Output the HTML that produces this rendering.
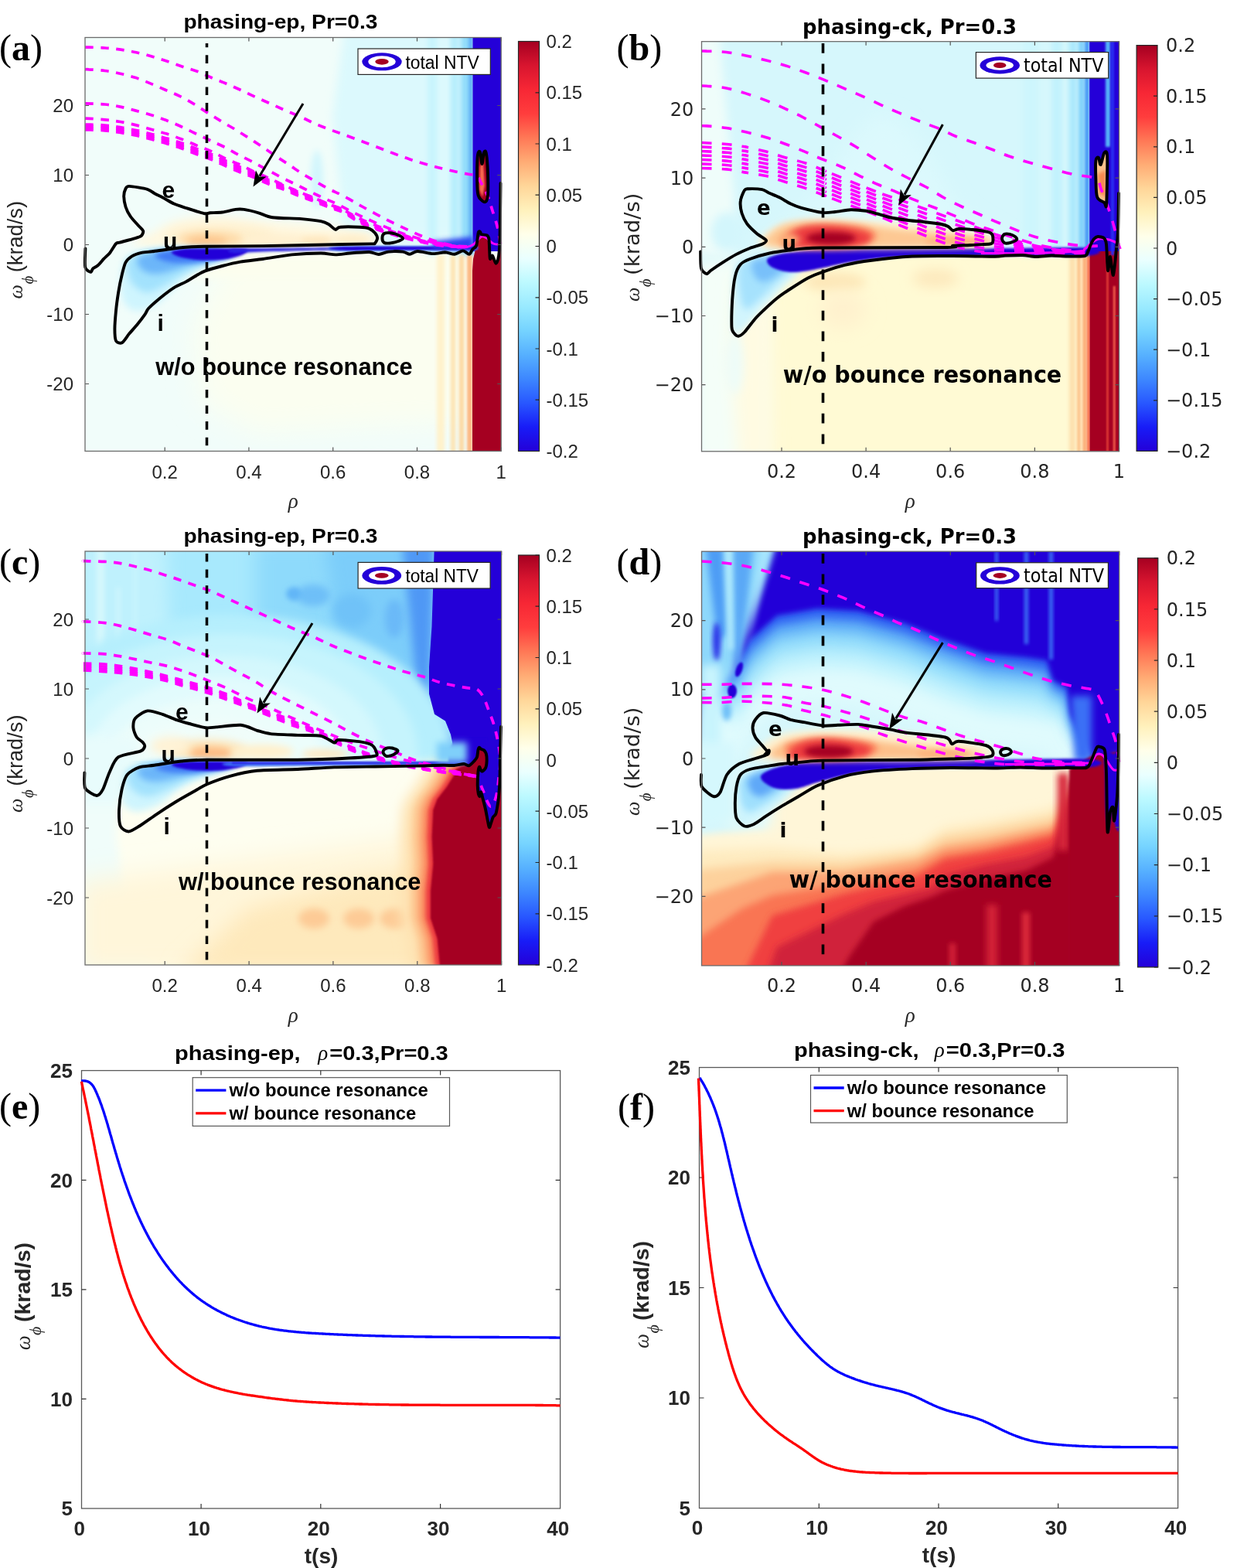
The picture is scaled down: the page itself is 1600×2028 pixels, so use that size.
<!DOCTYPE html>
<html><head><meta charset="utf-8"><title>figure</title>
<style>html,body{margin:0;padding:0;background:#fff;} svg{display:block;}</style></head>
<body><svg xmlns="http://www.w3.org/2000/svg" width="1600" height="2028" viewBox="0 0 1600 2028">
<rect width="1600" height="2028" fill="#fff"/>
<defs><filter id="bl6" x="-50%" y="-50%" width="200%" height="200%"><feGaussianBlur stdDeviation="6"/></filter><filter id="bl18" x="-50%" y="-50%" width="200%" height="200%"><feGaussianBlur stdDeviation="18"/></filter><filter id="bl3" x="-50%" y="-50%" width="200%" height="200%"><feGaussianBlur stdDeviation="3"/></filter><filter id="bl2" x="-50%" y="-50%" width="200%" height="200%"><feGaussianBlur stdDeviation="2"/></filter><filter id="bl4" x="-50%" y="-50%" width="200%" height="200%"><feGaussianBlur stdDeviation="4"/></filter><filter id="bl1_5" x="-50%" y="-50%" width="200%" height="200%"><feGaussianBlur stdDeviation="1.5"/></filter><filter id="bl1" x="-50%" y="-50%" width="200%" height="200%"><feGaussianBlur stdDeviation="1"/></filter><filter id="bl7" x="-50%" y="-50%" width="200%" height="200%"><feGaussianBlur stdDeviation="7"/></filter><filter id="bl5" x="-50%" y="-50%" width="200%" height="200%"><feGaussianBlur stdDeviation="5"/></filter><filter id="bl1_8" x="-50%" y="-50%" width="200%" height="200%"><feGaussianBlur stdDeviation="1.8"/></filter><filter id="bl1_2" x="-50%" y="-50%" width="200%" height="200%"><feGaussianBlur stdDeviation="1.2"/></filter><filter id="bl0_8" x="-50%" y="-50%" width="200%" height="200%"><feGaussianBlur stdDeviation="0.8"/></filter><filter id="bl12" x="-50%" y="-50%" width="200%" height="200%"><feGaussianBlur stdDeviation="12"/></filter><filter id="bl9" x="-50%" y="-50%" width="200%" height="200%"><feGaussianBlur stdDeviation="9"/></filter><filter id="bl10" x="-50%" y="-50%" width="200%" height="200%"><feGaussianBlur stdDeviation="10"/></filter><filter id="bl8" x="-50%" y="-50%" width="200%" height="200%"><feGaussianBlur stdDeviation="8"/></filter><filter id="bl3_5" x="-50%" y="-50%" width="200%" height="200%"><feGaussianBlur stdDeviation="3.5"/></filter><filter id="bl16" x="-50%" y="-50%" width="200%" height="200%"><feGaussianBlur stdDeviation="16"/></filter><filter id="bl14" x="-50%" y="-50%" width="200%" height="200%"><feGaussianBlur stdDeviation="14"/></filter><filter id="bl2_5" x="-50%" y="-50%" width="200%" height="200%"><feGaussianBlur stdDeviation="2.5"/></filter></defs>
<defs>
<linearGradient id="cbg" x1="0" y1="1" x2="0" y2="0"><stop offset="0.0000" stop-color="#2400d8"/><stop offset="0.0588" stop-color="#181cf7"/><stop offset="0.1176" stop-color="#2857ff"/><stop offset="0.1765" stop-color="#3d87ff"/><stop offset="0.2353" stop-color="#56b0ff"/><stop offset="0.2941" stop-color="#75d3ff"/><stop offset="0.3529" stop-color="#99eaff"/><stop offset="0.4118" stop-color="#bcf9ff"/><stop offset="0.4706" stop-color="#eaffff"/><stop offset="0.5294" stop-color="#ffffea"/><stop offset="0.5882" stop-color="#fff1bc"/><stop offset="0.6471" stop-color="#ffd699"/><stop offset="0.7059" stop-color="#ffac75"/><stop offset="0.7647" stop-color="#ff7856"/><stop offset="0.8235" stop-color="#ff3d3d"/><stop offset="0.8824" stop-color="#f72735"/><stop offset="0.9412" stop-color="#d8152f"/><stop offset="1.0000" stop-color="#a50021"/></linearGradient>
</defs>
<clipPath id="clipa"><rect x="110.0" y="48.5" width="538.2" height="535.0"/></clipPath>
<g clip-path="url(#clipa)">
<rect x="110.0" y="48.5" width="538.2" height="535.0" fill="#f1fdfa"  opacity="1"/>
<path d="M445.0,40.0L660.0,40.0L660.0,330.0L445.0,330.0L440.0,250.0L430.0,150.0Z" fill="#dcf9fd" filter="url(#bl6)" opacity="1"/>
<path d="M300.0,330.0L660.0,330.0L660.0,545.0L490.0,550.0L330.0,560.0L260.0,520.0L250.0,420.0L280.0,360.0Z" fill="#fbfef0" filter="url(#bl18)" opacity="1"/>
<path d="M200.0,330.0L660.0,330.0L660.0,360.0L200.0,360.0Z" fill="#fcfeee" filter="url(#bl6)" opacity="1"/>
<rect x="553" y="40" width="12" height="290" fill="#c8f4fd" filter="url(#bl3)" opacity="1"/>
<rect x="583" y="40" width="10" height="290" fill="#b4edfd" filter="url(#bl3)" opacity="1"/>
<rect x="596" y="40" width="12" height="290" fill="#8fdcfb" filter="url(#bl3)" opacity="1"/>
<rect x="606" y="40" width="6" height="290" fill="#55acf5" filter="url(#bl2)" opacity="1"/>
<ellipse cx="410" cy="232" rx="8" ry="38" fill="#d2f6fd" filter="url(#bl4)" opacity="1"/>
<rect x="565" y="330" width="10" height="260" fill="#fff2cc" filter="url(#bl2)" opacity="1"/>
<rect x="583" y="330" width="6" height="260" fill="#fde2ae" filter="url(#bl2)" opacity="1"/>
<rect x="594" y="330" width="6" height="260" fill="#fdd49a" filter="url(#bl2)" opacity="1"/>
<rect x="604" y="330" width="7" height="260" fill="#fcb985" filter="url(#bl1_5)" opacity="1"/>
<rect x="611.5" y="40" width="40" height="285" fill="#2400d8"  opacity="1"/>
<path d="M611.0,350.0L612.0,335.0L616.0,318.0L620.0,305.0L626.0,306.0L632.0,311.0L633.5,334.0L637.0,331.0L641.0,341.0L644.5,334.0L646.5,318.0L648.5,318.0L650.0,600.0L611.0,600.0Z" fill="#a50021"  opacity="1"/>
<path d="M618.0,200.0C618.7,195.3 620.2,195.0 621.0,197.0C621.8,199.0 622.2,212.0 623.0,212.0C623.8,212.0 625.0,199.0 626.0,197.0C627.0,195.0 628.2,195.3 629.0,200.0C629.8,204.7 630.7,216.3 631.0,225.0C631.3,233.7 631.5,246.0 631.0,252.0C630.5,258.0 629.5,260.0 628.0,261.0C626.5,262.0 623.7,259.8 622.0,258.0C620.3,256.2 618.8,255.5 618.0,250.0C617.2,244.5 617.0,233.3 617.0,225.0C617.0,216.7 617.3,204.7 618.0,200.0Z" fill="#a50021"  opacity="1"/>
<path d="M621.0,215.0L625.0,210.0L627.0,240.0L624.0,255.0L620.0,245.0Z" fill="#f96a4f" filter="url(#bl1)" opacity="1"/>
<path d="M190.0,318.0C145.0,315.0 193.3,305.5 200.0,300.0C206.7,294.5 216.7,288.3 230.0,285.0C243.3,281.7 261.7,279.8 280.0,280.0C298.3,280.2 316.7,284.0 340.0,286.0C363.3,288.0 396.7,289.7 420.0,292.0C443.3,294.3 468.7,296.7 480.0,300.0C491.3,303.3 489.7,309.0 488.0,312.0C486.3,315.0 519.7,317.0 470.0,318.0C420.3,319.0 235.0,321.0 190.0,318.0Z" fill="#fff8e0" filter="url(#bl6)" opacity="1"/>
<ellipse cx="285" cy="305" rx="70" ry="14" fill="#feefcc" filter="url(#bl7)" opacity="1"/>
<ellipse cx="272" cy="309" rx="42" ry="10" fill="#fedcaa" filter="url(#bl5)" opacity="1"/>
<ellipse cx="268" cy="312" rx="26" ry="6" fill="#fdc68e" filter="url(#bl4)" opacity="1"/>
<ellipse cx="360" cy="310" rx="40" ry="8" fill="#fff0d0" filter="url(#bl5)" opacity="1"/>
<ellipse cx="410" cy="311" rx="22" ry="6" fill="#fee6bc" filter="url(#bl4)" opacity="1"/>
<ellipse cx="455" cy="310" rx="25" ry="6" fill="#feedc8" filter="url(#bl4)" opacity="1"/>
<path d="M158.0,345.0C160.3,335.8 165.0,333.5 172.0,330.0C179.0,326.5 187.0,325.3 200.0,324.0C213.0,322.7 233.3,322.3 250.0,322.0C266.7,321.7 291.7,320.0 300.0,322.0C308.3,324.0 306.7,329.7 300.0,334.0C293.3,338.3 271.7,342.3 260.0,348.0C248.3,353.7 239.2,360.7 230.0,368.0C220.8,375.3 214.2,386.3 205.0,392.0C195.8,397.7 182.8,403.2 175.0,402.0C167.2,400.8 160.8,394.5 158.0,385.0C155.2,375.5 155.7,354.2 158.0,345.0Z" fill="#cff5fe" filter="url(#bl5)" opacity="1"/>
<path d="M165.0,338.0C167.5,331.7 175.8,329.5 185.0,327.0C194.2,324.5 202.5,323.7 220.0,323.0C237.5,322.3 280.0,320.8 290.0,323.0C300.0,325.2 287.5,331.5 280.0,336.0C272.5,340.5 255.8,344.7 245.0,350.0C234.2,355.3 224.2,363.3 215.0,368.0C205.8,372.7 197.5,378.5 190.0,378.0C182.5,377.5 174.2,371.7 170.0,365.0C165.8,358.3 162.5,344.3 165.0,338.0Z" fill="#a3e2fd" filter="url(#bl5)" opacity="1"/>
<path d="M178.0,334.0C180.5,330.0 190.5,327.8 200.0,326.0C209.5,324.2 222.5,323.3 235.0,323.0C247.5,322.7 270.5,321.8 275.0,324.0C279.5,326.2 268.7,332.3 262.0,336.0C255.3,339.7 244.5,343.0 235.0,346.0C225.5,349.0 213.3,353.3 205.0,354.0C196.7,354.7 189.5,353.3 185.0,350.0C180.5,346.7 175.5,338.0 178.0,334.0Z" fill="#6cb6f9" filter="url(#bl4)" opacity="1"/>
<path d="M200.0,330.0C200.8,327.7 211.7,325.2 220.0,324.0C228.3,322.8 240.0,322.7 250.0,322.5C260.0,322.3 271.7,321.8 280.0,323.0C288.3,324.2 301.7,327.5 300.0,330.0C298.3,332.5 280.0,336.3 270.0,338.0C260.0,339.7 249.2,340.0 240.0,340.0C230.8,340.0 221.7,339.7 215.0,338.0C208.3,336.3 199.2,332.3 200.0,330.0Z" fill="#3f7cf5" filter="url(#bl3)" opacity="1"/>
<path d="M222.0,326.0C223.3,324.3 232.0,322.8 240.0,322.0C248.0,321.2 260.0,321.6 270.0,321.5C280.0,321.4 291.7,321.2 300.0,321.5C308.3,321.8 318.3,321.4 320.0,323.0C321.7,324.6 315.8,328.8 310.0,331.0C304.2,333.2 294.2,335.2 285.0,336.0C275.8,336.8 263.8,336.7 255.0,336.0C246.2,335.3 237.5,333.7 232.0,332.0C226.5,330.3 220.7,327.7 222.0,326.0Z" fill="#2400d8" filter="url(#bl1_8)" opacity="1"/>
<path d="M300.0,321.5C306.7,320.5 323.3,321.2 340.0,321.0C356.7,320.8 383.3,320.6 400.0,320.5C416.7,320.4 433.3,320.1 440.0,320.5C446.7,320.9 446.7,322.4 440.0,323.0C433.3,323.6 416.7,323.6 400.0,324.0C383.3,324.4 356.7,325.0 340.0,325.5C323.3,326.0 306.7,327.7 300.0,327.0C293.3,326.3 293.3,322.5 300.0,321.5Z" fill="#2a20e4" filter="url(#bl1_5)" opacity="1"/>
<path d="M440.0,318.5C460.0,317.3 531.3,318.2 560.0,318.0C588.7,317.8 603.3,316.5 612.0,317.5C620.7,318.5 620.7,322.8 612.0,324.0C603.3,325.2 588.7,324.3 560.0,324.5C531.3,324.7 460.0,326.0 440.0,325.0C420.0,324.0 420.0,319.7 440.0,318.5Z" fill="#6fb8fa" filter="url(#bl1_2)" opacity="1"/>
<path d="M440.0,319.2C460.0,318.4 531.3,318.9 560.0,318.8C588.7,318.7 603.3,317.8 612.0,318.5C620.7,319.2 620.7,322.2 612.0,323.0C603.3,323.8 588.7,323.1 560.0,323.2C531.3,323.3 460.0,324.4 440.0,323.7C420.0,323.0 420.0,320.0 440.0,319.2Z" fill="#2400d8" filter="url(#bl0_8)" opacity="1"/>
<path d="M560.0,312.0L612.0,306.0L612.0,322.0L560.0,322.0Z" fill="#2a40f0" filter="url(#bl3)" opacity="1"/>
</g>
<path d="M110.3,61.1C111.1,61.1 111.1,61.0 115.3,61.1C119.5,61.2 128.8,61.5 135.6,62.0C142.4,62.5 149.3,63.3 156.1,64.2C162.9,65.2 169.5,66.3 176.2,67.8C182.9,69.2 189.8,71.1 196.4,73.0C203.0,74.9 209.1,76.9 215.6,79.1C222.1,81.3 228.8,83.9 235.4,86.1C242.0,88.3 248.5,89.8 255.0,92.2C261.5,94.7 267.8,97.9 274.2,100.7C280.6,103.4 287.3,105.9 293.5,108.5C299.7,111.1 305.3,113.7 311.5,116.5C317.7,119.3 324.2,122.6 330.5,125.5C336.8,128.4 343.2,131.2 349.5,134.0C355.8,136.8 362.0,139.7 368.5,142.5C375.0,145.3 382.2,148.2 388.5,151.0C394.8,153.8 400.4,156.8 406.5,159.5C412.6,162.2 418.7,164.6 425.0,167.0C431.3,169.4 437.0,171.2 444.5,174.0C452.0,176.8 460.8,180.0 470.0,183.5C479.2,187.0 490.0,191.2 500.0,195.0C510.0,198.8 520.0,202.7 530.0,206.0C540.0,209.3 550.8,212.5 560.0,215.0C569.2,217.5 577.2,219.2 585.0,221.0C592.8,222.8 601.7,224.5 607.0,225.5C612.3,226.5 614.3,225.2 616.8,227.0C619.3,228.8 619.6,231.6 622.0,236.0C624.4,240.4 628.5,247.5 631.0,253.7C633.5,259.9 635.1,266.5 637.2,273.2C639.3,279.9 641.8,287.0 643.4,293.7C645.0,300.4 646.1,309.1 647.0,313.2C647.9,317.2 648.7,317.2 649.0,318.0" fill="none" stroke="#ff00ff" stroke-width="3.7" stroke-dasharray="10.5 9.5"/>
<path d="M110.3,89.8C111.1,89.8 110.8,89.5 115.0,89.8C119.2,90.0 128.8,90.6 135.6,91.5C142.4,92.4 148.9,93.7 155.6,95.2C162.3,96.8 169.0,98.5 175.6,100.6C182.2,102.7 188.6,105.5 195.0,108.1C201.4,110.7 207.5,113.5 213.8,116.2C220.0,119.0 226.4,121.4 232.5,124.4C238.6,127.4 244.7,130.9 250.6,134.4C256.5,137.9 262.2,141.8 268.1,145.6C274.0,149.3 280.4,153.3 286.2,156.9C292.1,160.5 297.7,163.5 303.5,167.0C309.3,170.5 315.2,174.3 321.0,178.0C326.8,181.7 332.2,185.2 338.0,189.0C343.8,192.8 349.7,197.1 355.5,201.0C361.3,204.9 367.2,208.7 373.0,212.5C378.8,216.3 384.3,220.4 390.0,224.0C395.7,227.6 401.1,230.6 407.0,234.0C412.9,237.4 419.2,241.2 425.5,244.5C431.8,247.8 437.1,249.6 444.5,253.5C451.9,257.4 460.8,262.9 470.0,268.0C479.2,273.1 490.0,278.9 500.0,284.0C510.0,289.1 520.8,294.3 530.0,298.5C539.2,302.7 547.5,306.2 555.0,309.0C562.5,311.8 569.2,313.5 575.0,315.0C580.8,316.5 584.2,317.3 590.0,318.0C595.8,318.7 606.7,318.8 610.0,319.0" fill="none" stroke="#ff00ff" stroke-width="3.7" stroke-dasharray="10.5 9.5"/>
<path d="M110.3,133.8C114.5,134.0 128.0,134.3 135.6,135.0C143.2,135.7 148.9,136.8 155.6,138.1C162.3,139.4 168.9,141.3 175.6,143.1C182.3,144.9 189.0,146.7 195.6,148.8C202.2,150.8 208.5,153.1 215.0,155.6C221.5,158.1 228.2,160.9 234.4,163.8C240.7,166.6 246.2,169.5 252.5,172.5C258.9,175.5 265.9,178.8 272.5,181.9C279.1,185.0 286.1,188.0 292.0,191.0C297.9,194.0 302.3,197.0 308.0,200.0C313.7,203.0 319.9,205.8 326.0,209.0C332.1,212.2 338.3,215.7 344.5,219.0C350.7,222.3 356.8,225.8 363.0,229.0C369.2,232.2 375.4,235.0 381.5,238.0C387.6,241.0 393.4,244.0 399.5,247.0C405.6,250.0 411.8,253.1 418.0,256.0C424.2,258.9 428.3,260.3 437.0,264.5C445.7,268.7 457.0,275.1 470.0,281.0C483.0,286.9 500.0,294.6 515.0,300.0C530.0,305.4 547.5,310.4 560.0,313.5C572.5,316.6 582.5,317.6 590.0,318.5C597.5,319.4 602.5,318.9 605.0,319.0" fill="none" stroke="#ff00ff" stroke-width="3.7" stroke-dasharray="10.5 9.5"/>
<path d="M110.3,153.1C114.5,153.4 128.0,154.0 135.6,154.8C143.2,155.5 148.8,156.3 155.6,157.5C162.4,158.7 169.5,160.2 176.2,161.9C183.0,163.6 189.7,165.6 196.2,167.5C202.8,169.4 209.1,171.0 215.6,173.1C222.1,175.2 228.5,177.5 235.0,180.0C241.5,182.5 248.1,185.5 254.4,188.1C260.8,190.7 267.0,192.8 273.1,195.6C279.2,198.4 285.0,202.1 291.2,205.0C297.5,207.9 304.3,210.2 310.5,213.0C316.7,215.8 322.4,219.2 328.5,222.0C334.6,224.8 340.6,227.1 347.0,230.0C353.4,232.9 360.4,236.5 367.0,239.5C373.6,242.5 380.0,245.2 386.5,248.0C393.0,250.8 399.6,253.3 406.0,256.0C412.4,258.7 418.7,261.4 425.0,264.0C431.3,266.6 436.5,268.0 444.0,271.5C451.5,275.0 458.2,279.9 470.0,285.0C481.8,290.1 500.0,297.1 515.0,302.0C530.0,306.9 547.5,311.8 560.0,314.5C572.5,317.2 583.3,317.8 590.0,318.5C596.7,319.2 598.3,318.9 600.0,319.0" fill="none" stroke="#ff00ff" stroke-width="3.7" stroke-dasharray="10.5 9.5"/>
<path d="M110.3,161.0C114.5,161.2 128.0,161.4 135.6,162.0C143.2,162.6 148.8,163.6 155.6,164.7C162.4,165.8 169.5,167.0 176.2,168.5C183.0,170.0 189.6,171.7 196.2,173.5C202.9,175.3 209.7,177.1 216.2,179.1C222.8,181.1 229.1,183.1 235.6,185.3C242.1,187.6 248.6,190.5 255.0,192.8C261.4,195.2 267.4,197.1 273.8,199.7C280.1,202.3 286.7,205.7 293.1,208.5C299.5,211.3 305.9,214.2 312.0,216.7C318.1,219.3 323.8,221.2 330.0,223.9C336.2,226.7 342.7,230.4 349.0,233.2C355.3,235.9 361.8,237.8 368.0,240.4C374.2,242.9 380.2,246.0 386.5,248.6C392.8,251.2 399.6,253.2 406.0,255.8C412.4,258.4 418.7,261.4 425.0,264.0C431.3,266.6 436.5,267.4 444.0,271.2C451.5,275.1 458.2,281.6 470.0,287.0C481.8,292.4 500.0,298.9 515.0,303.5C530.0,308.2 547.5,312.5 560.0,315.0C572.5,317.6 583.3,318.1 590.0,318.9C596.7,319.6 598.3,319.4 600.0,319.5" fill="none" stroke="#ff00ff" stroke-width="3.7" stroke-dasharray="10.5 9.5"/>
<path d="M110.3,163.3C114.5,163.5 128.0,163.7 135.6,164.3C143.2,164.9 148.8,165.9 155.6,167.0C162.4,168.1 169.5,169.3 176.2,170.8C183.0,172.3 189.6,174.0 196.2,175.8C202.9,177.6 209.7,179.4 216.2,181.4C222.8,183.4 229.1,185.4 235.6,187.7C242.1,189.9 248.6,192.8 255.0,195.2C261.4,197.5 267.4,199.4 273.8,202.0C280.1,204.6 286.7,208.0 293.1,210.8C299.5,213.6 305.9,216.4 312.0,218.9C318.1,221.5 323.8,223.3 330.0,226.0C336.2,228.7 342.7,232.4 349.0,235.1C355.3,237.8 361.8,239.6 368.0,242.1C374.2,244.7 380.2,247.7 386.5,250.2C392.8,252.7 399.6,254.8 406.0,257.3C412.4,259.8 418.7,262.8 425.0,265.4C431.3,267.9 436.5,268.7 444.0,272.4C451.5,276.2 458.2,282.7 470.0,288.0C481.8,293.3 500.0,299.6 515.0,304.2C530.0,308.7 547.5,312.9 560.0,315.4C572.5,317.8 583.3,318.3 590.0,319.0C596.7,319.7 598.3,319.4 600.0,319.5" fill="none" stroke="#ff00ff" stroke-width="3.7" stroke-dasharray="10.5 9.5"/>
<path d="M110.3,165.5C114.5,165.7 128.0,165.9 135.6,166.5C143.2,167.1 148.8,168.1 155.6,169.2C162.4,170.3 169.5,171.5 176.2,173.0C183.0,174.5 189.6,176.2 196.2,178.0C202.9,179.8 209.7,181.6 216.2,183.6C222.8,185.6 229.1,187.6 235.6,189.8C242.1,192.1 248.6,195.0 255.0,197.3C261.4,199.7 267.4,201.6 273.8,204.2C280.1,206.8 286.7,210.2 293.1,213.0C299.5,215.8 305.9,218.6 312.0,221.1C318.1,223.6 323.8,225.3 330.0,228.0C336.2,230.6 342.7,234.3 349.0,236.9C355.3,239.6 361.8,241.4 368.0,243.9C374.2,246.3 380.2,249.3 386.5,251.8C392.8,254.3 399.6,256.2 406.0,258.7C412.4,261.2 418.7,264.2 425.0,266.6C431.3,269.1 436.5,269.8 444.0,273.6C451.5,277.3 458.2,283.8 470.0,289.0C481.8,294.2 500.0,300.4 515.0,304.8C530.0,309.3 547.5,313.3 560.0,315.6C572.5,318.0 583.3,318.4 590.0,319.0C596.7,319.7 598.3,319.4 600.0,319.5" fill="none" stroke="#ff00ff" stroke-width="3.7" stroke-dasharray="10.5 9.5"/>
<path d="M110.3,167.8C114.5,168.0 128.0,168.2 135.6,168.8C143.2,169.4 148.8,170.4 155.6,171.5C162.4,172.6 169.5,173.8 176.2,175.3C183.0,176.8 189.6,178.5 196.2,180.3C202.9,182.1 209.7,183.9 216.2,185.9C222.8,187.9 229.1,189.9 235.6,192.2C242.1,194.4 248.6,197.3 255.0,199.7C261.4,202.0 267.4,203.9 273.8,206.5C280.1,209.1 286.7,212.5 293.1,215.3C299.5,218.1 305.9,220.8 312.0,223.3C318.1,225.7 323.8,227.5 330.0,230.1C336.2,232.7 342.7,236.2 349.0,238.8C355.3,241.4 361.8,243.2 368.0,245.6C374.2,248.1 380.2,251.0 386.5,253.4C392.8,255.8 399.6,257.8 406.0,260.2C412.4,262.6 418.7,265.6 425.0,268.0C431.3,270.4 436.5,271.1 444.0,274.8C451.5,278.4 458.2,284.9 470.0,290.0C481.8,295.1 500.0,301.1 515.0,305.5C530.0,309.8 547.5,313.7 560.0,316.0C572.5,318.2 583.3,318.5 590.0,319.1C596.7,319.7 598.3,319.4 600.0,319.5" fill="none" stroke="#ff00ff" stroke-width="3.7" stroke-dasharray="10.5 9.5"/>
<path d="M560.0,313.0C562.5,313.4 570.0,314.5 575.0,315.6C580.0,316.7 585.2,318.8 590.0,319.4C594.8,320.0 600.2,320.0 604.0,319.4C607.8,318.8 609.9,317.8 613.0,315.6C616.1,313.4 619.9,307.7 622.5,306.3C625.1,304.9 626.2,306.1 628.8,307.5C631.4,308.9 634.8,313.5 638.0,315.0C641.2,316.5 646.3,316.1 648.0,316.3" fill="none" stroke="#ff00ff" stroke-width="3"/>
<path d="M110.4,321.4C110.4,324.6 109.3,341.5 110.2,345.6C111.1,349.7 115.9,351.7 117.2,351.9C118.5,352.1 119.0,348.3 120.3,347.2C121.6,346.1 124.7,345.0 126.6,343.3C128.5,341.6 132.3,336.9 134.4,334.7C136.5,332.5 140.1,329.5 142.2,326.9C144.3,324.3 148.3,317.0 150.0,315.2C151.7,313.4 151.4,314.5 154.7,313.6C158.0,312.7 171.3,309.2 175.0,308.1C178.7,307.0 181.4,306.2 182.8,305.0C184.2,303.8 185.6,300.4 185.2,298.8C184.8,297.1 181.9,295.0 179.7,292.5C177.5,290.0 171.0,283.3 168.8,280.0C166.5,276.7 163.6,271.0 162.5,267.5C161.4,264.0 160.2,256.5 160.2,253.4C160.2,250.3 161.6,245.7 162.5,244.0C163.4,242.3 163.5,240.8 167.2,240.9C170.9,241.0 186.2,243.5 190.6,244.8C195.0,246.1 197.1,248.7 200.0,250.3C202.9,251.9 209.2,254.8 212.5,256.6C215.8,258.4 221.3,261.9 225.0,263.6C228.7,265.3 235.4,267.3 240.6,269.0C245.8,270.7 259.8,275.3 264.0,276.1C268.2,276.9 268.8,275.5 271.9,275.3C275.0,275.1 283.1,275.1 287.5,274.5C291.9,273.9 301.0,271.4 304.7,270.9C308.4,270.4 311.6,270.3 315.6,270.9C319.6,271.5 329.5,273.9 334.4,275.3C339.3,276.7 345.1,280.2 352.5,281.2C359.9,282.3 381.7,282.4 390.0,283.1C398.3,283.8 410.3,285.3 415.0,286.2C419.7,287.2 422.5,288.6 425.0,290.0C427.5,291.4 431.8,296.4 433.8,296.9C435.8,297.4 435.8,294.2 440.0,293.8C444.2,293.3 460.0,293.5 465.0,293.8C470.0,294.0 474.8,294.6 477.5,295.6C480.2,296.6 483.6,299.6 485.0,301.2C486.4,302.9 488.1,306.3 488.1,308.1C488.1,309.9 486.1,313.4 485.0,314.4C483.9,315.4 487.0,315.2 480.0,315.4C473.0,315.6 451.2,315.9 432.5,316.2C413.8,316.6 362.5,317.8 340.0,318.1C317.5,318.4 277.3,318.5 264.0,318.8C250.7,319.0 246.6,319.3 240.6,319.8C234.6,320.3 224.6,321.5 218.8,322.2C212.9,322.9 201.7,324.7 196.9,325.3C192.1,325.9 186.3,326.1 182.8,326.9C179.3,327.7 173.0,329.9 170.3,331.6C167.6,333.3 164.2,336.3 162.5,339.4C160.8,342.5 159.1,349.8 157.8,355.0C156.5,360.2 154.1,372.1 153.1,378.4C152.1,384.7 150.6,395.6 150.0,401.9C149.4,408.2 148.4,420.1 148.4,425.3C148.4,430.5 148.7,438.5 150.0,440.9C151.3,443.3 155.5,444.5 157.8,443.3C160.1,442.1 164.5,434.8 167.2,431.6C169.9,428.4 175.4,422.3 178.1,419.0C180.8,415.7 185.6,409.3 187.5,406.6C189.4,403.9 189.7,401.5 192.2,398.8C194.7,396.0 201.9,389.8 206.2,386.2C210.6,382.7 220.4,375.1 225.0,372.2C229.6,369.3 236.4,366.7 240.6,364.4C244.8,362.1 252.9,356.9 256.2,355.0C259.6,353.1 261.4,351.8 265.6,350.3C269.8,348.8 281.5,345.6 287.5,344.0C293.5,342.4 303.9,339.8 310.9,338.6C317.9,337.4 331.1,336.2 340.0,335.0C348.9,333.8 367.5,330.4 377.5,329.4C387.5,328.4 407.5,327.5 415.0,327.5C422.5,327.5 428.8,329.4 433.8,329.4C438.8,329.4 446.7,328.0 452.5,327.5C458.3,327.0 472.5,325.8 477.5,326.0C482.5,326.2 486.7,329.1 490.0,329.0C493.3,328.9 498.3,326.1 502.5,325.6C506.7,325.1 517.6,325.2 521.2,325.6C524.9,326.0 527.5,328.8 530.0,328.8C532.5,328.7 536.0,325.1 540.0,325.0C544.0,324.9 555.3,327.9 560.0,328.1C564.7,328.3 571.9,326.2 575.6,326.2C579.3,326.3 584.9,329.0 588.0,328.8C591.1,328.5 596.2,324.4 598.8,324.4C601.3,324.4 605.2,329.0 606.9,328.8C608.6,328.5 610.0,324.0 611.2,322.5C612.5,321.0 615.2,320.4 616.2,317.5C617.2,314.6 618.1,302.9 618.8,300.6C619.4,298.3 620.8,299.7 621.2,300.0C621.8,300.3 621.3,302.5 622.5,303.1C623.7,303.7 628.7,303.5 630.0,304.4C631.3,305.3 632.0,306.0 632.5,310.0C633.0,314.0 633.2,331.7 633.8,334.4C634.3,337.1 635.9,329.8 636.9,330.6C637.9,331.4 640.2,340.1 641.2,340.6C642.2,341.1 643.7,337.5 644.4,334.4C645.1,331.3 645.9,324.8 646.2,317.5C646.6,310.2 646.8,290.7 647.0,280.0C647.2,269.3 647.4,242.7 647.5,237.0" fill="none" stroke="#000" stroke-width="3.9" stroke-linejoin="round" stroke-linecap="round"/>
<path d="M494.4,308.0C494.4,306.0 495.2,303.1 497.0,302.0C498.8,300.9 502.0,301.0 505.0,301.3C508.0,301.6 512.3,302.8 515.0,304.0C517.7,305.2 521.2,307.2 521.2,308.5C521.2,309.8 517.7,311.0 515.0,312.0C512.3,313.0 508.0,314.1 505.0,314.4C502.0,314.7 498.8,315.1 497.0,314.0C495.2,312.9 494.4,310.0 494.4,308.0Z" fill="none" stroke="#000" stroke-width="3.9" stroke-linejoin="round" stroke-linecap="round"/>
<path d="M618.0,200.0C618.7,195.3 620.1,195.0 621.0,197.0C621.9,199.0 622.7,212.0 623.5,212.0C624.3,212.0 625.1,199.2 626.0,197.0C626.9,194.8 628.2,194.3 629.0,199.0C629.8,203.7 630.7,216.2 631.0,225.0C631.3,233.8 631.5,246.0 631.0,252.0C630.5,258.0 629.5,260.0 628.0,261.0C626.5,262.0 623.7,259.8 622.0,258.0C620.3,256.2 618.8,255.5 618.0,250.0C617.2,244.5 617.0,233.3 617.0,225.0C617.0,216.7 617.3,204.7 618.0,200.0Z" fill="none" stroke="#000" stroke-width="3.9" stroke-linejoin="round" stroke-linecap="round"/>
<path d="M267.5,56V580" stroke="#000" stroke-width="3.5" stroke-dasharray="10.6 10" stroke-dashoffset="5.3"/>
<path d="M392,134L335.7,227.8" stroke="#000" stroke-width="3.0"/>
<path d="M327.5,241.5L330.9,220.2L335.2,228.6L344.6,228.5Z" fill="#000"/>
<text x="209.5" y="255.8" font-family="'Liberation Sans', Arial, Helvetica, sans-serif" font-size="30" font-weight="bold" text-anchor="start" fill="#000" >e</text>
<text x="211" y="322.2" font-family="'Liberation Sans', Arial, Helvetica, sans-serif" font-size="30" font-weight="bold" text-anchor="start" fill="#000" >u</text>
<text x="203.5" y="427.7" font-family="'Liberation Sans', Arial, Helvetica, sans-serif" font-size="30" font-weight="bold" text-anchor="start" fill="#000" >i</text>
<text x="201.25" y="484.7" font-family="'Liberation Sans', Arial, Helvetica, sans-serif" font-size="30.5" font-weight="bold" text-anchor="start" fill="#000" textLength="332.5" lengthAdjust="spacingAndGlyphs">w/o bounce resonance</text>
<rect x="463" y="63" width="171.29999999999995" height="33.400000000000006" fill="#fff" stroke="#262626" stroke-width="1.2"/>
<ellipse cx="494" cy="79.8" rx="25.7" ry="11.5" fill="#2400d8"/>
<ellipse cx="494" cy="79.8" rx="17.7" ry="7.5" fill="#fff"/>
<ellipse cx="494" cy="79.8" rx="8.7" ry="3.9" fill="#a50021"/>
<text x="524.4" y="89.4" font-family="'Liberation Sans', Arial, Helvetica, sans-serif" font-size="23" font-weight="normal" text-anchor="start" fill="#000" textLength="95.3" lengthAdjust="spacingAndGlyphs">total NTV</text>
<clipPath id="clipb"><rect x="907.5" y="53.7" width="540.0" height="530.0999999999999"/></clipPath>
<g clip-path="url(#clipb)">
<rect x="907.5" y="53.7" width="540.0" height="530.0999999999999" fill="#d6f7fc"  opacity="1"/>
<path d="M900.0,40.0L930.0,40.0L940.0,150.0L950.0,260.0L945.0,330.0L900.0,330.0Z" fill="#effdfa" filter="url(#bl6)" opacity="1"/>
<path d="M1000.0,330.0C960.0,316.7 1041.7,276.7 1060.0,250.0C1078.3,223.3 1095.0,186.7 1110.0,170.0C1125.0,153.3 1135.0,145.0 1150.0,150.0C1165.0,155.0 1185.0,180.0 1200.0,200.0C1215.0,220.0 1223.3,248.3 1240.0,270.0C1256.7,291.7 1340.0,320.0 1300.0,330.0C1260.0,340.0 1040.0,343.3 1000.0,330.0Z" fill="#dcf9fd" filter="url(#bl12)" opacity="1"/>
<ellipse cx="940" cy="300" rx="20" ry="25" fill="#d3f6fc" filter="url(#bl6)" opacity="1"/>
<path d="M985.0,329.0L1460.0,329.0L1460.0,600.0L985.0,600.0L975.0,340.0Z" fill="#fffad4" filter="url(#bl1)" opacity="1"/>
<path d="M900.0,338.0L990.0,332.0L990.0,600.0L900.0,600.0Z" fill="#f4fef8" filter="url(#bl9)" opacity="1"/>
<path d="M950.0,360.0L995.0,335.0L1000.0,600.0L955.0,600.0L945.0,450.0Z" fill="#fffbe2" filter="url(#bl10)" opacity="1"/>
<ellipse cx="950" cy="470" rx="12" ry="40" fill="#eefcf8" filter="url(#bl6)" opacity="1"/>
<ellipse cx="1080" cy="365" rx="40" ry="12" fill="#fde6b6" filter="url(#bl7)" opacity="1"/>
<ellipse cx="1210" cy="360" rx="30" ry="12" fill="#fde9bd" filter="url(#bl8)" opacity="1"/>
<ellipse cx="1090" cy="400" rx="30" ry="25" fill="#fff1ce" filter="url(#bl12)" opacity="1"/>
<rect x="1383" y="330" width="8" height="260" fill="#fde0ae" filter="url(#bl2)" opacity="1"/>
<rect x="1393" y="330" width="5" height="260" fill="#fdc58e" filter="url(#bl1_5)" opacity="1"/>
<rect x="1400" y="330" width="6" height="260" fill="#fcb07c" filter="url(#bl1_5)" opacity="1"/>
<rect x="1406" y="330" width="4" height="260" fill="#f8704f" filter="url(#bl1)" opacity="1"/>
<path d="M1409.5,330.0L1411.0,318.0L1416.0,309.0L1421.0,306.0L1428.0,308.0L1432.0,315.0L1448.0,318.0L1450.0,600.0L1409.5,600.0Z" fill="#a50021"  opacity="1"/>
<rect x="1431.5" y="340" width="2" height="250" fill="#f6503e" filter="url(#bl0_8)" opacity="1"/>
<rect x="1440" y="370" width="2.5" height="220" fill="#fb6a4f" filter="url(#bl0_8)" opacity="1"/>
<rect x="1323" y="40" width="20" height="290" fill="#cdf6fd" filter="url(#bl4)" opacity="1"/>
<rect x="1360" y="40" width="14" height="290" fill="#c2f2fd" filter="url(#bl3)" opacity="1"/>
<rect x="1383" y="40" width="10" height="290" fill="#a8e8fd" filter="url(#bl3)" opacity="1"/>
<rect x="1395" y="40" width="8" height="290" fill="#7fd0fb" filter="url(#bl2)" opacity="1"/>
<rect x="1403" y="40" width="6" height="290" fill="#4c9cf6" filter="url(#bl1_5)" opacity="1"/>
<rect x="1409.2" y="40" width="40" height="285" fill="#2400d8"  opacity="1"/>
<rect x="1430" y="40" width="6" height="150" fill="#55b5fa" filter="url(#bl1_5)" opacity="1"/>
<rect x="1437" y="40" width="4" height="290" fill="#2a2ff0" filter="url(#bl1)" opacity="1"/>
<path d="M1417.4,207.7C1418.0,203.2 1420.0,203.1 1421.0,204.0C1422.0,204.9 1422.5,214.1 1423.7,213.0C1424.9,211.9 1426.9,199.8 1428.3,197.7C1429.7,195.6 1431.4,194.8 1432.0,200.4C1432.6,206.0 1432.2,220.4 1432.0,231.2C1431.8,242.1 1431.6,260.6 1431.0,265.7C1430.4,270.8 1430.3,263.8 1428.3,262.0C1426.3,260.2 1421.0,259.9 1419.2,254.8C1417.4,249.7 1417.7,239.1 1417.4,231.2C1417.1,223.4 1416.8,212.2 1417.4,207.7Z" fill="#fdc28c"  opacity="1"/>
<path d="M1420.0,225.0L1430.0,220.0L1430.0,255.0L1422.0,250.0Z" fill="#f8864f" filter="url(#bl2)" opacity="1"/>
<path d="M950.0,345.0C953.2,336.0 957.5,338.5 965.0,336.0C972.5,333.5 982.5,329.3 995.0,330.0C1007.5,330.7 1037.5,332.5 1040.0,340.0C1042.5,347.5 1019.2,365.0 1010.0,375.0C1000.8,385.0 993.0,391.7 985.0,400.0C977.0,408.3 968.2,420.0 962.0,425.0C955.8,430.0 950.7,435.8 948.0,430.0C945.3,424.2 945.7,404.2 946.0,390.0C946.3,375.8 946.8,354.0 950.0,345.0Z" fill="#d2f5fd" filter="url(#bl4)" opacity="1"/>
<path d="M956.0,345.0C958.5,337.7 965.5,338.3 972.0,336.0C978.5,333.7 985.3,330.3 995.0,331.0C1004.7,331.7 1028.3,334.3 1030.0,340.0C1031.7,345.7 1012.5,357.5 1005.0,365.0C997.5,372.5 991.7,379.2 985.0,385.0C978.3,390.8 969.7,400.8 965.0,400.0C960.3,399.2 958.5,389.2 957.0,380.0C955.5,370.8 953.5,352.3 956.0,345.0Z" fill="#a6e2fd" filter="url(#bl5)" opacity="1"/>
<path d="M972.0,340.0C973.7,335.7 983.7,335.2 988.0,334.0C992.3,332.8 992.7,331.7 998.0,333.0C1003.3,334.3 1018.8,338.2 1020.0,342.0C1021.2,345.8 1010.0,352.3 1005.0,356.0C1000.0,359.7 994.5,363.3 990.0,364.0C985.5,364.7 981.0,364.0 978.0,360.0C975.0,356.0 970.3,344.3 972.0,340.0Z" fill="#78c0fa" filter="url(#bl4)" opacity="1"/>
<path d="M992.0,336.0C992.7,333.8 995.3,332.6 1000.0,331.0C1004.7,329.4 1010.0,327.9 1020.0,326.5C1030.0,325.1 1043.3,323.3 1060.0,322.5C1076.7,321.7 1096.7,321.7 1120.0,321.5C1143.3,321.3 1170.0,321.3 1200.0,321.2C1230.0,321.1 1265.2,321.1 1300.0,321.0C1334.8,320.9 1390.8,318.9 1409.0,320.5C1427.2,322.1 1427.2,328.8 1409.0,330.5C1390.8,332.2 1334.8,330.8 1300.0,331.0C1265.2,331.2 1225.0,331.2 1200.0,331.5C1175.0,331.8 1166.7,331.8 1150.0,333.0C1133.3,334.2 1114.7,336.7 1100.0,339.0C1085.3,341.3 1073.7,344.8 1062.0,347.0C1050.3,349.2 1038.7,351.5 1030.0,352.0C1021.3,352.5 1015.7,351.3 1010.0,350.0C1004.3,348.7 999.0,346.3 996.0,344.0C993.0,341.7 991.3,338.2 992.0,336.0Z" fill="#2400d8" filter="url(#bl1_5)" opacity="1"/>
<path d="M985.0,318.0C974.2,314.7 987.5,305.2 995.0,300.0C1002.5,294.8 1012.5,289.5 1030.0,287.0C1047.5,284.5 1075.0,284.5 1100.0,285.0C1125.0,285.5 1156.7,287.8 1180.0,290.0C1203.3,292.2 1223.3,295.8 1240.0,298.0C1256.7,300.2 1272.7,300.5 1280.0,303.0C1287.3,305.5 1287.3,310.5 1284.0,313.0C1280.7,315.5 1297.3,316.8 1260.0,318.0C1222.7,319.2 1105.8,320.0 1060.0,320.0C1014.2,320.0 995.8,321.3 985.0,318.0Z" fill="#fff3d2" filter="url(#bl5)" opacity="1"/>
<path d="M995.0,318.0C979.2,313.8 997.5,300.3 1005.0,295.0C1012.5,289.7 1024.2,287.2 1040.0,286.0C1055.8,284.8 1080.0,286.3 1100.0,288.0C1120.0,289.7 1136.7,293.5 1160.0,296.0C1183.3,298.5 1220.0,300.7 1240.0,303.0C1260.0,305.3 1275.0,307.5 1280.0,310.0C1285.0,312.5 1300.0,316.3 1270.0,318.0C1240.0,319.7 1145.8,320.0 1100.0,320.0C1054.2,320.0 1010.8,322.2 995.0,318.0Z" fill="#fdc893" filter="url(#bl5)" opacity="1"/>
<ellipse cx="1075" cy="305" rx="58" ry="14" fill="#fb7050" filter="url(#bl5)" opacity="1"/>
<path d="M1015.0,318.0C1010.0,314.3 1022.5,302.3 1030.0,298.0C1037.5,293.7 1048.3,292.3 1060.0,292.0C1071.7,291.7 1089.2,293.8 1100.0,296.0C1110.8,298.2 1122.5,301.7 1125.0,305.0C1127.5,308.3 1125.8,313.5 1115.0,316.0C1104.2,318.5 1076.7,319.7 1060.0,320.0C1043.3,320.3 1020.0,321.7 1015.0,318.0Z" fill="#ec3a3f" filter="url(#bl4)" opacity="1"/>
<ellipse cx="1075" cy="308" rx="32" ry="8" fill="#a50021" filter="url(#bl3_5)" opacity="1"/>
<ellipse cx="1235" cy="312" rx="40" ry="5" fill="#fdb47f" filter="url(#bl3)" opacity="1"/>
<ellipse cx="1020" cy="310" rx="14" ry="8" fill="#fdae78" filter="url(#bl4)" opacity="1"/>
</g>
<path d="M907.6,66.0C908.7,66.0 908.7,65.8 914.0,66.1C919.3,66.3 930.9,66.5 939.4,67.5C947.9,68.5 956.1,70.2 964.8,71.9C973.4,73.7 982.4,75.8 991.0,78.0C999.6,80.2 1007.9,82.4 1016.4,85.0C1024.9,87.6 1033.4,90.7 1041.8,93.8C1050.1,96.8 1058.1,100.0 1066.2,103.4C1074.4,106.8 1082.6,110.4 1090.8,113.9C1098.9,117.4 1107.1,120.8 1115.2,124.4C1123.4,128.0 1131.7,132.1 1139.8,135.8C1147.8,139.4 1155.0,142.7 1163.4,146.2C1171.8,149.8 1180.9,153.4 1190.0,157.0C1199.1,160.6 1210.4,164.6 1218.0,167.8C1225.6,171.0 1228.3,173.1 1235.5,176.0C1242.7,178.9 1252.8,182.0 1261.0,185.0C1269.2,188.0 1277.7,191.2 1285.0,194.0C1292.3,196.8 1295.7,198.8 1305.0,202.0C1314.3,205.2 1327.5,209.2 1341.0,213.0C1354.5,216.8 1373.3,222.0 1386.0,225.0C1398.7,228.0 1410.6,227.5 1417.0,231.0C1423.4,234.5 1421.5,238.5 1424.6,245.8C1427.7,253.0 1432.5,265.7 1435.5,274.8C1438.5,283.8 1440.9,293.4 1442.8,300.0C1444.6,306.6 1445.4,310.9 1446.4,314.6C1447.4,318.3 1448.6,320.8 1449.0,322.0" fill="none" stroke="#ff00ff" stroke-width="3.6" stroke-dasharray="13 13"/>
<path d="M907.6,111.0C908.7,111.0 908.7,110.8 914.0,111.2C919.3,111.7 930.9,112.3 939.4,113.9C947.9,115.5 956.3,118.3 964.8,120.9C973.2,123.5 981.7,126.4 990.0,129.6C998.3,132.8 1006.6,136.4 1014.6,140.1C1022.6,143.8 1030.4,147.4 1038.2,151.5C1046.1,155.6 1054.2,160.3 1061.9,164.6C1069.6,168.8 1077.2,172.8 1084.6,177.0C1092.0,181.2 1099.1,185.0 1106.5,189.5C1113.9,194.0 1121.5,199.2 1129.0,204.0C1136.5,208.8 1144.0,213.7 1151.5,218.0C1159.0,222.3 1166.2,226.0 1174.0,230.0C1181.8,234.0 1190.2,237.8 1198.0,242.0C1205.8,246.2 1212.8,251.2 1220.5,255.5C1228.2,259.8 1236.5,263.8 1244.5,267.5C1252.5,271.2 1260.5,274.5 1268.5,278.0C1276.5,281.5 1281.0,283.8 1292.5,288.5C1304.0,293.2 1323.4,301.6 1337.6,306.0C1351.8,310.4 1366.3,312.9 1377.5,315.0C1388.7,317.1 1397.6,317.8 1404.7,318.3C1411.8,318.8 1417.5,318.1 1420.0,318.0" fill="none" stroke="#ff00ff" stroke-width="3.6" stroke-dasharray="13 13"/>
<path d="M907.6,162.8C908.7,162.8 908.7,162.5 914.0,162.9C919.3,163.3 930.9,164.2 939.4,165.5C947.9,166.8 956.1,168.7 964.8,170.8C973.4,172.8 982.4,175.1 991.0,177.8C999.6,180.4 1008.1,183.4 1016.4,186.5C1024.7,189.6 1033.6,193.1 1040.9,196.1C1048.2,199.1 1052.1,201.2 1060.0,204.5C1067.9,207.8 1079.8,211.9 1088.5,215.8C1097.2,219.6 1104.5,223.9 1112.5,227.8C1120.5,231.6 1128.5,235.5 1136.5,239.0C1144.5,242.5 1152.5,245.4 1160.5,248.8C1168.5,252.1 1176.2,255.9 1184.5,259.2C1192.8,262.6 1201.8,265.8 1210.0,269.0C1218.2,272.2 1226.0,275.4 1234.0,278.8C1242.0,282.1 1250.0,286.1 1258.0,289.2C1266.0,292.4 1273.3,294.5 1282.0,297.5C1290.7,300.5 1300.3,303.9 1310.0,307.0C1319.7,310.1 1330.0,313.5 1340.0,316.0C1350.0,318.5 1360.0,320.5 1370.0,322.0C1380.0,323.5 1395.0,324.5 1400.0,325.0" fill="none" stroke="#ff00ff" stroke-width="3.6" stroke-dasharray="13 13"/>
<path d="M907.6,184.5C912.9,184.8 929.9,185.6 939.4,186.5C948.9,187.4 960.4,189.4 964.8,190.0C969.1,190.6 961.2,189.2 965.6,190.2C970.0,191.2 982.5,193.8 991.0,196.1C999.5,198.4 1007.9,201.5 1016.4,204.0C1024.9,206.5 1033.4,208.2 1041.8,211.0C1050.1,213.8 1062.0,218.9 1066.2,220.6C1070.5,222.3 1062.8,219.2 1067.0,220.9C1071.2,222.7 1083.6,227.8 1091.6,231.1C1099.6,234.4 1111.2,239.1 1115.2,240.8C1119.3,242.4 1111.9,239.4 1116.0,241.0C1120.1,242.7 1135.7,248.8 1139.8,250.4C1143.8,252.0 1136.5,249.3 1140.6,250.7C1144.7,252.1 1160.2,257.4 1164.2,258.7C1168.3,260.1 1160.7,257.5 1165.0,259.0C1169.3,260.5 1181.7,265.0 1190.0,268.0C1198.3,271.0 1206.7,274.0 1215.0,277.0C1223.3,280.0 1231.7,283.0 1240.0,286.0C1248.3,289.0 1256.7,292.0 1265.0,295.0C1273.3,298.0 1280.8,301.0 1290.0,304.0C1299.2,307.0 1310.0,310.3 1320.0,313.0C1330.0,315.7 1340.0,318.0 1350.0,320.0C1360.0,322.0 1370.0,323.8 1380.0,325.0C1390.0,326.2 1405.0,326.7 1410.0,327.0" fill="none" stroke="#ff00ff" stroke-width="3.6" stroke-dasharray="13 13"/>
<path d="M907.6,190.0C912.9,190.3 929.9,191.0 939.4,191.9C948.9,192.8 960.4,194.9 964.8,195.5C969.1,196.2 961.2,194.7 965.6,195.7C970.0,196.7 982.5,199.1 991.0,201.3C999.5,203.6 1007.9,206.7 1016.4,209.2C1024.9,211.8 1033.4,213.6 1041.8,216.4C1050.1,219.2 1062.0,224.3 1066.2,226.0C1070.5,227.6 1062.8,224.5 1067.0,226.3C1071.2,228.0 1083.6,233.1 1091.6,236.3C1099.6,239.6 1111.2,244.2 1115.2,245.8C1119.3,247.4 1111.9,244.5 1116.0,246.1C1120.1,247.7 1135.7,253.8 1139.8,255.4C1143.8,257.1 1136.5,254.3 1140.6,255.7C1144.7,257.2 1160.2,262.7 1164.2,264.2C1168.3,265.7 1160.7,262.9 1165.0,264.5C1169.3,266.0 1181.7,270.6 1190.0,273.7C1198.3,276.7 1206.7,279.8 1215.0,282.8C1223.3,285.8 1231.7,288.8 1240.0,291.7C1248.3,294.5 1256.7,297.3 1265.0,300.0C1273.3,302.7 1280.8,305.3 1290.0,307.8C1299.2,310.4 1310.0,313.2 1320.0,315.4C1330.0,317.7 1340.0,319.6 1350.0,321.2C1360.0,322.9 1370.0,324.4 1380.0,325.4C1390.0,326.4 1405.0,326.8 1410.0,327.1" fill="none" stroke="#ff00ff" stroke-width="3.6" stroke-dasharray="13 13"/>
<path d="M907.6,195.5C912.9,195.8 929.9,196.4 939.4,197.3C948.9,198.2 960.4,200.4 964.8,201.0C969.1,201.7 961.2,200.3 965.6,201.2C970.0,202.1 982.5,204.4 991.0,206.6C999.5,208.8 1007.9,212.0 1016.4,214.5C1024.9,217.0 1033.4,219.0 1041.8,221.8C1050.1,224.6 1062.0,229.7 1066.2,231.3C1070.5,232.9 1062.8,229.9 1067.0,231.6C1071.2,233.3 1083.6,238.4 1091.6,241.6C1099.6,244.8 1111.2,249.3 1115.2,250.9C1119.3,252.5 1111.9,249.6 1116.0,251.2C1120.1,252.8 1135.7,258.9 1139.8,260.5C1143.8,262.1 1136.5,259.3 1140.6,260.8C1144.7,262.3 1160.2,268.1 1164.2,269.7C1168.3,271.2 1160.7,268.3 1165.0,269.9C1169.3,271.5 1181.7,276.2 1190.0,279.3C1198.3,282.5 1206.7,285.7 1215.0,288.7C1223.3,291.7 1231.7,294.6 1240.0,297.3C1248.3,300.1 1256.7,302.6 1265.0,305.0C1273.3,307.4 1280.8,309.5 1290.0,311.7C1299.2,313.8 1310.0,316.0 1320.0,317.8C1330.0,319.6 1340.0,321.2 1350.0,322.5C1360.0,323.8 1370.0,325.1 1380.0,325.8C1390.0,326.6 1405.0,326.9 1410.0,327.2" fill="none" stroke="#ff00ff" stroke-width="3.6" stroke-dasharray="13 13"/>
<path d="M907.6,201.0C912.9,201.3 929.9,201.8 939.4,202.7C948.9,203.6 960.4,205.9 964.8,206.6C969.1,207.2 961.2,205.8 965.6,206.7C970.0,207.6 982.5,209.7 991.0,211.8C999.5,214.0 1007.9,217.2 1016.4,219.8C1024.9,222.3 1033.4,224.4 1041.8,227.2C1050.1,230.0 1062.0,235.0 1066.2,236.7C1070.5,238.3 1062.8,235.3 1067.0,237.0C1071.2,238.7 1083.6,243.7 1091.6,246.9C1099.6,250.0 1111.2,254.4 1115.2,255.9C1119.3,257.5 1111.9,254.6 1116.0,256.2C1120.1,257.8 1135.7,263.9 1139.8,265.5C1143.8,267.1 1136.5,264.2 1140.6,265.8C1144.7,267.4 1160.2,273.5 1164.2,275.1C1168.3,276.7 1160.7,273.8 1165.0,275.4C1169.3,277.0 1181.7,281.8 1190.0,285.0C1198.3,288.2 1206.7,291.5 1215.0,294.5C1223.3,297.5 1231.7,300.4 1240.0,303.0C1248.3,305.6 1256.7,307.9 1265.0,310.0C1273.3,312.1 1280.8,313.8 1290.0,315.5C1299.2,317.2 1310.0,318.9 1320.0,320.2C1330.0,321.6 1340.0,322.8 1350.0,323.8C1360.0,324.8 1370.0,325.7 1380.0,326.2C1390.0,326.8 1405.0,327.1 1410.0,327.2" fill="none" stroke="#ff00ff" stroke-width="3.6" stroke-dasharray="13 13"/>
<path d="M907.6,206.5C912.9,206.8 929.9,207.2 939.4,208.1C948.9,209.0 960.4,211.4 964.8,212.1C969.1,212.8 961.2,211.4 965.6,212.2C970.0,213.1 982.5,215.0 991.0,217.1C999.5,219.2 1007.9,222.4 1016.4,225.0C1024.9,227.6 1033.4,229.8 1041.8,232.6C1050.1,235.4 1062.0,240.4 1066.2,242.0C1070.5,243.6 1062.8,240.6 1067.0,242.3C1071.2,244.0 1083.6,249.0 1091.6,252.1C1099.6,255.2 1111.2,259.5 1115.2,261.0C1119.3,262.5 1111.9,259.7 1116.0,261.3C1120.1,262.9 1135.7,269.0 1139.8,270.6C1143.8,272.2 1136.5,269.2 1140.6,270.9C1144.7,272.6 1160.2,278.9 1164.2,280.6C1168.3,282.2 1160.7,279.2 1165.0,280.9C1169.3,282.6 1181.7,287.4 1190.0,290.7C1198.3,293.9 1206.7,297.3 1215.0,300.3C1223.3,303.3 1231.7,306.2 1240.0,308.7C1248.3,311.1 1256.7,313.2 1265.0,315.0C1273.3,316.8 1280.8,318.1 1290.0,319.3C1299.2,320.6 1310.0,321.7 1320.0,322.7C1330.0,323.6 1340.0,324.3 1350.0,325.0C1360.0,325.7 1370.0,326.3 1380.0,326.7C1390.0,327.1 1405.0,327.2 1410.0,327.3" fill="none" stroke="#ff00ff" stroke-width="3.6" stroke-dasharray="13 13"/>
<path d="M907.6,212.0C912.9,212.2 929.9,212.6 939.4,213.5C948.9,214.4 960.4,216.9 964.8,217.6C969.1,218.3 961.2,216.9 965.6,217.7C970.0,218.5 982.5,220.3 991.0,222.3C999.5,224.4 1007.9,227.6 1016.4,230.2C1024.9,232.9 1033.4,235.1 1041.8,238.0C1050.1,240.9 1062.0,245.8 1066.2,247.4C1070.5,249.0 1062.8,246.0 1067.0,247.7C1071.2,249.3 1083.6,254.3 1091.6,257.4C1099.6,260.4 1111.2,264.6 1115.2,266.1C1119.3,267.6 1111.9,264.7 1116.0,266.3C1120.1,267.9 1135.7,274.0 1139.8,275.6C1143.8,277.2 1136.5,274.2 1140.6,275.9C1144.7,277.7 1160.2,284.3 1164.2,286.0C1168.3,287.8 1160.7,284.6 1165.0,286.3C1169.3,288.1 1181.7,293.0 1190.0,296.3C1198.3,299.6 1206.7,303.2 1215.0,306.2C1223.3,309.2 1231.7,312.0 1240.0,314.3C1248.3,316.6 1256.7,318.5 1265.0,320.0C1273.3,321.5 1280.8,322.3 1290.0,323.2C1299.2,324.0 1310.0,324.6 1320.0,325.1C1330.0,325.6 1340.0,325.9 1350.0,326.2C1360.0,326.6 1370.0,326.9 1380.0,327.1C1390.0,327.3 1405.0,327.4 1410.0,327.4" fill="none" stroke="#ff00ff" stroke-width="3.6" stroke-dasharray="13 13"/>
<path d="M907.6,217.5C912.9,217.7 929.9,218.0 939.4,218.9C948.9,219.8 960.4,222.4 964.8,223.1C969.1,223.8 961.2,222.5 965.6,223.2C970.0,224.0 982.5,225.6 991.0,227.6C999.5,229.6 1007.9,232.9 1016.4,235.5C1024.9,238.1 1033.4,240.5 1041.8,243.4C1050.1,246.3 1062.0,251.1 1066.2,252.7C1070.5,254.3 1062.8,251.4 1067.0,253.0C1071.2,254.6 1083.6,259.6 1091.6,262.6C1099.6,265.6 1111.2,269.7 1115.2,271.1C1119.3,272.6 1111.9,269.8 1116.0,271.4C1120.1,273.0 1135.7,279.1 1139.8,280.7C1143.8,282.3 1136.5,279.2 1140.6,281.0C1144.7,282.8 1160.2,289.7 1164.2,291.5C1168.3,293.3 1160.7,290.1 1165.0,291.8C1169.3,293.6 1181.7,298.6 1190.0,302.0C1198.3,305.4 1206.7,309.0 1215.0,312.0C1223.3,315.0 1231.7,317.8 1240.0,320.0C1248.3,322.2 1256.7,323.8 1265.0,325.0C1273.3,326.2 1280.8,326.6 1290.0,327.0C1299.2,327.4 1310.0,327.4 1320.0,327.5C1330.0,327.6 1340.0,327.5 1350.0,327.5C1360.0,327.5 1370.0,327.5 1380.0,327.5C1390.0,327.5 1405.0,327.5 1410.0,327.5" fill="none" stroke="#ff00ff" stroke-width="3.6" stroke-dasharray="13 13"/>
<path d="M1269.0,327.5C1279.2,327.5 1309.0,327.9 1330.0,327.5C1351.0,327.1 1382.8,325.9 1395.0,325.0C1407.2,324.1 1400.2,323.8 1403.0,322.0C1405.8,320.2 1409.0,316.2 1412.0,314.0C1415.0,311.8 1417.7,309.8 1421.0,309.0C1424.3,308.2 1428.8,309.0 1432.0,309.5C1435.2,310.0 1437.3,310.9 1440.0,312.0C1442.7,313.1 1446.7,315.3 1448.0,316.0" fill="none" stroke="#ff00ff" stroke-width="3"/>
<path d="M906.1,325.4C906.2,328.3 905.9,343.4 907.0,347.2C908.1,351.1 912.4,353.9 914.0,354.2C915.6,354.6 916.5,352.0 919.2,350.0C922.0,348.0 930.6,342.2 935.0,339.4C939.4,336.6 947.8,331.4 952.5,328.9C957.2,326.4 965.6,322.8 970.0,321.0C974.4,319.2 983.0,317.1 985.8,315.8C988.5,314.4 991.9,312.6 991.0,310.8C990.1,308.9 982.0,304.8 978.8,302.0C975.5,299.2 969.1,293.2 966.5,289.8C963.9,286.2 960.7,279.7 959.5,275.8C958.3,271.8 957.3,264.0 957.8,260.0C958.2,256.0 961.6,248.1 963.0,246.0C964.4,243.9 965.2,244.4 968.2,244.2C971.3,244.1 982.2,244.4 985.8,245.1C989.2,245.8 991.5,248.1 994.5,249.5C997.5,250.9 1004.8,253.7 1008.5,255.6C1012.2,257.5 1018.8,261.7 1022.5,263.5C1026.2,265.3 1031.0,267.2 1036.5,268.8C1042.0,270.3 1057.8,274.2 1063.6,274.9C1069.4,275.6 1075.3,274.5 1080.2,274.0C1085.2,273.5 1095.2,271.4 1100.5,271.2C1105.8,271.1 1115.4,272.1 1120.0,272.8C1124.6,273.4 1131.0,275.4 1135.0,276.5C1139.0,277.6 1145.0,279.9 1150.0,281.0C1155.0,282.1 1166.5,283.9 1172.5,284.8C1178.5,285.6 1189.0,286.3 1195.0,287.0C1201.0,287.7 1213.3,289.2 1217.5,290.0C1221.7,290.8 1224.5,291.9 1226.5,293.0C1228.5,294.1 1230.7,297.9 1232.5,298.2C1234.3,298.6 1237.0,296.2 1240.0,296.0C1243.0,295.8 1250.0,296.2 1255.0,296.8C1260.0,297.2 1273.7,298.9 1277.5,299.8C1281.3,300.6 1282.6,301.8 1283.5,303.5C1284.4,305.2 1284.7,310.9 1284.2,312.5C1283.8,314.1 1284.4,314.9 1280.5,315.5C1276.6,316.1 1261.4,316.7 1255.0,317.0C1248.6,317.3 1236.5,317.4 1232.5,317.8C1228.5,318.1 1248.0,319.6 1225.0,320.0C1202.0,320.4 1087.0,320.0 1060.0,320.5C1033.0,321.0 1031.1,322.6 1022.5,323.5C1013.9,324.4 1002.4,326.0 995.4,327.5C988.4,329.0 975.0,333.1 970.0,335.0C965.0,336.9 960.3,339.0 957.8,342.0C955.2,345.0 952.1,351.7 950.8,357.8C949.4,363.8 947.8,378.9 947.2,387.5C946.7,396.1 946.2,416.8 946.4,422.5C946.6,428.2 947.8,428.8 949.0,430.4C950.2,432.0 953.2,434.9 955.1,434.8C957.0,434.6 960.1,432.5 963.0,429.5C965.9,426.5 973.7,415.7 977.0,412.0C980.3,408.3 983.8,405.0 987.5,401.5C991.2,398.0 1000.3,389.5 1005.0,385.8C1009.7,382.0 1017.1,377.0 1022.5,373.5C1027.9,370.0 1039.7,362.4 1045.2,359.5C1050.8,356.6 1058.2,353.8 1064.5,351.6C1070.8,349.4 1084.1,344.9 1092.5,342.9C1100.9,340.9 1115.8,338.3 1127.5,336.8C1139.2,335.2 1166.0,332.3 1180.0,331.5C1194.0,330.7 1218.2,331.0 1232.5,331.0C1246.8,331.0 1278.0,331.9 1287.0,331.8C1296.0,331.7 1295.2,330.7 1300.0,330.5C1304.8,330.3 1317.7,329.8 1323.0,330.0C1328.3,330.2 1335.1,331.9 1340.0,332.0C1344.9,332.1 1354.7,330.6 1360.0,330.5C1365.3,330.4 1374.3,331.4 1380.0,331.5C1385.7,331.6 1399.4,331.7 1403.0,331.0C1406.6,330.3 1405.9,328.0 1407.0,326.0C1408.1,324.0 1409.9,318.3 1411.0,316.0C1412.1,313.7 1413.8,310.3 1415.0,309.0C1416.2,307.7 1418.3,306.1 1420.0,306.0C1421.7,305.9 1426.5,306.7 1428.0,308.0C1429.5,309.3 1430.3,310.4 1431.0,316.0C1431.7,321.6 1432.3,347.9 1433.0,350.0C1433.7,352.1 1435.1,331.2 1436.0,332.0C1436.9,332.8 1438.9,357.3 1440.0,356.0C1441.1,354.7 1443.2,329.5 1444.0,322.0C1444.8,314.5 1445.6,309.6 1446.0,300.0C1446.4,290.4 1446.9,256.7 1447.0,250.0" fill="none" stroke="#000" stroke-width="3.9" stroke-linejoin="round" stroke-linecap="round"/>
<path d="M1296.0,309.0C1295.8,307.1 1297.3,304.0 1299.0,303.0C1300.7,302.0 1303.7,302.3 1306.0,302.8C1308.3,303.3 1311.5,304.8 1313.0,306.0C1314.5,307.2 1315.8,308.8 1315.0,310.0C1314.2,311.2 1310.5,312.8 1308.0,313.5C1305.5,314.2 1302.0,315.2 1300.0,314.5C1298.0,313.8 1296.2,310.9 1296.0,309.0Z" fill="none" stroke="#000" stroke-width="3.9" stroke-linejoin="round" stroke-linecap="round"/>
<path d="M1417.4,207.7C1418.0,203.2 1420.0,203.1 1421.0,204.0C1422.0,204.9 1422.5,214.1 1423.7,213.0C1424.9,211.9 1426.9,199.8 1428.3,197.7C1429.7,195.6 1431.4,194.8 1432.0,200.4C1432.6,206.0 1432.2,220.4 1432.0,231.2C1431.8,242.1 1431.6,260.6 1431.0,265.7C1430.4,270.8 1430.3,263.8 1428.3,262.0C1426.3,260.2 1421.0,259.9 1419.2,254.8C1417.4,249.7 1417.7,239.1 1417.4,231.2C1417.1,223.4 1416.8,212.2 1417.4,207.7Z" fill="none" stroke="#000" stroke-width="3.9" stroke-linejoin="round" stroke-linecap="round"/>
<path d="M1064.5,56V577" stroke="#000" stroke-width="3.6" stroke-dasharray="12.8 13.8" stroke-dashoffset="0"/>
<path d="M1219.4,161L1169.9,251.8" stroke="#000" stroke-width="3.0"/>
<path d="M1162.2,265.8L1164.8,244.4L1169.4,252.6L1178.8,252.1Z" fill="#000"/>
<text x="979" y="278.4" font-family="'DejaVu Sans', 'Liberation Sans', sans-serif" font-size="26" font-weight="bold" text-anchor="start" fill="#000" >e</text>
<text x="1011.5" y="323.6" font-family="'DejaVu Sans', 'Liberation Sans', sans-serif" font-size="26" font-weight="bold" text-anchor="start" fill="#000" >u</text>
<text x="997.5" y="428.6" font-family="'DejaVu Sans', 'Liberation Sans', sans-serif" font-size="26" font-weight="bold" text-anchor="start" fill="#000" >i</text>
<text x="1012.8" y="495.1" font-family="'DejaVu Sans', 'Liberation Sans', sans-serif" font-size="30" font-weight="bold" text-anchor="start" fill="#000" textLength="360.5" lengthAdjust="spacingAndGlyphs">w/o bounce resonance</text>
<rect x="1262.4" y="67.6" width="171.29999999999995" height="33.5" fill="#fff" stroke="#262626" stroke-width="1.2"/>
<ellipse cx="1293.2" cy="84.4" rx="25.8" ry="11.05" fill="#2400d8"/>
<ellipse cx="1293.2" cy="84.4" rx="17.7" ry="6.3" fill="#fff"/>
<ellipse cx="1293.2" cy="84.4" rx="8.2" ry="3.6" fill="#a50021"/>
<text x="1324" y="93.1" font-family="'DejaVu Sans', 'Liberation Sans', sans-serif" font-size="24" font-weight="normal" text-anchor="start" fill="#000" textLength="103.4" lengthAdjust="spacingAndGlyphs">total NTV</text>
<clipPath id="clipc"><rect x="110.0" y="713.0" width="538.6" height="535.0"/></clipPath>
<g clip-path="url(#clipc)">
<rect x="110.0" y="713.0" width="538.6" height="535.0" fill="#f0fdfa"  opacity="1"/>
<path d="M100.0,700.0L660.0,700.0L660.0,975.0L400.0,978.0L200.0,975.0L150.0,985.0L100.0,985.0Z" fill="#a8e9fd" filter="url(#bl3)" opacity="1"/>
<path d="M100.0,700.0L215.0,700.0L225.0,990.0L100.0,990.0Z" fill="#bff1fd" filter="url(#bl10)" opacity="1"/>
<rect x="125" y="700" width="10" height="280" fill="#d6f8fd" filter="url(#bl3)" opacity="1"/>
<rect x="150" y="760" width="6" height="200" fill="#cdf5fd" filter="url(#bl3)" opacity="1"/>
<rect x="172" y="700" width="6" height="250" fill="#c8f4fd" filter="url(#bl3)" opacity="1"/>
<path d="M330.0,700.0L560.0,700.0L560.0,880.0L330.0,860.0Z" fill="#8edafb" filter="url(#bl12)" opacity="1"/>
<path d="M420.0,700.0L562.0,700.0L560.0,900.0L520.0,900.0L440.0,850.0Z" fill="#7ccdfa" filter="url(#bl10)" opacity="1"/>
<ellipse cx="405" cy="770" rx="22" ry="14" fill="#6ebff8" filter="url(#bl5)" opacity="1"/>
<ellipse cx="455" cy="790" rx="25" ry="22" fill="#70c2f8" filter="url(#bl6)" opacity="1"/>
<ellipse cx="510" cy="800" rx="12" ry="25" fill="#6ab9f8" filter="url(#bl5)" opacity="1"/>
<ellipse cx="380" cy="768" rx="10" ry="9" fill="#62b6f7" filter="url(#bl3)" opacity="1"/>
<path d="M520.0,700.0L562.0,700.0L556.0,900.0L562.0,924.0L585.0,955.0L590.0,990.0L560.0,990.0L540.0,900.0Z" fill="#4f98f5" filter="url(#bl6)" opacity="1"/>
<clipPath id="cdome"><rect x="100" y="700" width="560" height="284"/></clipPath><g clip-path="url(#cdome)">
<ellipse cx="300" cy="975" rx="285" ry="180" fill="#b6effd" filter="url(#bl6)" opacity="1"/>
<ellipse cx="295" cy="975" rx="245" ry="155" fill="#c6f4fd" filter="url(#bl6)" opacity="1"/>
<ellipse cx="290" cy="978" rx="205" ry="130" fill="#d4f8fd" filter="url(#bl6)" opacity="1"/>
<ellipse cx="285" cy="980" rx="170" ry="105" fill="#e2fbfd" filter="url(#bl6)" opacity="1"/>
<ellipse cx="280" cy="985" rx="140" ry="82" fill="#ecfdfb" filter="url(#bl6)" opacity="1"/>
<ellipse cx="270" cy="990" rx="110" ry="60" fill="#f0fdfa" filter="url(#bl6)" opacity="1"/>
</g>
<path d="M100.0,950.0L175.0,955.0L180.0,1000.0L160.0,1040.0L100.0,1040.0Z" fill="#e8fcfc" filter="url(#bl7)" opacity="1"/>
<path d="M562.0,700.0L660.0,700.0L660.0,1075.0L647.0,1060.0L628.0,1040.0L619.0,1006.0L604.0,987.0L588.0,978.0L586.5,967.5L583.0,950.0L576.0,932.5L562.0,923.8L555.0,897.5L555.0,862.5L558.5,810.0L560.2,757.5Z" fill="#2400d8"  opacity="1"/>
<path d="M175.0,988.0L660.0,985.0L660.0,1260.0L200.0,1260.0L160.0,1150.0L150.0,1080.0L160.0,1000.0Z" fill="#fefef0" filter="url(#bl6)" opacity="1"/>
<path d="M100.0,1140.0L300.0,1115.0L450.0,1095.0L560.0,1080.0L560.0,1260.0L100.0,1260.0Z" fill="#fff6da" filter="url(#bl16)" opacity="1"/>
<path d="M230.0,1260.0L320.0,1175.0L450.0,1140.0L560.0,1120.0L560.0,1260.0Z" fill="#fee9bc" filter="url(#bl14)" opacity="1"/>
<ellipse cx="406" cy="1188" rx="20" ry="13" fill="#fdcb96" filter="url(#bl5)" opacity="1"/>
<ellipse cx="464" cy="1188" rx="20" ry="13" fill="#fdcb96" filter="url(#bl5)" opacity="1"/>
<ellipse cx="511" cy="1188" rx="20" ry="13" fill="#fdcb96" filter="url(#bl5)" opacity="1"/>
<path d="M564.0,987.0L550.0,995.0L546.5,1003.8L537.8,1017.8L525.5,1033.5L520.2,1047.5L518.5,1082.5L520.2,1117.5L516.8,1152.5L516.8,1187.5L525.5,1213.8L529.0,1250.0L660.0,1260.0L660.0,985.0Z" fill="#fee3b3" filter="url(#bl8)" opacity="1"/>
<path d="M579.0,987.0L565.0,995.0L561.5,1003.8L552.8,1017.8L540.5,1033.5L535.2,1047.5L533.5,1082.5L535.2,1117.5L531.8,1152.5L531.8,1187.5L540.5,1213.8L544.0,1250.0L660.0,1260.0L660.0,985.0Z" fill="#fdc38c" filter="url(#bl5)" opacity="1"/>
<path d="M590.0,987.0L576.0,995.0L572.5,1003.8L563.8,1017.8L551.5,1033.5L546.2,1047.5L544.5,1082.5L546.2,1117.5L542.8,1152.5L542.8,1187.5L551.5,1213.8L555.0,1250.0L660.0,1260.0L660.0,985.0Z" fill="#fb8a5f" filter="url(#bl4)" opacity="1"/>
<path d="M598.0,987.0L584.0,995.0L580.5,1003.8L571.8,1017.8L559.5,1033.5L554.2,1047.5L552.5,1082.5L554.2,1117.5L550.8,1152.5L550.8,1187.5L559.5,1213.8L563.0,1250.0L660.0,1260.0L660.0,985.0Z" fill="#ec3a3f" filter="url(#bl2_5)" opacity="1"/>
<path d="M604.0,987.0L590.0,995.0L586.5,1003.8L577.8,1017.8L565.5,1033.5L560.2,1047.5L558.5,1082.5L560.2,1117.5L556.8,1152.5L556.8,1187.5L565.5,1213.8L569.0,1250.0L660.0,1260.0L660.0,985.0L615.0,983.0Z" fill="#a50021" filter="url(#bl1)" opacity="1"/>
<path d="M620.0,966.0L622.2,968.8L625.9,970.3L628.8,974.8L629.6,984.4L628.1,993.2L623.6,997.7L621.4,994.7L620.0,991.8L618.5,997.7L617.7,1014.0L618.5,1025.0L620.3,1030.2L622.2,1024.3L624.4,1032.5L628.1,1047.2L632.5,1069.4L634.7,1065.7L637.7,1056.9L641.4,1052.4L644.4,1036.2L645.8,1021.4L646.6,1006.6L647.3,965.9L650.0,940.0L650.0,955.0L620.0,955.0Z" fill="#2400d8"  opacity="1"/>
<path d="M580.0,990.3L587.4,990.0L600.0,988.0L606.6,990.3L613.3,984.4L617.0,979.2L618.5,969.6L620.0,966.6L630.0,960.0L630.0,955.0L590.0,955.0L580.0,970.0Z" fill="#2400d8" filter="url(#bl1)" opacity="1"/>
<path d="M613.3,984.4L617.0,979.2L618.5,969.6L620.0,966.6L622.2,968.8L625.9,970.3L628.8,974.8L629.6,984.4L628.1,993.2L623.6,997.7L621.4,994.7L620.0,991.8L618.5,997.7L617.7,1014.0L610.0,1014.0L606.0,992.0Z" fill="#a50021"  opacity="1"/>
<ellipse cx="268" cy="970" rx="50" ry="13" fill="#fee3b5" filter="url(#bl6)" opacity="1"/>
<ellipse cx="272" cy="974" rx="28" ry="8" fill="#fdbd86" filter="url(#bl4)" opacity="1"/>
<ellipse cx="220" cy="965" rx="25" ry="12" fill="#fff3d6" filter="url(#bl6)" opacity="1"/>
<ellipse cx="340" cy="972" rx="40" ry="9" fill="#fff0cc" filter="url(#bl5)" opacity="1"/>
<ellipse cx="420" cy="975" rx="30" ry="6" fill="#fee9c3" filter="url(#bl4)" opacity="1"/>
<path d="M158.0,1003.7C160.3,996.4 165.0,994.5 172.0,991.7C179.0,988.9 187.0,988.0 200.0,986.9C213.0,985.8 233.3,985.6 250.0,985.3C266.7,985.0 291.7,983.7 300.0,985.3C308.3,986.9 306.7,991.4 300.0,994.9C293.3,998.4 271.7,1001.6 260.0,1006.1C248.3,1010.6 239.2,1016.2 230.0,1022.1C220.8,1028.0 214.2,1036.8 205.0,1041.3C195.8,1045.8 182.8,1050.2 175.0,1049.3C167.2,1048.4 160.8,1043.3 158.0,1035.7C155.2,1028.1 155.7,1011.0 158.0,1003.7Z" fill="#cff5fe" filter="url(#bl5)" opacity="1"/>
<path d="M165.0,998.1C167.5,993.0 175.8,991.3 185.0,989.3C194.2,987.3 202.5,986.6 220.0,986.1C237.5,985.6 280.0,984.4 290.0,986.1C300.0,987.8 287.5,992.9 280.0,996.5C272.5,1000.1 255.8,1003.4 245.0,1007.7C234.2,1012.0 224.2,1018.4 215.0,1022.1C205.8,1025.8 197.5,1030.5 190.0,1030.1C182.5,1029.7 174.2,1025.0 170.0,1019.7C165.8,1014.4 162.5,1003.2 165.0,998.1Z" fill="#a3e2fd" filter="url(#bl5)" opacity="1"/>
<path d="M178.0,994.9C180.5,991.7 190.5,990.0 200.0,988.5C209.5,987.0 222.5,986.4 235.0,986.1C247.5,985.8 270.5,985.2 275.0,986.9C279.5,988.6 268.7,993.6 262.0,996.5C255.3,999.4 244.5,1002.1 235.0,1004.5C225.5,1006.9 213.3,1010.4 205.0,1010.9C196.7,1011.4 189.5,1010.4 185.0,1007.7C180.5,1005.0 175.5,998.1 178.0,994.9Z" fill="#6cb6f9" filter="url(#bl4)" opacity="1"/>
<path d="M200.0,991.7C200.8,989.8 211.7,987.9 220.0,986.9C228.3,985.9 240.0,985.8 250.0,985.7C260.0,985.6 271.7,985.1 280.0,986.1C288.3,987.1 301.7,989.7 300.0,991.7C298.3,993.7 280.0,996.8 270.0,998.1C260.0,999.4 249.2,999.7 240.0,999.7C230.8,999.7 221.7,999.4 215.0,998.1C208.3,996.8 199.2,993.6 200.0,991.7Z" fill="#3f7cf5" filter="url(#bl3)" opacity="1"/>
<path d="M222.0,988.5C223.3,987.2 232.0,985.9 240.0,985.3C248.0,984.7 260.0,985.0 270.0,984.9C280.0,984.8 291.7,984.7 300.0,984.9C308.3,985.1 318.3,984.8 320.0,986.1C321.7,987.4 315.8,990.8 310.0,992.5C304.2,994.2 294.2,995.8 285.0,996.5C275.8,997.2 263.8,997.0 255.0,996.5C246.2,996.0 237.5,994.6 232.0,993.3C226.5,992.0 220.7,989.8 222.0,988.5Z" fill="#2400d8" filter="url(#bl1_8)" opacity="1"/>
<path d="M300.0,985.5C316.7,984.5 370.0,985.1 400.0,985.0C430.0,984.9 453.3,985.0 480.0,985.0C506.7,985.0 540.0,985.0 560.0,985.0C580.0,985.0 593.3,984.3 600.0,985.0C606.7,985.7 606.7,988.2 600.0,989.0C593.3,989.8 580.0,989.3 560.0,989.5C540.0,989.7 506.7,989.8 480.0,990.0C453.3,990.2 430.0,990.3 400.0,990.5C370.0,990.7 316.7,991.8 300.0,991.0C283.3,990.2 283.3,986.5 300.0,985.5Z" fill="#3a70f5" filter="url(#bl1_5)" opacity="1"/>
<rect x="300" y="985.5" width="300" height="2.5" fill="#2a20e4" filter="url(#bl0_8)" opacity="1"/>
<path d="M565.0,960.0L604.0,960.0L604.0,986.0L565.0,986.0Z" fill="#7fcffa" filter="url(#bl4)" opacity="1"/>
</g>
<path d="M108.0,725.6C108.4,725.6 105.7,725.5 110.2,725.6C114.8,725.8 128.0,725.9 135.6,726.4C143.2,726.8 149.0,727.5 155.8,728.6C162.5,729.7 169.2,731.4 175.9,733.0C182.6,734.6 189.2,736.3 196.0,738.2C202.8,740.2 210.3,742.7 217.0,744.9C223.7,747.1 229.8,749.1 236.2,751.4C242.7,753.6 249.4,756.2 255.5,758.4C261.6,760.6 266.9,762.0 273.0,764.5C279.1,767.0 285.8,770.3 292.2,773.2C298.7,776.2 305.1,779.1 311.5,782.0C317.9,784.9 324.0,787.7 330.8,790.8C337.5,793.8 344.8,797.2 351.8,800.4C358.8,803.6 367.2,807.5 372.8,810.0C378.3,812.5 379.4,812.9 385.0,815.2C390.6,817.6 398.3,820.5 406.2,824.0C414.2,827.5 422.9,832.2 432.5,836.2C442.1,840.3 454.7,845.0 464.0,848.5C473.3,852.0 479.2,854.0 488.5,857.2C497.8,860.5 510.4,864.8 520.0,867.8C529.6,870.7 537.5,872.1 546.2,874.8C555.0,877.4 562.9,881.0 572.5,883.5C582.1,886.0 596.7,888.4 604.0,889.6C611.3,890.9 612.8,889.1 616.2,891.0C619.8,892.9 622.4,896.4 625.0,901.0C627.6,905.6 629.7,912.4 632.0,918.5C634.3,924.6 637.1,931.3 639.0,937.8C640.9,944.2 642.4,950.8 643.6,957.0C644.9,963.2 646.0,969.5 646.5,975.0C647.0,980.5 647.0,984.7 646.8,990.0C646.5,995.3 645.6,1000.8 645.0,1006.6C644.4,1012.4 643.9,1019.8 642.9,1025.0C641.9,1030.2 640.4,1035.0 639.0,1038.0C637.6,1041.0 636.0,1043.3 634.5,1043.0C633.0,1042.7 631.7,1039.6 630.0,1036.0C628.3,1032.4 626.6,1026.6 624.4,1021.4C622.2,1016.2 618.9,1008.0 617.0,1005.0C615.1,1002.0 613.7,1003.8 613.0,1003.5" fill="none" stroke="#ff00ff" stroke-width="3.7" stroke-dasharray="10.5 9.5"/>
<path d="M108.0,803.9C108.4,803.9 105.7,803.6 110.2,803.9C114.8,804.2 128.0,804.6 135.6,805.6C143.2,806.6 149.0,808.0 155.8,809.6C162.5,811.3 169.2,813.3 175.9,815.2C182.6,817.2 189.2,819.4 196.0,821.4C202.8,823.4 210.3,825.2 217.0,827.5C223.7,829.8 229.8,832.8 236.2,835.4C242.7,838.0 249.4,840.5 255.5,843.0C261.6,845.5 266.9,847.3 273.0,850.2C279.1,853.2 285.8,857.2 292.2,860.8C298.7,864.2 305.1,867.8 311.5,871.2C317.9,874.8 324.0,877.8 330.8,881.8C337.5,885.7 344.8,890.9 351.8,894.9C358.8,898.9 364.5,901.8 372.8,906.0C381.0,910.2 391.0,915.2 401.0,920.2C411.0,925.2 422.9,931.0 432.5,936.0C442.1,941.0 450.0,945.6 458.8,950.0C467.5,954.4 476.2,958.5 485.0,962.2C493.8,966.0 503.4,969.5 511.2,972.8C519.1,976.0 524.1,978.6 532.2,981.5C540.4,984.4 550.4,987.2 560.0,990.0C569.6,992.8 580.9,995.7 590.0,998.0C599.1,1000.3 610.4,1002.8 614.5,1003.8" fill="none" stroke="#ff00ff" stroke-width="3.7" stroke-dasharray="10.5 9.5"/>
<path d="M108.0,845.0C108.4,845.0 105.7,844.9 110.2,845.0C114.8,845.1 128.0,845.2 135.6,845.9C143.2,846.5 149.0,847.7 155.8,848.9C162.5,850.1 169.2,851.5 175.9,852.9C182.6,854.3 189.2,855.8 196.0,857.2C202.8,858.7 210.3,859.9 217.0,861.6C223.7,863.4 229.8,865.6 236.2,867.8C242.7,869.9 249.4,872.4 255.5,874.8C261.6,877.1 266.9,879.3 273.0,881.8C279.1,884.2 285.8,886.7 292.2,889.6C298.7,892.5 305.1,896.2 311.5,899.2C317.9,902.3 324.0,905.1 330.8,908.0C337.5,910.9 344.8,913.7 351.8,916.8C358.8,919.8 362.2,921.7 372.8,926.4C383.3,931.1 402.1,939.4 415.0,944.8C427.9,950.1 438.3,954.4 450.0,958.8C461.7,963.1 473.3,967.1 485.0,971.0C496.7,974.9 507.5,978.5 520.0,982.0C532.5,985.5 548.3,989.2 560.0,992.0C571.7,994.8 580.9,997.0 590.0,999.0C599.1,1001.0 610.4,1003.0 614.5,1003.8" fill="none" stroke="#ff00ff" stroke-width="3.7" stroke-dasharray="10.5 9.5"/>
<path d="M108.0,858.1C112.6,858.2 127.6,858.4 135.6,859.0C143.6,859.6 149.0,860.6 155.8,861.6C162.5,862.6 169.2,863.8 175.9,865.1C182.6,866.4 189.2,867.9 196.0,869.5C202.8,871.1 210.3,873.0 217.0,874.8C223.7,876.5 229.8,878.2 236.2,880.0C242.7,881.8 249.4,883.5 255.5,885.2C261.6,887.0 266.9,888.5 273.0,890.5C279.1,892.5 285.8,894.9 292.2,897.5C298.7,900.1 305.1,903.5 311.5,906.2C317.9,909.0 324.0,911.5 330.8,914.1C337.5,916.7 344.8,919.4 351.8,922.0C358.8,924.6 367.2,927.6 372.8,929.9C378.3,932.1 379.7,933.2 385.2,935.5C390.8,937.8 398.4,940.1 406.2,943.5C414.1,946.9 423.8,951.7 432.5,955.8C441.2,959.8 450.0,964.3 458.8,968.0C467.5,971.7 474.8,974.4 485.0,977.8C495.2,981.1 507.5,985.0 520.0,988.0C532.5,991.0 548.3,994.0 560.0,996.0C571.7,998.0 580.9,998.7 590.0,1000.0C599.1,1001.3 610.4,1003.1 614.5,1003.8" fill="none" stroke="#ff00ff" stroke-width="3.7" stroke-dasharray="10.5 9.5"/>
<path d="M108.0,861.0C112.6,861.2 127.6,861.6 135.6,862.2C143.6,862.8 149.0,863.6 155.8,864.5C162.5,865.5 169.2,866.5 175.9,867.7C182.6,869.0 189.2,870.3 196.0,871.8C202.8,873.3 210.3,875.0 217.0,876.8C223.7,878.5 229.8,880.5 236.2,882.3C242.7,884.1 249.4,885.8 255.5,887.6C261.6,889.3 266.9,890.8 273.0,892.8C279.1,894.9 285.8,897.3 292.2,899.8C298.7,902.4 305.1,905.4 311.5,908.0C317.9,910.6 324.0,912.9 330.8,915.6C337.5,918.2 344.8,921.0 351.8,923.8C358.8,926.5 367.2,929.7 372.8,931.9C378.3,934.2 379.7,935.0 385.2,937.2C390.8,939.3 398.4,941.5 406.2,944.8C414.1,948.2 423.8,953.0 432.5,957.1C441.2,961.2 450.0,965.7 458.8,969.3C467.5,972.9 474.8,975.5 485.0,978.8C495.2,982.0 507.5,985.7 520.0,988.7C532.5,991.6 548.3,994.4 560.0,996.3C571.7,998.3 580.9,999.1 590.0,1000.3C599.1,1001.6 610.4,1003.2 614.5,1003.8" fill="none" stroke="#ff00ff" stroke-width="3.7" stroke-dasharray="10.5 9.5"/>
<path d="M108.0,864.0C112.6,864.2 127.6,864.8 135.6,865.4C143.6,866.0 149.0,866.6 155.8,867.5C162.5,868.3 169.2,869.2 175.9,870.4C182.6,871.5 189.2,872.8 196.0,874.2C202.8,875.6 210.3,877.1 217.0,878.9C223.7,880.6 229.8,882.8 236.2,884.7C242.7,886.5 249.4,888.2 255.5,889.9C261.6,891.7 266.9,893.1 273.0,895.2C279.1,897.2 285.8,899.7 292.2,902.2C298.7,904.6 305.1,907.3 311.5,909.8C317.9,912.2 324.0,914.4 330.8,917.0C337.5,919.7 344.8,922.7 351.8,925.5C358.8,928.3 367.2,931.7 372.8,934.0C378.3,936.2 379.7,936.8 385.2,938.8C390.8,940.9 398.4,942.9 406.2,946.2C414.1,949.4 423.8,954.3 432.5,958.4C441.2,962.5 450.0,967.1 458.8,970.7C467.5,974.2 474.8,976.6 485.0,979.8C495.2,982.9 507.5,986.5 520.0,989.3C532.5,992.2 548.3,994.8 560.0,996.7C571.7,998.6 580.9,999.5 590.0,1000.7C599.1,1001.9 610.4,1003.4 614.5,1003.9" fill="none" stroke="#ff00ff" stroke-width="3.7" stroke-dasharray="10.5 9.5"/>
<path d="M108.0,866.9C112.6,867.2 127.6,868.0 135.6,868.6C143.6,869.2 149.0,869.7 155.8,870.4C162.5,871.1 169.2,872.0 175.9,873.0C182.6,874.0 189.2,875.2 196.0,876.5C202.8,877.8 210.3,879.1 217.0,880.9C223.7,882.6 229.8,885.1 236.2,887.0C242.7,888.9 249.4,890.5 255.5,892.2C261.6,894.0 266.9,895.5 273.0,897.5C279.1,899.5 285.8,902.2 292.2,904.5C298.7,906.8 305.1,909.2 311.5,911.5C317.9,913.8 324.0,915.9 330.8,918.5C337.5,921.1 344.8,924.3 351.8,927.2C358.8,930.2 367.2,933.8 372.8,936.0C378.3,938.2 379.7,938.6 385.2,940.5C390.8,942.4 398.4,944.3 406.2,947.5C414.1,950.7 423.8,955.7 432.5,959.8C441.2,963.8 450.0,968.5 458.8,972.0C467.5,975.5 474.8,977.8 485.0,980.8C495.2,983.8 507.5,987.3 520.0,990.0C532.5,992.7 548.3,995.2 560.0,997.0C571.7,998.8 580.9,999.8 590.0,1001.0C599.1,1002.2 610.4,1003.5 614.5,1004.0" fill="none" stroke="#ff00ff" stroke-width="3.7" stroke-dasharray="10.5 9.5"/>
<path d="M109.4,999.4C109.5,1002.1 108.2,1015.6 110.2,1019.5C112.3,1023.4 122.1,1028.8 125.1,1029.0C128.1,1029.2 130.8,1025.3 133.0,1021.2C135.2,1017.2 139.1,1004.1 141.8,998.5C144.4,992.9 147.7,982.9 153.1,979.2C158.5,975.6 177.4,973.3 182.0,971.4C186.6,969.5 186.9,966.8 187.2,965.2C187.6,963.7 186.0,961.6 184.6,960.0C183.2,958.4 178.4,956.0 176.8,953.5C175.1,951.0 172.6,944.5 172.4,941.2C172.2,938.0 172.6,931.9 175.0,929.0C177.4,926.1 186.1,920.1 190.8,919.4C195.4,918.7 205.1,922.2 210.0,923.8C214.9,925.3 222.8,929.1 227.5,930.8C232.2,932.4 239.9,934.6 245.0,936.0C250.1,937.4 261.3,940.7 266.0,941.2C270.7,941.8 273.9,940.9 280.0,940.4C286.1,939.9 304.5,937.2 311.5,937.8C318.5,938.3 327.4,943.2 332.5,944.8C337.6,946.3 343.0,948.3 350.0,949.1C357.0,949.9 376.3,950.5 385.0,950.9C393.7,951.3 408.7,950.5 415.0,951.8C421.3,953.0 429.5,959.8 432.5,960.5C435.5,961.2 433.1,957.1 437.8,957.0C442.4,956.9 461.7,958.7 467.5,959.6C473.3,960.5 478.9,962.2 481.5,964.0C484.1,965.8 486.5,970.9 486.8,972.8C487.0,974.6 490.5,976.8 483.2,978.0C476.0,979.2 445.6,980.9 432.5,981.5C419.4,982.1 407.0,982.6 385.0,982.8C363.0,982.9 287.8,982.5 267.8,982.8C247.7,983.0 243.6,983.6 234.5,984.5C225.4,985.4 206.7,988.7 199.5,989.8C192.3,990.8 184.9,990.8 180.2,992.4C175.6,994.0 167.5,998.2 164.5,1002.0C161.5,1005.8 158.9,1015.2 157.5,1021.2C156.1,1027.3 154.2,1041.2 154.0,1047.5C153.8,1053.8 154.1,1064.8 155.8,1068.5C157.4,1072.2 163.0,1075.5 166.2,1075.5C169.5,1075.5 175.3,1071.5 180.2,1068.5C185.2,1065.5 196.7,1057.0 203.0,1052.8C209.3,1048.5 221.0,1041.0 227.5,1037.0C234.0,1033.0 246.6,1026.0 252.0,1023.0C257.4,1020.0 261.7,1016.8 267.8,1014.2C273.8,1011.7 288.9,1006.1 297.5,1003.8C306.1,1001.4 320.8,997.9 332.5,996.8C344.2,995.6 371.7,995.6 385.0,995.0C398.3,994.4 419.2,992.9 432.5,992.4C445.8,991.9 471.0,991.7 485.0,991.5C499.0,991.3 525.8,990.8 537.5,990.6C549.2,990.4 565.8,989.8 572.5,989.8C579.2,989.7 583.7,990.2 587.4,990.0C591.1,989.8 597.4,988.0 600.0,988.0C602.6,988.0 604.8,990.8 606.6,990.3C608.4,989.8 611.9,985.9 613.3,984.4C614.7,982.9 616.3,981.2 617.0,979.2C617.7,977.2 618.1,971.3 618.5,969.6C618.9,967.9 619.5,966.7 620.0,966.6C620.5,966.5 621.4,968.3 622.2,968.8C623.0,969.3 625.0,969.5 625.9,970.3C626.8,971.1 628.3,972.9 628.8,974.8C629.3,976.7 629.7,981.9 629.6,984.4C629.5,986.9 628.9,991.5 628.1,993.2C627.3,995.0 624.5,997.5 623.6,997.7C622.7,997.9 621.9,995.5 621.4,994.7C620.9,993.9 620.4,991.4 620.0,991.8C619.6,992.2 618.8,994.7 618.5,997.7C618.2,1000.7 617.7,1010.4 617.7,1014.0C617.7,1017.6 618.2,1022.8 618.5,1025.0C618.8,1027.2 619.8,1030.3 620.3,1030.2C620.8,1030.1 621.7,1024.0 622.2,1024.3C622.7,1024.6 623.6,1029.4 624.4,1032.5C625.2,1035.5 627.0,1042.3 628.1,1047.2C629.2,1052.2 631.6,1066.9 632.5,1069.4C633.4,1071.9 634.0,1067.4 634.7,1065.7C635.4,1064.0 636.8,1058.7 637.7,1056.9C638.6,1055.1 640.5,1055.2 641.4,1052.4C642.3,1049.6 643.8,1040.3 644.4,1036.2C644.9,1032.1 645.5,1025.3 645.8,1021.4C646.1,1017.5 646.5,1011.5 646.6,1006.6C646.7,1001.7 646.8,989.8 646.9,984.4C647.0,979.0 647.2,971.8 647.3,965.9C647.4,960.0 647.9,943.5 648.0,940.0" fill="none" stroke="#000" stroke-width="3.9" stroke-linejoin="round" stroke-linecap="round"/>
<path d="M495.5,973.0C495.3,971.3 497.1,968.9 499.0,968.0C500.9,967.1 504.4,967.0 507.0,967.5C509.6,968.0 514.2,969.6 514.5,971.0C514.8,972.4 511.4,974.8 509.0,976.0C506.6,977.2 502.2,978.5 500.0,978.0C497.8,977.5 495.7,974.7 495.5,973.0Z" fill="none" stroke="#000" stroke-width="3.9" stroke-linejoin="round" stroke-linecap="round"/>
<path d="M267.5,716V1247" stroke="#000" stroke-width="3.5" stroke-dasharray="10.6 10" stroke-dashoffset="0"/>
<path d="M404,806L340.9,908.9" stroke="#000" stroke-width="3.0"/>
<path d="M332.5,922.5L336.1,901.3L340.3,909.7L349.8,909.6Z" fill="#000"/>
<text x="227" y="930.75" font-family="'Liberation Sans', Arial, Helvetica, sans-serif" font-size="30" font-weight="bold" text-anchor="start" fill="#000" >e</text>
<text x="208.5" y="986" font-family="'Liberation Sans', Arial, Helvetica, sans-serif" font-size="30" font-weight="bold" text-anchor="start" fill="#000" >u</text>
<text x="211.5" y="1079" font-family="'Liberation Sans', Arial, Helvetica, sans-serif" font-size="30" font-weight="bold" text-anchor="start" fill="#000" >i</text>
<text x="231" y="1150.75" font-family="'Liberation Sans', Arial, Helvetica, sans-serif" font-size="30.5" font-weight="bold" text-anchor="start" fill="#000" textLength="313.5" lengthAdjust="spacingAndGlyphs">w/ bounce resonance</text>
<rect x="463.1" y="727.4" width="171.0" height="33.60000000000002" fill="#fff" stroke="#262626" stroke-width="1.2"/>
<ellipse cx="493.75" cy="744.4" rx="25.4" ry="11.4" fill="#2400d8"/>
<ellipse cx="493.75" cy="744.4" rx="16.6" ry="6.6" fill="#fff"/>
<ellipse cx="493.75" cy="744.4" rx="8.75" ry="3.3" fill="#a50021"/>
<text x="524.4" y="753.1" font-family="'Liberation Sans', Arial, Helvetica, sans-serif" font-size="23" font-weight="normal" text-anchor="start" fill="#000" textLength="94.5" lengthAdjust="spacingAndGlyphs">total NTV</text>
<clipPath id="clipd"><rect x="907.5" y="713.2" width="540.2" height="535.7"/></clipPath>
<g clip-path="url(#clipd)">
<rect x="907.5" y="713.2" width="540.2" height="535.7" fill="#d6f7fc"  opacity="1"/>
<path d="M900.0,1000.0L905.0,990.0L930.0,990.0L952.0,982.0L970.0,947.0L1005.0,916.0L1057.0,907.0L1110.0,910.0L1170.0,926.0L1222.0,947.0L1275.0,965.0L1327.0,970.0L1354.0,974.0L1362.0,990.0L1380.0,990.0L1385.0,990.0L1412.0,990.0L1460.0,990.0L1460.0,700.0L900.0,700.0Z" fill="#e0fbfd" filter="url(#bl10)" opacity="1"/>
<path d="M900.0,1000.0L905.0,922.5L930.0,917.5L952.0,937.0L970.0,902.0L1005.0,871.0L1057.0,862.0L1110.0,865.0L1170.0,881.0L1222.0,902.0L1275.0,920.0L1327.0,925.0L1354.0,929.0L1362.0,932.5L1380.0,934.0L1385.0,954.0L1406.0,967.0L1412.0,982.0L1460.0,982.0L1460.0,700.0L900.0,700.0Z" fill="#c0f2fd" filter="url(#bl10)" opacity="1"/>
<path d="M900.0,1000.0L905.0,915.0L930.0,905.0L952.0,912.0L970.0,877.0L1005.0,846.0L1057.0,837.0L1110.0,840.0L1170.0,856.0L1222.0,877.0L1275.0,895.0L1327.0,900.0L1354.0,904.0L1362.0,915.0L1380.0,919.0L1385.0,944.0L1406.0,967.0L1412.0,982.0L1460.0,982.0L1460.0,700.0L900.0,700.0Z" fill="#8fdafb" filter="url(#bl10)" opacity="1"/>
<path d="M900.0,1000.0L905.0,908.4L930.0,894.0L952.0,890.0L970.0,855.0L1005.0,824.0L1057.0,815.0L1110.0,818.0L1170.0,834.0L1222.0,855.0L1275.0,873.0L1327.0,878.0L1354.0,882.0L1362.0,899.6L1380.0,905.8L1385.0,935.2L1406.0,967.0L1412.0,982.0L1460.0,982.0L1460.0,700.0L900.0,700.0Z" fill="#5aa8f7" filter="url(#bl8)" opacity="1"/>
<path d="M900.0,1000.0L905.0,903.6L930.0,886.0L952.0,874.0L970.0,839.0L1005.0,808.0L1057.0,799.0L1110.0,802.0L1170.0,818.0L1222.0,839.0L1275.0,857.0L1327.0,862.0L1354.0,866.0L1362.0,888.4L1380.0,896.2L1385.0,928.8L1406.0,967.0L1412.0,982.0L1460.0,982.0L1460.0,700.0L900.0,700.0Z" fill="#2f5ef2" filter="url(#bl6)" opacity="1"/>
<path d="M900.0,1000.0L905.0,900.0L930.0,880.0L952.0,862.0L970.0,827.0L1005.0,796.0L1057.0,787.0L1110.0,790.0L1170.0,806.0L1222.0,827.0L1275.0,845.0L1327.0,850.0L1354.0,854.0L1362.0,880.0L1380.0,889.0L1385.0,924.0L1406.0,967.0L1412.0,982.0L1460.0,982.0L1460.0,700.0L900.0,700.0Z" fill="#2400d8" filter="url(#bl3)" opacity="1"/>
<path d="M900.0,700.0L1005.0,700.0L985.0,760.0L960.0,830.0L950.0,870.0L930.0,900.0L900.0,900.0Z" fill="#8ed8fb" filter="url(#bl5)" opacity="1"/>
<path d="M912.0,700.0L935.0,700.0L940.0,820.0L928.0,830.0Z" fill="#4e9cf5" filter="url(#bl4)" opacity="1"/>
<path d="M948.0,700.0L975.0,700.0L958.0,860.0L950.0,860.0Z" fill="#5aa8f6" filter="url(#bl4)" opacity="1"/>
<path d="M938.0,700.0L946.0,700.0L948.0,840.0L942.0,840.0Z" fill="#b4ecfd" filter="url(#bl3)" opacity="1"/>
<path d="M985.0,700.0L1000.0,700.0L965.0,840.0Z" fill="#a8e6fd" filter="url(#bl4)" opacity="1"/>
<ellipse cx="947" cy="894" rx="6" ry="9" fill="#2400d8" filter="url(#bl1)" opacity="1"/>
<ellipse cx="956" cy="866" rx="4" ry="10" fill="#2400d8" filter="url(#bl1)" opacity="1" transform="rotate(20 956 866)"/>
<ellipse cx="927" cy="830" rx="5" ry="25" fill="#2a30e8" filter="url(#bl3)" opacity="1"/>
<rect x="907" y="860" width="25" height="120" fill="#c8f4fd" filter="url(#bl6)" opacity="1"/>
<ellipse cx="940" cy="920" rx="6" ry="12" fill="#6ebff8" filter="url(#bl3)" opacity="1"/>
<rect x="1287" y="713" width="4" height="90" fill="#3a70f5" filter="url(#bl2)" opacity="1"/>
<rect x="1325" y="713" width="5" height="120" fill="#3a70f5" filter="url(#bl2)" opacity="1"/>
<rect x="1357" y="713" width="5" height="140" fill="#3a70f5" filter="url(#bl2)" opacity="1"/>
<path d="M1385.0,900.0L1412.0,900.0L1412.0,985.0L1390.0,985.0Z" fill="#3a70f5" filter="url(#bl5)" opacity="1"/>
<path d="M990.0,990.0L1420.0,990.0L1420.0,1260.0L900.0,1260.0L900.0,1080.0L950.0,1075.0L990.0,1070.0Z" fill="#fff6d8" filter="url(#bl5)" opacity="1"/>
<path d="M900.0,1070.0L920.0,1040.0L950.0,1070.0L1000.0,1070.0L1000.0,1000.0L900.0,1000.0Z" fill="#e8fbf8" filter="url(#bl8)" opacity="1"/>
<path d="M900.0,1100.0L999.0,1096.0L1092.0,1104.0L1186.0,1094.0L1222.0,1070.0L1275.0,1062.0L1327.0,1052.0L1362.0,1045.0L1375.0,1030.0L1383.0,1015.0L1460.0,975.0L1460.0,1260.0L900.0,1260.0Z" fill="#feebc0" filter="url(#bl7)" opacity="1"/>
<path d="M900.0,1125.0L999.0,1115.0L1092.0,1116.0L1186.0,1103.0L1222.0,1082.0L1275.0,1074.0L1327.0,1064.0L1362.0,1057.0L1375.0,1038.0L1383.0,1020.0L1460.0,975.0L1460.0,1260.0L900.0,1260.0Z" fill="#fdd19c" filter="url(#bl6)" opacity="1"/>
<path d="M900.0,1162.0L999.0,1128.0L1092.0,1128.0L1186.0,1112.0L1222.0,1094.0L1275.0,1086.0L1327.0,1075.0L1362.0,1068.0L1375.0,1045.0L1383.0,1025.0L1460.0,975.0L1460.0,1260.0L900.0,1260.0Z" fill="#fca474" filter="url(#bl5)" opacity="1"/>
<path d="M900.0,1215.0L960.0,1175.0L999.0,1158.0L1092.0,1143.0L1186.0,1124.0L1222.0,1104.0L1275.0,1096.0L1327.0,1084.0L1362.0,1076.0L1375.0,1052.0L1383.0,1030.0L1460.0,975.0L1460.0,1260.0L900.0,1260.0Z" fill="#f97452" filter="url(#bl5)" opacity="1"/>
<path d="M962.0,1260.0L999.0,1184.0L1092.0,1156.0L1186.0,1134.0L1222.0,1112.0L1275.0,1103.0L1327.0,1091.0L1362.0,1082.0L1375.0,1058.0L1383.0,1035.0L1460.0,975.0L1460.0,1260.0L900.0,1260.0Z" fill="#f0403f" filter="url(#bl4)" opacity="1"/>
<path d="M992.0,1260.0L1005.0,1225.0L1092.0,1182.0L1130.0,1166.0L1205.0,1148.0L1222.0,1132.0L1275.0,1118.0L1327.0,1108.0L1362.0,1095.0L1375.0,1065.0L1383.0,1038.0L1460.0,975.0L1460.0,1260.0L900.0,1260.0Z" fill="#d0203a" filter="url(#bl4)" opacity="1"/>
<path d="M1085.0,1260.0L1100.0,1235.0L1130.0,1192.0L1170.0,1172.0L1205.0,1160.0L1222.0,1152.0L1275.0,1137.0L1327.0,1126.0L1362.0,1109.0L1375.0,1070.0L1383.0,1012.0L1411.0,985.0L1448.0,980.0L1460.0,975.0L1460.0,1260.0L900.0,1260.0Z" fill="#a50021" filter="url(#bl3_5)" opacity="1"/>
<rect x="1276" y="1170" width="14" height="90" fill="#d42238" filter="url(#bl4)" opacity="1"/>
<rect x="1322" y="1180" width="10" height="80" fill="#dc2a3a" filter="url(#bl3)" opacity="1"/>
<rect x="1228" y="1220" width="8" height="40" fill="#d42238" filter="url(#bl3)" opacity="1"/>
<rect x="1368" y="1000" width="14" height="100" fill="#d8283a" filter="url(#bl4)" opacity="1"/>
<rect x="1395" y="1000" width="4" height="80" fill="#c81c34" filter="url(#bl2)" opacity="1"/>
<path d="M1383.0,995.0L1411.0,978.0L1460.0,970.0L1460.0,1260.0L1383.0,1260.0Z" fill="#a50021" filter="url(#bl1_5)" opacity="1"/>
<path d="M1428.0,972.0C1429.8,967.8 1436.7,973.7 1440.0,975.0C1443.3,976.3 1446.7,964.2 1448.0,980.0C1449.3,995.8 1449.2,1056.3 1448.0,1070.0C1446.8,1083.7 1442.4,1066.3 1441.0,1062.0C1439.6,1057.7 1440.7,1041.7 1439.5,1044.0C1438.3,1046.3 1435.6,1075.0 1434.0,1076.0C1432.4,1077.0 1430.8,1062.7 1430.0,1050.0C1429.2,1037.3 1429.3,1013.0 1429.0,1000.0C1428.7,987.0 1426.2,976.2 1428.0,972.0Z" fill="#2400d8" filter="url(#bl0_8)" opacity="1"/>
<path d="M952.0,1012.0C954.3,1006.2 957.8,1003.2 965.0,1000.0C972.2,996.8 982.5,993.0 995.0,993.0C1007.5,993.0 1035.8,993.8 1040.0,1000.0C1044.2,1006.2 1027.5,1021.7 1020.0,1030.0C1012.5,1038.3 1003.7,1044.2 995.0,1050.0C986.3,1055.8 975.0,1063.0 968.0,1065.0C961.0,1067.0 955.8,1067.0 953.0,1062.0C950.2,1057.0 951.2,1043.3 951.0,1035.0C950.8,1026.7 949.7,1017.8 952.0,1012.0Z" fill="#cdf4fd" filter="url(#bl4)" opacity="1"/>
<path d="M957.0,1010.0C959.3,1004.2 965.7,1002.7 972.0,1000.0C978.3,997.3 985.3,993.7 995.0,994.0C1004.7,994.3 1027.5,996.8 1030.0,1002.0C1032.5,1007.2 1016.7,1018.7 1010.0,1025.0C1003.3,1031.3 997.0,1035.8 990.0,1040.0C983.0,1044.2 973.3,1050.8 968.0,1050.0C962.7,1049.2 959.8,1041.7 958.0,1035.0C956.2,1028.3 954.7,1015.8 957.0,1010.0Z" fill="#a0e0fd" filter="url(#bl4)" opacity="1"/>
<path d="M968.0,1008.0C970.2,1003.7 980.0,1000.8 985.0,999.0C990.0,997.2 991.3,996.2 998.0,997.0C1004.7,997.8 1024.2,1000.2 1025.0,1004.0C1025.8,1007.8 1009.7,1015.7 1003.0,1020.0C996.3,1024.3 990.2,1029.2 985.0,1030.0C979.8,1030.8 974.8,1028.7 972.0,1025.0C969.2,1021.3 965.8,1012.3 968.0,1008.0Z" fill="#5fa8f8" filter="url(#bl4)" opacity="1"/>
<path d="M984.0,1004.0C984.8,1001.2 989.0,998.5 995.0,996.0C1001.0,993.5 1009.2,990.8 1020.0,989.0C1030.8,987.2 1043.3,985.9 1060.0,985.0C1076.7,984.1 1096.7,983.8 1120.0,983.5C1143.3,983.2 1170.0,983.2 1200.0,983.0C1230.0,982.8 1264.8,982.7 1300.0,982.5C1335.2,982.3 1392.5,980.4 1411.0,982.0C1429.5,983.6 1429.5,990.2 1411.0,992.0C1392.5,993.8 1335.2,992.8 1300.0,993.0C1264.8,993.2 1228.8,992.8 1200.0,993.5C1171.2,994.2 1145.0,995.4 1127.0,997.0C1109.0,998.6 1103.7,1000.5 1092.0,1003.0C1080.3,1005.5 1067.3,1009.2 1057.0,1012.0C1046.7,1014.8 1038.7,1018.7 1030.0,1020.0C1021.3,1021.3 1011.7,1021.2 1005.0,1020.0C998.3,1018.8 993.5,1015.7 990.0,1013.0C986.5,1010.3 983.2,1006.8 984.0,1004.0Z" fill="#2400d8" filter="url(#bl1_5)" opacity="1"/>
<path d="M900.0,960.0L950.0,960.0L950.0,1060.0L900.0,1070.0Z" fill="#d5f8fd" filter="url(#bl6)" opacity="1"/>
<path d="M975.0,980.0C962.5,977.2 979.2,970.0 985.0,965.0C990.8,960.0 997.5,953.5 1010.0,950.0C1022.5,946.5 1041.7,945.0 1060.0,944.0C1078.3,943.0 1100.0,943.0 1120.0,944.0C1140.0,945.0 1158.3,947.3 1180.0,950.0C1201.7,952.7 1232.8,957.0 1250.0,960.0C1267.2,963.0 1277.7,965.0 1283.0,968.0C1288.3,971.0 1290.8,975.7 1282.0,978.0C1273.2,980.3 1267.0,981.3 1230.0,982.0C1193.0,982.7 1102.5,982.3 1060.0,982.0C1017.5,981.7 987.5,982.8 975.0,980.0Z" fill="#fff1cf" filter="url(#bl5)" opacity="1"/>
<path d="M1000.0,980.0C985.8,976.3 1005.0,964.5 1015.0,960.0C1025.0,955.5 1040.8,953.3 1060.0,953.0C1079.2,952.7 1106.7,955.8 1130.0,958.0C1153.3,960.2 1178.3,963.7 1200.0,966.0C1221.7,968.3 1250.8,969.7 1260.0,972.0C1269.2,974.3 1281.7,978.3 1255.0,980.0C1228.3,981.7 1142.5,982.0 1100.0,982.0C1057.5,982.0 1014.2,983.7 1000.0,980.0Z" fill="#fdc08a" filter="url(#bl5)" opacity="1"/>
<ellipse cx="1075" cy="968" rx="60" ry="12" fill="#fb7050" filter="url(#bl5)" opacity="1"/>
<path d="M1020.0,980.0C1015.8,976.7 1027.5,966.0 1035.0,962.0C1042.5,958.0 1054.2,956.3 1065.0,956.0C1075.8,955.7 1090.0,958.0 1100.0,960.0C1110.0,962.0 1122.5,965.0 1125.0,968.0C1127.5,971.0 1125.8,975.7 1115.0,978.0C1104.2,980.3 1075.8,981.7 1060.0,982.0C1044.2,982.3 1024.2,983.3 1020.0,980.0Z" fill="#ec3a3f" filter="url(#bl4)" opacity="1"/>
<ellipse cx="1072" cy="972" rx="32" ry="8" fill="#a50021" filter="url(#bl3_5)" opacity="1"/>
<ellipse cx="1220" cy="975" rx="35" ry="5" fill="#fdb27c" filter="url(#bl3)" opacity="1"/>
</g>
<path d="M907.6,726.0C911.9,726.3 924.6,726.9 933.2,727.8C941.9,728.6 950.8,729.6 959.5,731.2C968.2,732.9 977.0,735.1 985.8,737.4C994.5,739.7 1003.2,742.5 1012.0,745.2C1020.8,748.0 1029.5,751.1 1038.2,754.0C1047.0,756.9 1055.8,759.5 1064.5,762.8C1073.2,766.0 1082.3,769.6 1090.8,773.2C1099.2,776.9 1106.8,780.8 1115.2,784.6C1123.7,788.4 1133.3,792.4 1141.5,796.0C1149.7,799.6 1157.5,803.6 1164.2,806.5C1171.0,809.4 1174.3,810.0 1182.2,813.5C1190.2,817.0 1203.0,823.4 1212.0,827.5C1221.0,831.6 1228.3,834.6 1236.5,838.0C1244.7,841.4 1252.8,844.7 1261.0,847.6C1269.2,850.5 1277.3,852.7 1285.5,855.5C1293.7,858.3 1301.8,861.3 1310.0,864.2C1318.2,867.2 1326.3,870.2 1334.5,873.0C1342.7,875.8 1350.5,878.6 1359.0,880.9C1367.5,883.2 1376.5,885.2 1385.2,887.0C1394.0,888.8 1406.2,890.4 1411.5,891.4C1416.8,892.4 1414.4,890.0 1416.8,893.1C1419.1,896.2 1422.9,904.1 1425.5,909.8C1428.1,915.4 1430.5,921.7 1432.5,927.2C1434.5,932.8 1436.0,937.8 1437.8,943.0C1439.5,948.2 1441.5,952.9 1443.0,958.8C1444.5,964.6 1445.7,972.8 1446.5,978.0C1447.3,983.2 1447.8,988.0 1448.0,990.0" fill="none" stroke="#ff00ff" stroke-width="3.6" stroke-dasharray="13 13"/>
<path d="M907.6,885.2C911.9,885.2 924.6,885.4 933.2,885.2C941.9,885.1 950.8,884.5 959.5,884.4C968.2,884.3 977.0,884.3 985.8,884.4C994.5,884.5 1003.2,884.6 1012.0,885.2C1020.8,885.9 1029.5,886.8 1038.2,888.0C1047.0,889.2 1055.8,890.4 1064.5,892.2C1073.2,894.1 1082.0,896.6 1090.8,899.2C1099.5,901.9 1108.5,904.9 1117.0,908.0C1125.5,911.1 1133.0,914.4 1141.5,917.6C1150.0,920.8 1158.9,924.5 1167.8,927.2C1176.6,930.0 1186.0,931.6 1194.5,934.2C1203.0,936.9 1210.8,940.1 1219.0,943.0C1227.2,945.9 1235.3,949.1 1243.5,951.8C1251.7,954.4 1259.8,956.4 1268.0,958.8C1276.2,961.1 1284.0,963.1 1292.5,965.8C1301.0,968.4 1310.3,971.9 1318.8,974.5C1327.2,977.1 1333.0,979.6 1343.2,981.5C1353.5,983.4 1368.6,985.2 1380.0,986.0C1391.4,986.8 1406.2,986.2 1411.5,986.2" fill="none" stroke="#ff00ff" stroke-width="3.6" stroke-dasharray="13 13"/>
<path d="M907.6,903.0C911.9,902.9 924.6,902.8 933.2,902.5C941.9,902.2 949.7,901.3 959.5,901.0C969.3,900.7 982.1,900.2 992.0,900.5C1001.9,900.8 1011.3,901.2 1019.0,902.5C1026.7,903.8 1030.7,906.7 1038.2,908.5C1045.8,910.3 1055.8,911.3 1064.5,913.2C1073.2,915.2 1082.0,917.8 1090.8,920.2C1099.5,922.7 1108.5,925.3 1117.0,928.0C1125.5,930.7 1133.0,933.4 1141.5,936.5C1150.0,939.6 1158.9,943.4 1167.8,946.5C1176.6,949.6 1186.0,952.2 1194.5,955.0C1203.0,957.8 1210.8,960.5 1219.0,963.0C1227.2,965.5 1235.3,967.8 1243.5,970.0C1251.7,972.2 1259.8,974.2 1268.0,976.0C1276.2,977.8 1284.0,979.5 1292.5,981.0C1301.0,982.5 1310.3,984.0 1318.8,985.0C1327.2,986.0 1327.8,986.7 1343.2,987.0C1358.7,987.3 1400.1,987.0 1411.5,987.0" fill="none" stroke="#ff00ff" stroke-width="3.6" stroke-dasharray="13 13"/>
<path d="M907.6,908.5C911.9,908.5 924.6,908.8 933.2,908.5C941.9,908.2 949.7,906.9 959.5,907.0C969.3,907.1 982.1,908.1 992.0,909.0C1001.9,909.9 1011.3,910.9 1019.0,912.5C1026.7,914.1 1030.7,916.5 1038.2,918.5C1045.8,920.5 1055.8,922.3 1064.5,924.6C1073.2,926.9 1082.0,929.9 1090.8,932.5C1099.5,935.1 1108.5,937.5 1117.0,940.4C1125.5,943.3 1133.0,946.9 1141.5,950.0C1150.0,953.1 1158.9,955.9 1167.8,958.8C1176.6,961.6 1186.0,964.5 1194.5,967.0C1203.0,969.5 1210.8,971.8 1219.0,974.0C1227.2,976.2 1235.3,978.2 1243.5,980.0C1251.7,981.8 1259.8,983.7 1268.0,985.0C1276.2,986.3 1284.0,987.3 1292.5,988.0C1301.0,988.7 1310.3,988.8 1318.8,989.0C1327.2,989.2 1327.8,989.0 1343.2,989.0C1358.7,989.0 1400.1,989.0 1411.5,989.0" fill="none" stroke="#ff00ff" stroke-width="3.6" stroke-dasharray="13 13"/>
<path d="M1300.0,988.5C1313.3,988.4 1362.5,988.2 1380.0,988.0C1397.5,987.8 1399.8,987.3 1405.0,987.0C1410.2,986.7 1409.2,988.1 1411.5,986.2C1413.8,984.4 1415.9,977.2 1418.5,975.8C1421.1,974.3 1423.5,974.3 1427.0,977.5C1430.5,980.7 1436.0,992.1 1439.5,995.0C1443.0,997.9 1446.6,995.0 1448.0,995.0" fill="none" stroke="#ff00ff" stroke-width="3"/>
<path d="M907.0,1002.0C907.1,1004.1 905.8,1014.0 907.9,1017.8C910.0,1021.5 919.6,1029.1 922.8,1030.0C925.9,1030.9 929.2,1028.5 931.5,1024.8C933.8,1021.0 937.0,1006.9 940.2,1002.0C943.5,997.1 951.1,990.8 956.0,988.0C960.9,985.2 972.1,982.6 977.0,981.0C981.9,979.4 990.4,977.1 992.8,975.8C995.1,974.4 995.0,970.4 994.5,970.5C994.0,970.6 989.5,976.0 989.2,976.2C989.0,976.5 993.2,974.4 992.8,972.8C992.3,971.1 987.9,966.6 985.8,964.0C983.6,961.4 978.6,956.5 977.0,953.5C975.4,950.5 973.5,944.3 973.5,941.2C973.5,938.2 975.1,933.3 977.0,930.8C978.9,928.2 983.3,922.7 987.5,922.0C991.7,921.3 1003.8,924.3 1008.5,925.5C1013.2,926.7 1018.3,929.6 1022.5,930.8C1026.7,931.9 1034.4,933.2 1040.0,934.2C1045.6,935.3 1058.7,938.1 1064.5,938.6C1070.3,939.1 1077.7,938.0 1083.8,937.8C1089.8,937.5 1104.2,936.7 1110.0,936.9C1115.8,937.1 1121.7,938.6 1127.5,939.5C1133.3,940.4 1148.1,942.8 1153.8,943.9C1159.4,945.0 1160.8,946.1 1170.0,947.4C1179.2,948.7 1214.3,951.5 1222.5,953.5C1230.7,955.5 1228.9,961.5 1231.2,962.2C1233.6,963.0 1234.2,958.5 1240.0,958.8C1245.8,959.0 1269.2,962.4 1275.0,964.0C1280.8,965.6 1282.8,969.1 1283.8,971.0C1284.7,972.9 1285.5,976.7 1282.0,978.0C1278.5,979.3 1264.4,980.1 1257.5,980.6C1250.6,981.1 1240.3,981.2 1230.0,981.5C1219.7,981.8 1202.1,982.5 1180.0,982.8C1157.9,983.0 1083.2,983.2 1064.5,983.6C1045.8,984.0 1047.0,984.8 1040.0,985.4C1033.0,986.0 1018.1,987.3 1012.0,988.0C1005.9,988.7 1000.1,989.7 994.5,990.6C988.9,991.5 974.9,993.5 970.0,995.0C965.1,996.5 960.1,999.0 957.8,1002.0C955.4,1005.0 953.4,1012.9 952.5,1017.8C951.6,1022.6 950.8,1033.4 950.8,1038.8C950.8,1044.1 950.9,1054.0 952.5,1058.0C954.1,1062.0 960.0,1067.4 963.0,1068.5C966.0,1069.6 971.5,1067.6 975.2,1065.9C979.0,1064.2 986.1,1058.6 991.0,1055.4C995.9,1052.2 1006.4,1045.6 1012.0,1042.2C1017.6,1038.9 1026.9,1033.5 1033.0,1030.0C1039.1,1026.5 1049.6,1019.5 1057.5,1016.0C1065.4,1012.5 1083.2,1006.2 1092.5,1003.8C1101.8,1001.3 1115.8,998.9 1127.5,997.6C1139.2,996.3 1166.3,994.7 1180.0,994.1C1193.7,993.5 1215.3,993.1 1230.0,993.0C1244.7,992.9 1278.0,993.6 1290.0,993.5C1302.0,993.4 1312.0,992.5 1320.0,992.5C1328.0,992.5 1342.0,993.4 1350.0,993.5C1358.0,993.6 1372.7,993.1 1380.0,993.0C1387.3,992.9 1400.9,994.1 1405.0,993.0C1409.1,991.9 1409.2,988.5 1411.0,985.0C1412.8,981.5 1416.9,969.5 1418.5,967.0C1420.1,964.5 1421.6,965.5 1423.0,966.0C1424.4,966.5 1427.9,966.0 1429.0,970.5C1430.1,975.0 1430.5,986.0 1431.0,1000.0C1431.5,1014.0 1431.8,1068.8 1432.5,1075.5C1433.2,1082.2 1435.1,1054.2 1436.0,1050.0C1436.9,1045.8 1438.8,1042.5 1439.5,1044.0C1440.2,1045.5 1440.5,1063.4 1441.2,1061.5C1442.0,1059.6 1444.3,1039.5 1445.0,1030.0C1445.7,1020.5 1446.2,1000.7 1446.5,990.0C1446.8,979.3 1446.9,955.3 1447.0,950.0" fill="none" stroke="#000" stroke-width="3.9" stroke-linejoin="round" stroke-linecap="round"/>
<path d="M1294.0,973.0C1294.0,971.7 1295.3,969.8 1297.0,969.0C1298.7,968.2 1302.2,967.9 1304.0,968.4C1305.8,968.9 1308.0,970.7 1308.0,972.0C1308.0,973.3 1305.8,975.2 1304.0,976.0C1302.2,976.8 1298.7,977.5 1297.0,977.0C1295.3,976.5 1294.0,974.3 1294.0,973.0Z" fill="none" stroke="#000" stroke-width="3.9" stroke-linejoin="round" stroke-linecap="round"/>
<path d="M1064.5,716V1242" stroke="#000" stroke-width="3.6" stroke-dasharray="12.8 13.8" stroke-dashoffset="0"/>
<path d="M1219.4,831.1L1158.7,929.4" stroke="#000" stroke-width="3.0"/>
<path d="M1150.25,943L1154.0,921.8L1158.1,930.2L1167.6,930.2Z" fill="#000"/>
<text x="994" y="951.75" font-family="'DejaVu Sans', 'Liberation Sans', sans-serif" font-size="26" font-weight="bold" text-anchor="start" fill="#000" >e</text>
<text x="1015.5" y="989.75" font-family="'DejaVu Sans', 'Liberation Sans', sans-serif" font-size="26" font-weight="bold" text-anchor="start" fill="#000" >u</text>
<text x="1008.5" y="1082.5" font-family="'DejaVu Sans', 'Liberation Sans', sans-serif" font-size="26" font-weight="bold" text-anchor="start" fill="#000" >i</text>
<text x="1020.75" y="1148.1" font-family="'DejaVu Sans', 'Liberation Sans', sans-serif" font-size="30" font-weight="bold" text-anchor="start" fill="#000" textLength="340" lengthAdjust="spacingAndGlyphs">w/ bounce resonance</text>
<rect x="1262.75" y="727.75" width="170.6500000000001" height="32.89999999999998" fill="#fff" stroke="#262626" stroke-width="1.2"/>
<ellipse cx="1293.4" cy="744.4" rx="25.4" ry="11.2" fill="#2400d8"/>
<ellipse cx="1293.4" cy="744.4" rx="17.5" ry="6.6" fill="#fff"/>
<ellipse cx="1293.4" cy="744.4" rx="8.75" ry="3.5" fill="#a50021"/>
<text x="1324" y="752.6" font-family="'DejaVu Sans', 'Liberation Sans', sans-serif" font-size="24" font-weight="normal" text-anchor="start" fill="#000" textLength="104" lengthAdjust="spacingAndGlyphs">total NTV</text>
<rect x="105.5" y="1384.6" width="619.1" height="566.4000000000001" fill="#fff" stroke="#595959" stroke-width="1.3"/>
<path d="M260.1,1951v-6M260.1,1384.6v6M414.8,1951v-6M414.8,1384.6v6M569.6,1951v-6M569.6,1384.6v6M105.5,1809.3h6M724.6,1809.3h-6M105.5,1667.8h6M724.6,1667.8h-6M105.5,1526.3h6M724.6,1526.3h-6" stroke="#333" stroke-width="1.2" fill="none"/>
<path d="M105.1,1397.9L107.1,1397.8L108.9,1397.8L110.5,1398.0L112.1,1398.4L113.5,1398.8L114.8,1399.4L116.0,1400.2L117.1,1401.0L118.1,1401.9L119.0,1402.9L119.9,1404.0L120.7,1405.1L121.4,1406.3L122.1,1407.6L122.8,1408.8L123.4,1410.2L124.0,1411.5L124.6,1412.8L125.2,1414.2L125.8,1415.5L126.3,1416.9L126.9,1418.3L127.5,1419.7L128.0,1421.0L128.6,1422.4L129.1,1423.8L129.6,1425.2L130.1,1426.6L130.6,1428.0L131.2,1429.4L131.7,1430.8L132.1,1432.2L132.6,1433.6L133.1,1435.1L133.6,1436.5L134.1,1437.9L134.5,1439.4L135.0,1440.8L135.4,1442.2L135.9,1443.7L136.3,1445.1L136.8,1446.6L137.2,1448.0L137.7,1449.4L138.1,1450.9L138.5,1452.3L139.0,1453.8L139.4,1455.3L139.8,1456.7L140.2,1458.2L140.7,1459.6L141.1,1461.1L141.5,1462.5L141.9,1464.0L142.3,1465.5L142.7,1466.9L143.2,1468.4L143.6,1469.8L144.0,1471.3L144.4,1472.7L144.8,1474.2L145.2,1475.6L145.6,1477.1L146.0,1478.5L146.5,1480.0L146.9,1481.4L147.3,1482.9L147.7,1484.3L148.1,1485.8L148.6,1487.2L149.0,1488.7L149.4,1490.1L149.8,1491.6L150.3,1493.0L150.7,1494.4L151.1,1495.9L151.5,1497.3L152.0,1498.7L152.4,1500.2L152.8,1501.6L153.3,1503.0L153.7,1504.5L154.2,1505.9L154.6,1507.3L155.0,1508.7L155.5,1510.2L155.9,1511.6L156.4,1513.0L156.8,1514.4L157.3,1515.9L157.8,1517.3L158.2,1518.7L158.7,1520.1L159.2,1521.5L159.6,1522.9L160.1,1524.3L160.6,1525.8L161.0,1527.2L161.5,1528.6L162.0,1530.0L162.5,1531.4L163.0,1532.8L163.5,1534.2L164.0,1535.6L164.5,1537.0L165.0,1538.4L165.5,1539.8L166.0,1541.2L166.5,1542.6L167.0,1544.0L167.5,1545.4L168.1,1546.8L168.6,1548.2L169.1,1549.5L169.7,1550.9L170.2,1552.3L170.7,1553.7L171.3,1555.1L171.8,1556.5L172.4,1557.8L173.0,1559.2L173.5,1560.6L174.1,1562.0L174.7,1563.4L175.3,1564.7L175.8,1566.1L176.4,1567.5L177.0,1568.8L177.6,1570.2L178.2,1571.6L178.8,1572.9L179.4,1574.3L180.1,1575.7L180.7,1577.0L181.3,1578.4L181.9,1579.8L182.6,1581.1L183.2,1582.5L183.9,1583.8L184.5,1585.2L185.2,1586.5L185.9,1587.9L186.5,1589.2L187.2,1590.6L187.9,1591.9L188.6,1593.3L189.3,1594.6L190.0,1595.9L190.7,1597.3L191.4,1598.6L192.1,1599.9L192.8,1601.3L193.6,1602.6L194.3,1603.9L195.0,1605.2L195.8,1606.5L196.5,1607.9L197.3,1609.2L198.1,1610.5L198.8,1611.8L199.6,1613.1L200.4,1614.4L201.2,1615.6L202.0,1616.9L202.8,1618.2L203.6,1619.5L204.4,1620.8L205.2,1622.0L206.0,1623.3L206.9,1624.6L207.7,1625.8L208.6,1627.1L209.4,1628.3L210.3,1629.6L211.1,1630.8L212.0,1632.0L212.9,1633.2L213.8,1634.5L214.7,1635.7L215.5,1636.9L216.5,1638.1L217.4,1639.3L218.3,1640.5L219.2,1641.7L220.1,1642.8L221.1,1644.0L222.0,1645.2L223.0,1646.3L223.9,1647.5L224.9,1648.6L225.9,1649.8L226.8,1650.9L227.8,1652.0L228.8,1653.2L229.8,1654.3L230.8,1655.4L231.8,1656.5L232.8,1657.6L233.9,1658.7L234.9,1659.7L235.9,1660.8L237.0,1661.9L238.0,1662.9L239.1,1664.0L240.2,1665.0L241.3,1666.0L242.3,1667.0L243.4,1668.0L244.5,1669.0L245.6,1670.0L246.7,1671.0L247.9,1672.0L249.0,1673.0L250.1,1673.9L251.3,1674.9L252.4,1675.8L253.6,1676.7L254.8,1677.7L255.9,1678.6L257.1,1679.5L258.3,1680.4L259.5,1681.3L260.7,1682.1L261.9,1683.0L263.1,1683.8L264.4,1684.7L265.6,1685.5L266.8,1686.3L268.1,1687.2L269.3,1688.0L270.6,1688.7L271.9,1689.5L273.2,1690.3L274.4,1691.1L275.7,1691.8L277.0,1692.6L278.3,1693.3L279.6,1694.0L280.9,1694.7L282.3,1695.4L283.6,1696.1L284.9,1696.8L286.3,1697.5L287.6,1698.2L289.0,1698.8L290.3,1699.5L291.7,1700.1L293.0,1700.7L294.4,1701.4L295.8,1702.0L297.1,1702.6L298.5,1703.2L299.9,1703.7L301.3,1704.3L302.7,1704.9L304.1,1705.4L305.5,1706.0L306.9,1706.5L308.3,1707.0L309.7,1707.5L311.2,1708.0L312.6,1708.5L314.0,1709.0L315.4,1709.5L316.9,1710.0L318.3,1710.4L319.7,1710.9L321.2,1711.3L322.6,1711.8L324.1,1712.2L325.5,1712.6L327.0,1713.0L328.4,1713.4L329.9,1713.8L331.3,1714.2L332.8,1714.6L334.2,1714.9L335.7,1715.3L337.2,1715.6L338.6,1716.0L340.1,1716.3L341.5,1716.6L343.0,1716.9L344.5,1717.2L345.9,1717.5L347.4,1717.8L348.9,1718.1L350.4,1718.3L351.8,1718.6L353.3,1718.9L354.8,1719.1L356.3,1719.4L357.7,1719.6L359.2,1719.8L360.7,1720.0L362.2,1720.3L363.7,1720.5L365.1,1720.7L366.6,1720.9L368.1,1721.1L369.6,1721.2L371.1,1721.4L372.6,1721.6L374.0,1721.8L375.5,1721.9L377.0,1722.1L378.5,1722.2L380.0,1722.4L381.5,1722.5L383.0,1722.7L384.5,1722.8L386.0,1722.9L387.5,1723.1L388.9,1723.2L390.4,1723.3L391.9,1723.4L393.4,1723.5L394.9,1723.7L396.4,1723.8L397.9,1723.9L399.4,1724.0L400.9,1724.1L402.4,1724.2L403.9,1724.3L405.4,1724.3L406.9,1724.4L408.4,1724.5L409.9,1724.6L411.4,1724.7L412.9,1724.8L414.4,1724.9L415.9,1724.9L417.4,1725.0L418.9,1725.1L420.4,1725.2L421.8,1725.3L423.3,1725.3L424.8,1725.4L426.3,1725.5L427.8,1725.6L429.3,1725.6L430.8,1725.7L432.3,1725.8L433.8,1725.8L435.3,1725.9L436.8,1726.0L438.3,1726.1L439.8,1726.1L441.3,1726.2L442.8,1726.2L444.3,1726.3L445.8,1726.4L447.3,1726.4L448.8,1726.5L450.3,1726.6L451.8,1726.6L453.3,1726.7L454.8,1726.7L456.3,1726.8L457.8,1726.8L459.3,1726.9L460.8,1727.0L462.3,1727.0L463.8,1727.1L465.3,1727.1L466.8,1727.2L468.3,1727.2L469.8,1727.3L471.3,1727.3L472.8,1727.4L474.3,1727.4L475.8,1727.4L477.3,1727.5L478.7,1727.5L480.2,1727.6L481.7,1727.6L483.2,1727.7L484.7,1727.7L486.2,1727.8L487.7,1727.8L489.2,1727.8L490.7,1727.9L492.2,1727.9L493.7,1727.9L495.2,1728.0L496.7,1728.0L498.2,1728.1L499.7,1728.1L501.2,1728.1L502.7,1728.2L504.2,1728.2L505.7,1728.2L507.2,1728.3L508.7,1728.3L510.2,1728.3L511.7,1728.4L513.2,1728.4L514.7,1728.4L516.2,1728.4L517.7,1728.5L519.2,1728.5L520.7,1728.5L522.2,1728.5L523.7,1728.6L525.2,1728.6L526.7,1728.6L528.2,1728.6L529.7,1728.7L531.2,1728.7L532.7,1728.7L534.2,1728.7L535.7,1728.8L537.2,1728.8L538.7,1728.8L540.2,1728.8L541.7,1728.8L543.2,1728.9L544.7,1728.9L546.2,1728.9L547.7,1728.9L549.2,1728.9L550.7,1729.0L552.2,1729.0L553.7,1729.0L555.2,1729.0L556.7,1729.0L558.2,1729.0L559.7,1729.1L561.2,1729.1L562.7,1729.1L564.2,1729.1L565.7,1729.1L567.1,1729.1L568.6,1729.1L570.1,1729.1L571.6,1729.2L573.1,1729.2L574.6,1729.2L576.1,1729.2L577.6,1729.2L579.1,1729.2L580.6,1729.2L582.1,1729.2L583.6,1729.3L585.1,1729.3L586.6,1729.3L588.1,1729.3L589.6,1729.3L591.1,1729.3L592.6,1729.3L594.1,1729.3L595.6,1729.3L597.1,1729.3L598.6,1729.3L600.1,1729.4L601.6,1729.4L603.1,1729.4L604.6,1729.4L606.1,1729.4L607.6,1729.4L609.1,1729.4L610.6,1729.4L612.1,1729.4L613.6,1729.4L615.1,1729.4L616.6,1729.4L618.1,1729.4L619.6,1729.4L621.1,1729.5L622.6,1729.5L624.1,1729.5L625.6,1729.5L627.1,1729.5L628.6,1729.5L630.1,1729.5L631.6,1729.5L633.1,1729.5L634.6,1729.5L636.1,1729.5L637.6,1729.5L639.1,1729.5L640.6,1729.5L642.1,1729.5L643.6,1729.5L645.1,1729.5L646.6,1729.6L648.1,1729.6L649.6,1729.6L651.1,1729.6L652.6,1729.6L654.1,1729.6L655.6,1729.6L657.1,1729.6L658.6,1729.6L660.1,1729.6L661.6,1729.6L663.1,1729.6L664.6,1729.6L666.1,1729.6L667.6,1729.6L669.1,1729.7L670.6,1729.7L672.1,1729.7L673.6,1729.7L675.1,1729.7L676.5,1729.7L678.0,1729.7L679.5,1729.7L681.0,1729.7L682.5,1729.7L684.0,1729.7L685.5,1729.8L687.0,1729.8L688.5,1729.8L690.0,1729.8L691.5,1729.8L693.0,1729.8L694.5,1729.8L696.0,1729.8L697.5,1729.8L699.0,1729.8L700.5,1729.9L702.0,1729.9L703.5,1729.9L705.0,1729.9L706.5,1729.9L708.0,1729.9L709.5,1729.9L711.0,1730.0L712.5,1730.0L714.0,1730.0L715.5,1730.0L717.0,1730.0L718.5,1730.0L720.0,1730.1L721.5,1730.1L723.0,1730.1L724.5,1730.1" fill="none" stroke="#0000ff" stroke-width="3.3" stroke-linejoin="round"/>
<path d="M105.3,1398.9L105.7,1400.3L106.0,1401.8L106.3,1403.3L106.6,1404.7L106.9,1406.2L107.2,1407.7L107.5,1409.2L107.9,1410.6L108.2,1412.1L108.5,1413.6L108.8,1415.1L109.1,1416.5L109.4,1418.0L109.7,1419.5L110.0,1420.9L110.3,1422.4L110.6,1423.9L110.9,1425.4L111.2,1426.8L111.5,1428.3L111.8,1429.8L112.1,1431.3L112.4,1432.7L112.7,1434.2L113.0,1435.7L113.3,1437.1L113.6,1438.6L113.9,1440.1L114.2,1441.6L114.5,1443.0L114.8,1444.5L115.1,1446.0L115.3,1447.4L115.6,1448.9L115.9,1450.4L116.2,1451.9L116.5,1453.3L116.8,1454.8L117.1,1456.3L117.4,1457.8L117.6,1459.2L117.9,1460.7L118.2,1462.2L118.5,1463.6L118.8,1465.1L119.1,1466.6L119.4,1468.1L119.6,1469.5L119.9,1471.0L120.2,1472.5L120.5,1473.9L120.8,1475.4L121.1,1476.9L121.3,1478.4L121.6,1479.8L121.9,1481.3L122.2,1482.8L122.5,1484.3L122.7,1485.7L123.0,1487.2L123.3,1488.7L123.6,1490.1L123.9,1491.6L124.2,1493.1L124.4,1494.5L124.7,1496.0L125.0,1497.5L125.3,1499.0L125.6,1500.4L125.9,1501.9L126.1,1503.4L126.4,1504.8L126.7,1506.3L127.0,1507.8L127.3,1509.3L127.6,1510.7L127.8,1512.2L128.1,1513.7L128.4,1515.1L128.7,1516.6L129.0,1518.1L129.3,1519.5L129.6,1521.0L129.9,1522.5L130.1,1524.0L130.4,1525.4L130.7,1526.9L131.0,1528.4L131.3,1529.8L131.6,1531.3L131.9,1532.8L132.2,1534.2L132.5,1535.7L132.8,1537.2L133.1,1538.6L133.4,1540.1L133.7,1541.6L134.0,1543.1L134.3,1544.5L134.6,1546.0L134.9,1547.5L135.2,1548.9L135.5,1550.4L135.8,1551.9L136.1,1553.3L136.4,1554.8L136.7,1556.3L137.0,1557.7L137.3,1559.2L137.6,1560.7L137.9,1562.1L138.2,1563.6L138.5,1565.1L138.8,1566.5L139.2,1568.0L139.5,1569.5L139.8,1570.9L140.1,1572.4L140.4,1573.9L140.8,1575.3L141.1,1576.8L141.4,1578.3L141.7,1579.7L142.0,1581.2L142.4,1582.6L142.7,1584.1L143.0,1585.6L143.4,1587.0L143.7,1588.5L144.0,1590.0L144.4,1591.4L144.7,1592.9L145.0,1594.4L145.4,1595.8L145.7,1597.3L146.1,1598.8L146.4,1600.2L146.8,1601.7L147.1,1603.1L147.5,1604.6L147.8,1606.1L148.2,1607.5L148.5,1609.0L148.9,1610.4L149.3,1611.9L149.6,1613.4L150.0,1614.8L150.4,1616.3L150.7,1617.7L151.1,1619.2L151.5,1620.6L151.9,1622.1L152.3,1623.6L152.6,1625.0L153.0,1626.5L153.4,1627.9L153.8,1629.4L154.2,1630.8L154.6,1632.3L155.0,1633.7L155.4,1635.1L155.8,1636.6L156.3,1638.0L156.7,1639.5L157.1,1640.9L157.5,1642.4L158.0,1643.8L158.4,1645.2L158.8,1646.7L159.3,1648.1L159.7,1649.5L160.2,1651.0L160.6,1652.4L161.1,1653.8L161.6,1655.2L162.0,1656.7L162.5,1658.1L163.0,1659.5L163.5,1660.9L164.0,1662.3L164.4,1663.8L164.9,1665.2L165.4,1666.6L166.0,1668.0L166.5,1669.4L167.0,1670.8L167.5,1672.2L168.0,1673.6L168.6,1675.0L169.1,1676.4L169.6,1677.8L170.2,1679.2L170.8,1680.6L171.3,1682.0L171.9,1683.4L172.5,1684.7L173.0,1686.1L173.6,1687.5L174.2,1688.9L174.8,1690.2L175.4,1691.6L176.0,1693.0L176.6,1694.3L177.2,1695.7L177.9,1697.1L178.5,1698.4L179.1,1699.8L179.8,1701.1L180.4,1702.5L181.1,1703.8L181.8,1705.2L182.4,1706.5L183.1,1707.9L183.8,1709.2L184.5,1710.5L185.2,1711.8L185.9,1713.2L186.6,1714.5L187.4,1715.8L188.1,1717.1L188.8,1718.4L189.6,1719.7L190.3,1721.0L191.1,1722.3L191.9,1723.6L192.6,1724.9L193.4,1726.2L194.2,1727.4L195.0,1728.7L195.9,1730.0L196.7,1731.2L197.5,1732.5L198.3,1733.7L199.2,1735.0L200.1,1736.2L200.9,1737.4L201.8,1738.6L202.7,1739.8L203.6,1741.0L204.5,1742.2L205.4,1743.4L206.3,1744.6L207.3,1745.8L208.2,1746.9L209.2,1748.1L210.1,1749.2L211.1,1750.4L212.1,1751.5L213.1,1752.6L214.1,1753.7L215.1,1754.8L216.1,1755.9L217.2,1757.0L218.2,1758.0L219.3,1759.1L220.4,1760.1L221.4,1761.2L222.5,1762.2L223.6,1763.2L224.8,1764.2L225.9,1765.2L227.0,1766.2L228.2,1767.1L229.3,1768.1L230.5,1769.0L231.7,1770.0L232.9,1770.9L234.1,1771.8L235.3,1772.7L236.5,1773.6L237.7,1774.5L239.0,1775.3L240.2,1776.2L241.5,1777.0L242.7,1777.8L244.0,1778.6L245.3,1779.4L246.6,1780.2L247.9,1781.0L249.2,1781.7L250.5,1782.5L251.8,1783.2L253.1,1783.9L254.4,1784.6L255.8,1785.3L257.1,1786.0L258.5,1786.6L259.8,1787.3L261.2,1787.9L262.5,1788.5L263.9,1789.1L265.3,1789.7L266.7,1790.3L268.0,1790.8L269.4,1791.4L270.8,1791.9L272.2,1792.4L273.6,1792.9L275.0,1793.4L276.4,1793.9L277.9,1794.4L279.3,1794.8L280.7,1795.3L282.1,1795.7L283.5,1796.1L285.0,1796.6L286.4,1797.0L287.9,1797.4L289.3,1797.7L290.8,1798.1L292.2,1798.5L293.7,1798.9L295.1,1799.2L296.6,1799.5L298.0,1799.9L299.5,1800.2L301.0,1800.5L302.4,1800.8L303.9,1801.1L305.4,1801.4L306.8,1801.7L308.3,1802.0L309.8,1802.3L311.3,1802.5L312.8,1802.8L314.2,1803.1L315.7,1803.3L317.2,1803.6L318.7,1803.8L320.2,1804.1L321.7,1804.3L323.2,1804.5L324.6,1804.8L326.1,1805.0L327.6,1805.2L329.1,1805.4L330.6,1805.7L332.1,1805.9L333.6,1806.1L335.1,1806.3L336.6,1806.5L338.1,1806.7L339.5,1806.9L341.0,1807.1L342.5,1807.4L344.0,1807.6L345.5,1807.8L347.0,1808.0L348.5,1808.2L350.0,1808.4L351.4,1808.6L352.9,1808.8L354.4,1808.9L355.9,1809.1L357.4,1809.3L358.9,1809.5L360.4,1809.7L361.8,1809.9L363.3,1810.0L364.8,1810.2L366.3,1810.4L367.8,1810.6L369.3,1810.7L370.8,1810.9L372.3,1811.0L373.7,1811.2L375.2,1811.3L376.7,1811.5L378.2,1811.6L379.7,1811.8L381.2,1811.9L382.7,1812.0L384.2,1812.1L385.7,1812.3L387.2,1812.4L388.7,1812.5L390.2,1812.6L391.7,1812.7L393.1,1812.8L394.6,1812.9L396.1,1813.0L397.6,1813.1L399.1,1813.2L400.6,1813.3L402.1,1813.4L403.6,1813.5L405.1,1813.6L406.6,1813.6L408.1,1813.7L409.6,1813.8L411.1,1813.9L412.6,1814.0L414.1,1814.0L415.6,1814.1L417.1,1814.2L418.6,1814.2L420.1,1814.3L421.6,1814.4L423.1,1814.5L424.6,1814.5L426.1,1814.6L427.6,1814.7L429.1,1814.7L430.6,1814.8L432.1,1814.8L433.6,1814.9L435.1,1815.0L436.6,1815.0L438.1,1815.1L439.6,1815.1L441.0,1815.2L442.5,1815.3L444.0,1815.3L445.5,1815.4L447.0,1815.4L448.5,1815.5L450.0,1815.5L451.5,1815.6L453.0,1815.6L454.5,1815.7L456.0,1815.7L457.5,1815.7L459.0,1815.8L460.5,1815.8L462.0,1815.9L463.5,1815.9L465.0,1816.0L466.5,1816.0L468.0,1816.0L469.5,1816.1L471.0,1816.1L472.5,1816.2L474.0,1816.2L475.5,1816.2L477.0,1816.3L478.5,1816.3L480.0,1816.3L481.5,1816.4L483.0,1816.4L484.5,1816.4L486.0,1816.5L487.5,1816.5L489.0,1816.5L490.5,1816.5L492.0,1816.6L493.5,1816.6L495.0,1816.6L496.5,1816.7L498.0,1816.7L499.5,1816.7L501.0,1816.7L502.5,1816.7L504.0,1816.8L505.5,1816.8L507.0,1816.8L508.5,1816.8L510.0,1816.9L511.5,1816.9L513.0,1816.9L514.5,1816.9L516.0,1816.9L517.5,1816.9L519.0,1817.0L520.5,1817.0L522.0,1817.0L523.5,1817.0L525.0,1817.0L526.5,1817.0L528.0,1817.0L529.5,1817.1L531.0,1817.1L532.5,1817.1L534.0,1817.1L535.5,1817.1L537.0,1817.1L538.5,1817.1L540.0,1817.1L541.5,1817.1L543.0,1817.2L544.5,1817.2L546.0,1817.2L547.5,1817.2L549.0,1817.2L550.5,1817.2L552.0,1817.2L553.5,1817.2L555.0,1817.2L556.5,1817.2L558.0,1817.2L559.5,1817.2L561.0,1817.2L562.5,1817.2L564.0,1817.2L565.5,1817.2L567.0,1817.2L568.5,1817.2L570.0,1817.3L571.5,1817.3L573.0,1817.3L574.5,1817.3L576.0,1817.3L577.5,1817.3L579.0,1817.3L580.5,1817.3L582.0,1817.3L583.5,1817.3L585.0,1817.3L586.5,1817.3L588.0,1817.3L589.5,1817.3L591.0,1817.3L592.5,1817.3L594.0,1817.3L595.5,1817.3L597.0,1817.3L598.5,1817.3L600.0,1817.3L601.5,1817.3L603.0,1817.3L604.5,1817.3L606.0,1817.3L607.5,1817.3L609.0,1817.3L610.5,1817.3L612.0,1817.3L613.5,1817.3L615.0,1817.3L616.5,1817.3L618.0,1817.3L619.5,1817.3L621.0,1817.3L622.5,1817.3L624.0,1817.3L625.5,1817.3L627.0,1817.3L628.5,1817.3L630.0,1817.3L631.5,1817.3L633.0,1817.3L634.5,1817.3L636.0,1817.3L637.5,1817.3L639.0,1817.3L640.5,1817.3L642.0,1817.3L643.5,1817.3L645.0,1817.3L646.5,1817.3L648.0,1817.3L649.5,1817.3L651.0,1817.3L652.5,1817.3L654.0,1817.3L655.5,1817.3L657.0,1817.3L658.5,1817.3L660.0,1817.3L661.5,1817.3L663.0,1817.3L664.5,1817.3L666.0,1817.3L667.5,1817.3L669.0,1817.3L670.5,1817.3L672.0,1817.3L673.5,1817.3L675.0,1817.3L676.5,1817.4L678.0,1817.4L679.5,1817.4L681.0,1817.4L682.5,1817.4L684.0,1817.4L685.5,1817.4L687.0,1817.4L688.5,1817.4L690.0,1817.4L691.5,1817.4L693.0,1817.5L694.5,1817.5L696.0,1817.5L697.5,1817.5L699.0,1817.5L700.5,1817.5L702.0,1817.5L703.5,1817.6L705.0,1817.6L706.5,1817.6L708.0,1817.6L709.5,1817.6L711.0,1817.6L712.5,1817.7L714.0,1817.7L715.5,1817.7L717.0,1817.7L718.5,1817.7L720.0,1817.8L721.5,1817.8L723.0,1817.8L724.5,1817.8" fill="none" stroke="#ff0000" stroke-width="3.3" stroke-linejoin="round"/>
<text x="102.7" y="1985.5" font-family="'Liberation Sans', Arial, Helvetica, sans-serif" font-size="26" font-weight="bold" text-anchor="middle" fill="#262626" >0</text>
<text x="257.5" y="1985.5" font-family="'Liberation Sans', Arial, Helvetica, sans-serif" font-size="26" font-weight="bold" text-anchor="middle" fill="#262626" >10</text>
<text x="412.2" y="1985.5" font-family="'Liberation Sans', Arial, Helvetica, sans-serif" font-size="26" font-weight="bold" text-anchor="middle" fill="#262626" >20</text>
<text x="567.0" y="1985.5" font-family="'Liberation Sans', Arial, Helvetica, sans-serif" font-size="26" font-weight="bold" text-anchor="middle" fill="#262626" >30</text>
<text x="721.8" y="1985.5" font-family="'Liberation Sans', Arial, Helvetica, sans-serif" font-size="26" font-weight="bold" text-anchor="middle" fill="#262626" >40</text>
<text x="94.0" y="1960.0" font-family="'Liberation Sans', Arial, Helvetica, sans-serif" font-size="26" font-weight="bold" text-anchor="end" fill="#262626" >5</text>
<text x="94.0" y="1818.5" font-family="'Liberation Sans', Arial, Helvetica, sans-serif" font-size="26" font-weight="bold" text-anchor="end" fill="#262626" >10</text>
<text x="94.0" y="1677.0" font-family="'Liberation Sans', Arial, Helvetica, sans-serif" font-size="26" font-weight="bold" text-anchor="end" fill="#262626" >15</text>
<text x="94.0" y="1535.5" font-family="'Liberation Sans', Arial, Helvetica, sans-serif" font-size="26" font-weight="bold" text-anchor="end" fill="#262626" >20</text>
<text x="94.0" y="1394.0" font-family="'Liberation Sans', Arial, Helvetica, sans-serif" font-size="26" font-weight="bold" text-anchor="end" fill="#262626" >25</text>
<rect x="249.2" y="1393.7" width="332.3" height="62.700000000000045" fill="#fff" stroke="#595959" stroke-width="1.2"/>
<path d="M253.2,1410.1000000000001h39.2" stroke="#0000ff" stroke-width="3.3"/>
<path d="M253.2,1439.8h39.2" stroke="#ff0000" stroke-width="3.3"/>
<text x="296.5" y="1417.9" font-family="'Liberation Sans', Arial, Helvetica, sans-serif" font-size="24" font-weight="bold" text-anchor="start" fill="#000" textLength="257.2" lengthAdjust="spacingAndGlyphs">w/o bounce resonance</text>
<text x="296.5" y="1448.0" font-family="'Liberation Sans', Arial, Helvetica, sans-serif" font-size="24" font-weight="bold" text-anchor="start" fill="#000" textLength="241.8" lengthAdjust="spacingAndGlyphs">w/ bounce resonance</text>
<text x="226" y="1370.9" font-family="'Liberation Sans', Arial, Helvetica, sans-serif" font-size="25.5" font-weight="bold" text-anchor="start" fill="#000" textLength="162.6" lengthAdjust="spacingAndGlyphs">phasing-ep,</text>
<text x="411.2" y="1370.9" fill="#000" font-family="'Liberation Serif', 'DejaVu Serif', serif" font-style="italic" font-size="27">ρ</text>
<text x="426.2" y="1370.9" font-family="'Liberation Sans', Arial, Helvetica, sans-serif" font-size="25.5" font-weight="bold" text-anchor="start" fill="#000" textLength="153.6" lengthAdjust="spacingAndGlyphs">=0.3,Pr=0.3</text>
<text x="415.55" y="2021.5" font-family="'Liberation Sans', Arial, Helvetica, sans-serif" font-size="28" font-weight="bold" text-anchor="middle" fill="#262626" >t(s)</text>
<text transform="translate(38.8,1746.3) rotate(-90)" font-family="'Liberation Serif', 'DejaVu Serif', serif" font-style="italic" font-size="27" fill="#262626">ω</text>
<text transform="translate(53,1727) rotate(-90)" font-family="'Liberation Serif', 'DejaVu Serif', serif" font-style="italic" font-size="22" fill="#262626">ϕ</text>
<text transform="translate(38.8,1710) rotate(-90)" font-family="'Liberation Sans', Arial, Helvetica, sans-serif" font-weight="bold" font-size="28.5" fill="#262626" textLength="103" lengthAdjust="spacingAndGlyphs">(krad/s)</text>
<rect x="904.5" y="1380.6" width="619.0999999999999" height="570.0" fill="#fff" stroke="#595959" stroke-width="1.3"/>
<path d="M1059.3,1950.6v-6M1059.3,1380.6v6M1214.0,1950.6v-6M1214.0,1380.6v6M1368.7,1950.6v-6M1368.7,1380.6v6M904.5,1808.0h6M1523.6,1808.0h-6M904.5,1665.5h6M1523.6,1665.5h-6M904.5,1523.0h6M1523.6,1523.0h-6" stroke="#333" stroke-width="1.2" fill="none"/>
<path d="M905.0,1393.9L905.8,1395.2L906.6,1396.5L907.4,1397.8L908.2,1399.1L909.0,1400.4L909.7,1401.7L910.5,1403.0L911.2,1404.3L911.9,1405.7L912.6,1407.0L913.3,1408.3L914.0,1409.7L914.6,1411.0L915.3,1412.3L916.0,1413.7L916.6,1415.0L917.2,1416.4L917.8,1417.7L918.5,1419.1L919.1,1420.5L919.6,1421.8L920.2,1423.2L920.8,1424.6L921.4,1426.0L921.9,1427.3L922.5,1428.7L923.0,1430.1L923.5,1431.5L924.1,1432.9L924.6,1434.3L925.1,1435.7L925.6,1437.1L926.1,1438.5L926.5,1439.9L927.0,1441.3L927.5,1442.8L928.0,1444.2L928.4,1445.6L928.9,1447.0L929.3,1448.4L929.7,1449.9L930.2,1451.3L930.6,1452.7L931.0,1454.2L931.4,1455.6L931.8,1457.0L932.3,1458.5L932.7,1459.9L933.1,1461.4L933.4,1462.8L933.8,1464.2L934.2,1465.7L934.6,1467.1L935.0,1468.6L935.3,1470.1L935.7,1471.5L936.1,1473.0L936.4,1474.4L936.8,1475.9L937.2,1477.3L937.5,1478.8L937.9,1480.3L938.2,1481.7L938.6,1483.2L938.9,1484.6L939.2,1486.1L939.6,1487.6L939.9,1489.0L940.3,1490.5L940.6,1492.0L940.9,1493.4L941.3,1494.9L941.6,1496.4L941.9,1497.8L942.3,1499.3L942.6,1500.8L943.0,1502.2L943.3,1503.7L943.6,1505.2L944.0,1506.6L944.3,1508.1L944.6,1509.6L945.0,1511.0L945.3,1512.5L945.7,1514.0L946.0,1515.4L946.3,1516.9L946.7,1518.4L947.0,1519.8L947.4,1521.3L947.7,1522.7L948.1,1524.2L948.4,1525.7L948.8,1527.1L949.1,1528.6L949.5,1530.1L949.8,1531.5L950.2,1533.0L950.5,1534.4L950.9,1535.9L951.3,1537.4L951.6,1538.8L952.0,1540.3L952.3,1541.7L952.7,1543.2L953.1,1544.7L953.4,1546.1L953.8,1547.6L954.2,1549.0L954.6,1550.5L954.9,1551.9L955.3,1553.4L955.7,1554.8L956.1,1556.3L956.5,1557.7L956.8,1559.2L957.2,1560.6L957.6,1562.1L958.0,1563.5L958.4,1565.0L958.8,1566.4L959.2,1567.9L959.6,1569.3L960.0,1570.8L960.4,1572.2L960.8,1573.7L961.2,1575.1L961.6,1576.6L962.0,1578.0L962.4,1579.4L962.9,1580.9L963.3,1582.3L963.7,1583.7L964.1,1585.2L964.6,1586.6L965.0,1588.1L965.4,1589.5L965.9,1590.9L966.3,1592.4L966.8,1593.8L967.2,1595.2L967.7,1596.6L968.1,1598.1L968.6,1599.5L969.0,1600.9L969.5,1602.3L969.9,1603.8L970.4,1605.2L970.9,1606.6L971.4,1608.0L971.8,1609.5L972.3,1610.9L972.8,1612.3L973.3,1613.7L973.8,1615.1L974.3,1616.5L974.8,1617.9L975.3,1619.3L975.8,1620.8L976.3,1622.2L976.8,1623.6L977.3,1625.0L977.8,1626.4L978.4,1627.8L978.9,1629.2L979.4,1630.6L980.0,1632.0L980.5,1633.4L981.0,1634.8L981.6,1636.2L982.1,1637.6L982.7,1639.0L983.2,1640.3L983.8,1641.7L984.4,1643.1L985.0,1644.5L985.5,1645.9L986.1,1647.3L986.7,1648.6L987.3,1650.0L987.9,1651.4L988.5,1652.8L989.1,1654.1L989.7,1655.5L990.3,1656.9L990.9,1658.2L991.5,1659.6L992.2,1661.0L992.8,1662.3L993.4,1663.7L994.1,1665.0L994.7,1666.4L995.4,1667.7L996.0,1669.1L996.7,1670.4L997.4,1671.8L998.1,1673.1L998.7,1674.4L999.4,1675.8L1000.1,1677.1L1000.8,1678.4L1001.5,1679.7L1002.2,1681.1L1002.9,1682.4L1003.7,1683.7L1004.4,1685.0L1005.1,1686.3L1005.9,1687.6L1006.6,1688.9L1007.4,1690.2L1008.1,1691.5L1008.9,1692.8L1009.7,1694.1L1010.4,1695.3L1011.2,1696.6L1012.0,1697.9L1012.8,1699.2L1013.6,1700.4L1014.4,1701.7L1015.2,1702.9L1016.0,1704.2L1016.9,1705.4L1017.7,1706.7L1018.6,1707.9L1019.4,1709.2L1020.3,1710.4L1021.1,1711.6L1022.0,1712.8L1022.9,1714.1L1023.8,1715.3L1024.7,1716.5L1025.6,1717.7L1026.5,1718.9L1027.4,1720.1L1028.3,1721.3L1029.2,1722.5L1030.2,1723.6L1031.1,1724.8L1032.0,1726.0L1033.0,1727.1L1034.0,1728.3L1034.9,1729.5L1035.9,1730.6L1036.9,1731.8L1037.8,1732.9L1038.8,1734.0L1039.8,1735.2L1040.8,1736.3L1041.8,1737.4L1042.8,1738.5L1043.9,1739.6L1044.9,1740.7L1045.9,1741.8L1046.9,1742.9L1048.0,1744.0L1049.0,1745.1L1050.1,1746.2L1051.1,1747.3L1052.2,1748.3L1053.2,1749.4L1054.3,1750.4L1055.4,1751.5L1056.4,1752.5L1057.5,1753.6L1058.6,1754.6L1059.7,1755.6L1060.8,1756.6L1061.9,1757.7L1063.0,1758.7L1064.1,1759.7L1065.2,1760.6L1066.3,1761.6L1067.4,1762.6L1068.6,1763.5L1069.7,1764.5L1070.9,1765.4L1072.1,1766.3L1073.2,1767.2L1074.4,1768.1L1075.7,1768.9L1076.9,1769.8L1078.1,1770.6L1079.4,1771.4L1080.6,1772.2L1081.9,1772.9L1083.2,1773.7L1084.6,1774.4L1085.9,1775.1L1087.2,1775.8L1088.6,1776.4L1089.9,1777.1L1091.3,1777.7L1092.7,1778.4L1094.0,1779.0L1095.4,1779.6L1096.8,1780.1L1098.2,1780.7L1099.6,1781.3L1101.0,1781.8L1102.4,1782.4L1103.8,1782.9L1105.2,1783.4L1106.6,1784.0L1108.0,1784.5L1109.5,1785.0L1110.9,1785.4L1112.3,1785.9L1113.7,1786.4L1115.2,1786.9L1116.6,1787.3L1118.0,1787.8L1119.5,1788.2L1120.9,1788.6L1122.3,1789.0L1123.8,1789.5L1125.2,1789.9L1126.7,1790.3L1128.1,1790.7L1129.6,1791.0L1131.0,1791.4L1132.5,1791.8L1133.9,1792.1L1135.4,1792.5L1136.8,1792.9L1138.3,1793.2L1139.8,1793.5L1141.2,1793.9L1142.7,1794.2L1144.2,1794.5L1145.6,1794.9L1147.1,1795.2L1148.6,1795.5L1150.0,1795.9L1151.5,1796.2L1153.0,1796.5L1154.4,1796.9L1155.9,1797.2L1157.4,1797.6L1158.8,1797.9L1160.3,1798.3L1161.7,1798.6L1163.2,1799.0L1164.6,1799.4L1166.0,1799.8L1167.5,1800.2L1168.9,1800.7L1170.3,1801.1L1171.8,1801.6L1173.2,1802.0L1174.6,1802.5L1176.0,1803.0L1177.4,1803.6L1178.8,1804.1L1180.1,1804.7L1181.5,1805.3L1182.9,1805.8L1184.3,1806.5L1185.6,1807.1L1187.0,1807.7L1188.3,1808.3L1189.7,1809.0L1191.0,1809.6L1192.4,1810.3L1193.7,1810.9L1195.1,1811.6L1196.4,1812.2L1197.8,1812.9L1199.1,1813.5L1200.5,1814.2L1201.8,1814.9L1203.2,1815.5L1204.5,1816.1L1205.9,1816.8L1207.3,1817.4L1208.6,1818.0L1210.0,1818.6L1211.4,1819.2L1212.7,1819.8L1214.1,1820.3L1215.5,1820.9L1216.9,1821.4L1218.3,1821.9L1219.7,1822.4L1221.1,1822.9L1222.6,1823.4L1224.0,1823.9L1225.4,1824.3L1226.8,1824.7L1228.3,1825.2L1229.7,1825.6L1231.2,1826.0L1232.6,1826.4L1234.1,1826.7L1235.5,1827.1L1237.0,1827.5L1238.5,1827.8L1239.9,1828.2L1241.4,1828.6L1242.8,1828.9L1244.3,1829.3L1245.8,1829.6L1247.2,1830.0L1248.7,1830.3L1250.1,1830.7L1251.6,1831.1L1253.1,1831.5L1254.5,1831.9L1255.9,1832.3L1257.4,1832.7L1258.8,1833.1L1260.2,1833.6L1261.7,1834.0L1263.1,1834.5L1264.5,1835.0L1265.9,1835.5L1267.3,1836.0L1268.7,1836.5L1270.1,1837.0L1271.5,1837.6L1272.8,1838.2L1274.2,1838.8L1275.6,1839.4L1276.9,1840.0L1278.3,1840.6L1279.6,1841.3L1281.0,1841.9L1282.3,1842.6L1283.7,1843.3L1285.0,1843.9L1286.3,1844.6L1287.7,1845.3L1289.0,1846.0L1290.4,1846.6L1291.7,1847.3L1293.0,1848.0L1294.4,1848.6L1295.7,1849.3L1297.1,1849.9L1298.5,1850.6L1299.8,1851.2L1301.2,1851.8L1302.6,1852.4L1303.9,1853.1L1305.3,1853.7L1306.7,1854.3L1308.1,1854.8L1309.5,1855.4L1310.9,1856.0L1312.3,1856.5L1313.7,1857.1L1315.1,1857.6L1316.5,1858.1L1317.9,1858.6L1319.3,1859.1L1320.7,1859.6L1322.1,1860.1L1323.6,1860.5L1325.0,1861.0L1326.4,1861.4L1327.9,1861.8L1329.3,1862.2L1330.7,1862.6L1332.2,1863.0L1333.6,1863.3L1335.1,1863.7L1336.6,1864.0L1338.0,1864.3L1339.5,1864.6L1340.9,1864.9L1342.4,1865.2L1343.9,1865.4L1345.4,1865.7L1346.8,1865.9L1348.3,1866.1L1349.8,1866.4L1351.3,1866.6L1352.8,1866.8L1354.3,1867.0L1355.8,1867.1L1357.3,1867.3L1358.7,1867.5L1360.2,1867.6L1361.7,1867.8L1363.2,1867.9L1364.7,1868.1L1366.2,1868.2L1367.7,1868.4L1369.2,1868.5L1370.7,1868.6L1372.2,1868.7L1373.7,1868.9L1375.2,1869.0L1376.7,1869.1L1378.2,1869.2L1379.7,1869.3L1381.2,1869.4L1382.7,1869.5L1384.2,1869.6L1385.7,1869.7L1387.2,1869.8L1388.7,1869.9L1390.2,1869.9L1391.7,1870.0L1393.2,1870.1L1394.7,1870.2L1396.2,1870.3L1397.7,1870.3L1399.2,1870.4L1400.7,1870.5L1402.2,1870.5L1403.7,1870.6L1405.2,1870.6L1406.7,1870.7L1408.2,1870.8L1409.7,1870.8L1411.2,1870.9L1412.7,1870.9L1414.2,1871.0L1415.7,1871.0L1417.1,1871.0L1418.6,1871.1L1420.1,1871.1L1421.6,1871.2L1423.1,1871.2L1424.6,1871.2L1426.1,1871.3L1427.6,1871.3L1429.1,1871.3L1430.6,1871.3L1432.1,1871.4L1433.6,1871.4L1435.1,1871.4L1436.6,1871.4L1438.1,1871.4L1439.6,1871.5L1441.1,1871.5L1442.6,1871.5L1444.1,1871.5L1445.6,1871.5L1447.1,1871.5L1448.6,1871.5L1450.1,1871.6L1451.6,1871.6L1453.1,1871.6L1454.6,1871.6L1456.1,1871.6L1457.6,1871.6L1459.1,1871.6L1460.6,1871.6L1462.1,1871.6L1463.6,1871.6L1465.1,1871.6L1466.6,1871.6L1468.1,1871.6L1469.6,1871.6L1471.1,1871.7L1472.6,1871.7L1474.1,1871.7L1475.6,1871.7L1477.1,1871.7L1478.6,1871.7L1480.1,1871.7L1481.6,1871.7L1483.1,1871.7L1484.6,1871.7L1486.1,1871.7L1487.6,1871.7L1489.1,1871.7L1490.6,1871.7L1492.1,1871.7L1493.6,1871.7L1495.1,1871.7L1496.6,1871.8L1498.1,1871.8L1499.6,1871.8L1501.1,1871.8L1502.6,1871.8L1504.1,1871.8L1505.6,1871.8L1507.1,1871.8L1508.6,1871.9L1510.1,1871.9L1511.6,1871.9L1513.1,1871.9L1514.6,1871.9L1516.1,1872.0L1517.6,1872.0L1519.1,1872.0L1520.6,1872.0L1522.1,1872.1L1523.6,1872.1" fill="none" stroke="#0000ff" stroke-width="3.3" stroke-linejoin="round"/>
<path d="M903.4,1394.7L903.5,1396.2L903.6,1397.7L903.6,1399.2L903.7,1400.7L903.7,1402.1L903.8,1403.6L903.9,1405.1L903.9,1406.6L904.0,1408.1L904.0,1409.6L904.1,1411.1L904.2,1412.5L904.2,1414.0L904.3,1415.5L904.3,1417.0L904.4,1418.5L904.5,1420.0L904.5,1421.5L904.6,1422.9L904.6,1424.4L904.7,1425.9L904.7,1427.4L904.8,1428.9L904.9,1430.4L904.9,1431.9L905.0,1433.4L905.0,1434.9L905.1,1436.3L905.2,1437.8L905.2,1439.3L905.3,1440.8L905.3,1442.3L905.4,1443.8L905.5,1445.3L905.5,1446.8L905.6,1448.3L905.6,1449.8L905.7,1451.3L905.8,1452.8L905.8,1454.2L905.9,1455.7L906.0,1457.2L906.0,1458.7L906.1,1460.2L906.2,1461.7L906.2,1463.2L906.3,1464.7L906.3,1466.2L906.4,1467.7L906.5,1469.2L906.5,1470.7L906.6,1472.2L906.7,1473.7L906.7,1475.2L906.8,1476.7L906.9,1478.2L907.0,1479.7L907.0,1481.2L907.1,1482.7L907.2,1484.2L907.2,1485.7L907.3,1487.2L907.4,1488.7L907.5,1490.1L907.5,1491.6L907.6,1493.1L907.7,1494.6L907.8,1496.1L907.8,1497.6L907.9,1499.1L908.0,1500.6L908.1,1502.1L908.1,1503.6L908.2,1505.1L908.3,1506.6L908.4,1508.1L908.5,1509.6L908.6,1511.1L908.6,1512.6L908.7,1514.1L908.8,1515.6L908.9,1517.1L909.0,1518.6L909.1,1520.1L909.2,1521.6L909.2,1523.1L909.3,1524.6L909.4,1526.1L909.5,1527.6L909.6,1529.1L909.7,1530.6L909.8,1532.1L909.9,1533.6L910.0,1535.1L910.1,1536.6L910.2,1538.1L910.3,1539.6L910.4,1541.1L910.5,1542.6L910.6,1544.1L910.7,1545.6L910.8,1547.1L910.9,1548.6L911.0,1550.1L911.2,1551.6L911.3,1553.1L911.4,1554.6L911.5,1556.1L911.6,1557.6L911.7,1559.1L911.8,1560.6L912.0,1562.1L912.1,1563.6L912.2,1565.1L912.3,1566.6L912.4,1568.1L912.6,1569.6L912.7,1571.1L912.8,1572.6L913.0,1574.1L913.1,1575.6L913.2,1577.1L913.3,1578.6L913.5,1580.1L913.6,1581.6L913.8,1583.0L913.9,1584.5L914.0,1586.0L914.2,1587.5L914.3,1589.0L914.5,1590.5L914.6,1592.0L914.8,1593.5L914.9,1595.0L915.1,1596.5L915.2,1598.0L915.4,1599.5L915.5,1601.0L915.7,1602.5L915.8,1604.0L916.0,1605.5L916.2,1607.0L916.3,1608.5L916.5,1609.9L916.7,1611.4L916.8,1612.9L917.0,1614.4L917.2,1615.9L917.4,1617.4L917.5,1618.9L917.7,1620.4L917.9,1621.9L918.1,1623.4L918.3,1624.9L918.4,1626.3L918.6,1627.8L918.8,1629.3L919.0,1630.8L919.2,1632.3L919.4,1633.8L919.6,1635.3L919.8,1636.8L920.0,1638.2L920.2,1639.7L920.4,1641.2L920.6,1642.7L920.8,1644.2L921.0,1645.7L921.2,1647.2L921.5,1648.6L921.7,1650.1L921.9,1651.6L922.1,1653.1L922.3,1654.6L922.6,1656.1L922.8,1657.5L923.0,1659.0L923.3,1660.5L923.5,1662.0L923.7,1663.5L924.0,1664.9L924.2,1666.4L924.5,1667.9L924.7,1669.4L924.9,1670.9L925.2,1672.3L925.4,1673.8L925.7,1675.3L926.0,1676.8L926.2,1678.2L926.5,1679.7L926.7,1681.2L927.0,1682.7L927.3,1684.1L927.5,1685.6L927.8,1687.1L928.1,1688.5L928.4,1690.0L928.7,1691.5L928.9,1693.0L929.2,1694.4L929.5,1695.9L929.8,1697.4L930.1,1698.8L930.4,1700.3L930.7,1701.8L931.0,1703.2L931.3,1704.7L931.6,1706.2L931.9,1707.6L932.2,1709.1L932.5,1710.6L932.9,1712.0L933.2,1713.5L933.5,1715.0L933.8,1716.4L934.1,1717.9L934.5,1719.3L934.8,1720.8L935.1,1722.3L935.5,1723.7L935.8,1725.2L936.2,1726.6L936.5,1728.1L936.9,1729.5L937.2,1731.0L937.6,1732.5L937.9,1733.9L938.3,1735.4L938.6,1736.8L939.0,1738.3L939.4,1739.7L939.8,1741.2L940.1,1742.6L940.5,1744.1L940.9,1745.5L941.3,1747.0L941.7,1748.4L942.0,1749.9L942.4,1751.3L942.8,1752.8L943.2,1754.2L943.6,1755.6L944.0,1757.1L944.4,1758.5L944.9,1760.0L945.3,1761.4L945.7,1762.9L946.1,1764.3L946.6,1765.7L947.0,1767.2L947.4,1768.6L947.9,1770.0L948.4,1771.4L948.8,1772.9L949.3,1774.3L949.8,1775.7L950.3,1777.1L950.8,1778.5L951.3,1779.9L951.8,1781.3L952.3,1782.7L952.9,1784.1L953.4,1785.5L954.0,1786.9L954.6,1788.3L955.2,1789.6L955.8,1791.0L956.4,1792.4L957.0,1793.7L957.6,1795.1L958.3,1796.4L959.0,1797.7L959.7,1799.1L960.4,1800.4L961.1,1801.7L961.8,1803.0L962.6,1804.3L963.3,1805.6L964.1,1806.9L964.9,1808.2L965.7,1809.4L966.6,1810.7L967.4,1812.0L968.3,1813.2L969.1,1814.4L970.0,1815.7L970.9,1816.9L971.8,1818.1L972.8,1819.3L973.7,1820.5L974.6,1821.7L975.6,1822.9L976.6,1824.0L977.5,1825.2L978.5,1826.3L979.5,1827.5L980.5,1828.6L981.5,1829.7L982.6,1830.8L983.6,1831.9L984.6,1833.0L985.7,1834.1L986.7,1835.1L987.8,1836.2L988.9,1837.3L989.9,1838.3L991.0,1839.3L992.1,1840.3L993.2,1841.4L994.3,1842.4L995.4,1843.4L996.5,1844.3L997.7,1845.3L998.8,1846.3L999.9,1847.3L1001.1,1848.2L1002.2,1849.2L1003.4,1850.1L1004.5,1851.0L1005.7,1851.9L1006.9,1852.9L1008.0,1853.8L1009.2,1854.7L1010.4,1855.6L1011.6,1856.4L1012.8,1857.3L1014.0,1858.2L1015.2,1859.1L1016.5,1859.9L1017.7,1860.8L1018.9,1861.6L1020.1,1862.5L1021.4,1863.3L1022.6,1864.1L1023.9,1864.9L1025.1,1865.8L1026.3,1866.6L1027.6,1867.4L1028.9,1868.2L1030.1,1869.0L1031.4,1869.9L1032.6,1870.7L1033.9,1871.5L1035.1,1872.3L1036.4,1873.2L1037.6,1874.0L1038.9,1874.9L1040.1,1875.8L1041.4,1876.7L1042.6,1877.5L1043.8,1878.4L1045.1,1879.3L1046.3,1880.2L1047.5,1881.1L1048.8,1882.0L1050.0,1882.9L1051.3,1883.8L1052.5,1884.7L1053.8,1885.5L1055.0,1886.4L1056.3,1887.2L1057.6,1888.0L1058.8,1888.8L1060.1,1889.5L1061.4,1890.3L1062.7,1891.0L1064.0,1891.7L1065.4,1892.3L1066.7,1893.0L1068.0,1893.6L1069.4,1894.2L1070.7,1894.7L1072.1,1895.3L1073.5,1895.8L1074.8,1896.3L1076.2,1896.8L1077.6,1897.3L1079.0,1897.7L1080.4,1898.2L1081.8,1898.6L1083.2,1899.0L1084.7,1899.3L1086.1,1899.7L1087.5,1900.1L1089.0,1900.4L1090.4,1900.7L1091.8,1901.0L1093.3,1901.3L1094.8,1901.5L1096.2,1901.8L1097.7,1902.0L1099.2,1902.3L1100.6,1902.5L1102.1,1902.7L1103.6,1902.9L1105.1,1903.0L1106.6,1903.2L1108.1,1903.4L1109.5,1903.5L1111.0,1903.6L1112.5,1903.8L1114.0,1903.9L1115.5,1904.0L1117.0,1904.1L1118.6,1904.2L1120.1,1904.3L1121.6,1904.4L1123.1,1904.4L1124.6,1904.5L1126.1,1904.6L1127.6,1904.6L1129.1,1904.7L1130.6,1904.7L1132.2,1904.8L1133.7,1904.8L1135.2,1904.9L1136.7,1904.9L1138.2,1905.0L1139.7,1905.0L1141.2,1905.0L1142.7,1905.1L1144.2,1905.1L1145.8,1905.1L1147.3,1905.2L1148.8,1905.2L1150.3,1905.2L1151.8,1905.2L1153.3,1905.3L1154.8,1905.3L1156.3,1905.3L1157.8,1905.3L1159.3,1905.3L1160.8,1905.4L1162.3,1905.4L1163.8,1905.4L1165.3,1905.4L1166.8,1905.4L1168.3,1905.4L1169.8,1905.4L1171.3,1905.4L1172.8,1905.4L1174.3,1905.4L1175.8,1905.5L1177.3,1905.5L1178.8,1905.5L1180.3,1905.5L1181.8,1905.5L1183.3,1905.5L1184.8,1905.5L1186.3,1905.5L1187.8,1905.5L1189.3,1905.5L1190.8,1905.5L1192.3,1905.5L1193.8,1905.5L1195.3,1905.5L1196.8,1905.5L1198.3,1905.5L1199.8,1905.4L1201.3,1905.4L1202.8,1905.4L1204.3,1905.4L1205.8,1905.4L1207.3,1905.4L1208.8,1905.4L1210.2,1905.4L1211.7,1905.4L1213.2,1905.4L1214.7,1905.4L1216.2,1905.4L1217.7,1905.4L1219.2,1905.4L1220.7,1905.4L1222.2,1905.4L1223.7,1905.4L1225.2,1905.4L1226.7,1905.4L1228.2,1905.4L1229.7,1905.4L1231.2,1905.4L1232.7,1905.4L1234.2,1905.4L1235.7,1905.4L1237.2,1905.4L1238.7,1905.4L1240.2,1905.3L1241.7,1905.3L1243.2,1905.3L1244.7,1905.3L1246.2,1905.3L1247.7,1905.3L1249.2,1905.3L1250.7,1905.3L1252.2,1905.3L1253.7,1905.3L1255.2,1905.3L1256.7,1905.3L1258.2,1905.3L1259.7,1905.3L1261.2,1905.3L1262.7,1905.3L1264.2,1905.3L1265.7,1905.3L1267.2,1905.3L1268.7,1905.3L1270.2,1905.3L1271.7,1905.3L1273.2,1905.3L1274.6,1905.3L1276.1,1905.3L1277.6,1905.3L1279.1,1905.3L1280.6,1905.3L1282.1,1905.3L1283.6,1905.3L1285.1,1905.3L1286.6,1905.3L1288.1,1905.3L1289.6,1905.3L1291.1,1905.3L1292.6,1905.3L1294.1,1905.3L1295.6,1905.3L1297.1,1905.3L1298.6,1905.3L1300.1,1905.3L1301.6,1905.3L1303.1,1905.3L1304.6,1905.3L1306.1,1905.3L1307.6,1905.3L1309.1,1905.3L1310.6,1905.3L1312.1,1905.3L1313.6,1905.3L1315.1,1905.3L1316.6,1905.3L1318.1,1905.3L1319.6,1905.3L1321.1,1905.3L1322.6,1905.3L1324.1,1905.3L1325.6,1905.3L1327.1,1905.3L1328.6,1905.3L1330.1,1905.3L1331.6,1905.3L1333.1,1905.3L1334.6,1905.3L1336.1,1905.3L1337.6,1905.3L1339.1,1905.3L1340.6,1905.3L1342.1,1905.3L1343.6,1905.3L1345.1,1905.3L1346.6,1905.3L1348.1,1905.3L1349.6,1905.3L1351.1,1905.3L1352.6,1905.3L1354.1,1905.3L1355.6,1905.3L1357.1,1905.3L1358.6,1905.3L1360.1,1905.3L1361.6,1905.3L1363.1,1905.3L1364.6,1905.3L1366.1,1905.3L1367.6,1905.3L1369.1,1905.3L1370.6,1905.3L1372.1,1905.3L1373.6,1905.3L1375.1,1905.3L1376.6,1905.3L1378.1,1905.4L1379.6,1905.4L1381.1,1905.4L1382.6,1905.4L1384.2,1905.4L1385.7,1905.4L1387.2,1905.4L1388.7,1905.4L1390.2,1905.4L1391.7,1905.4L1393.2,1905.4L1394.7,1905.4L1396.2,1905.4L1397.7,1905.4L1399.2,1905.4L1400.7,1905.4L1402.2,1905.4L1403.7,1905.4L1405.2,1905.4L1406.7,1905.4L1408.2,1905.4L1409.7,1905.4L1411.2,1905.4L1412.7,1905.4L1414.2,1905.4L1415.7,1905.4L1417.2,1905.4L1418.7,1905.4L1420.2,1905.4L1421.7,1905.4L1423.2,1905.4L1424.7,1905.4L1426.2,1905.4L1427.7,1905.4L1429.2,1905.4L1430.7,1905.4L1432.2,1905.4L1433.7,1905.4L1435.2,1905.4L1436.7,1905.4L1438.2,1905.4L1439.7,1905.4L1441.2,1905.4L1442.7,1905.4L1444.2,1905.4L1445.7,1905.4L1447.2,1905.4L1448.6,1905.4L1450.1,1905.4L1451.6,1905.4L1453.1,1905.4L1454.6,1905.4L1456.1,1905.4L1457.6,1905.4L1459.1,1905.4L1460.6,1905.4L1462.1,1905.4L1463.6,1905.4L1465.1,1905.4L1466.6,1905.4L1468.1,1905.4L1469.6,1905.4L1471.1,1905.4L1472.6,1905.4L1474.1,1905.4L1475.6,1905.4L1477.1,1905.4L1478.6,1905.4L1480.1,1905.4L1481.6,1905.4L1483.1,1905.4L1484.6,1905.4L1486.1,1905.4L1487.6,1905.4L1489.1,1905.4L1490.6,1905.4L1492.1,1905.4L1493.6,1905.3L1495.1,1905.3L1496.6,1905.3L1498.1,1905.3L1499.6,1905.3L1501.1,1905.3L1502.6,1905.3L1504.1,1905.3L1505.6,1905.3L1507.1,1905.3L1508.6,1905.3L1510.1,1905.3L1511.6,1905.3L1513.1,1905.3L1514.6,1905.3L1516.1,1905.3L1517.6,1905.3L1519.1,1905.3L1520.6,1905.3L1522.1,1905.3L1523.6,1905.3" fill="none" stroke="#ff0000" stroke-width="3.3" stroke-linejoin="round"/>
<text x="902.0" y="1985.1" font-family="'Liberation Sans', Arial, Helvetica, sans-serif" font-size="26" font-weight="bold" text-anchor="middle" fill="#262626" >0</text>
<text x="1056.7" y="1985.1" font-family="'Liberation Sans', Arial, Helvetica, sans-serif" font-size="26" font-weight="bold" text-anchor="middle" fill="#262626" >10</text>
<text x="1211.4" y="1985.1" font-family="'Liberation Sans', Arial, Helvetica, sans-serif" font-size="26" font-weight="bold" text-anchor="middle" fill="#262626" >20</text>
<text x="1366.1" y="1985.1" font-family="'Liberation Sans', Arial, Helvetica, sans-serif" font-size="26" font-weight="bold" text-anchor="middle" fill="#262626" >30</text>
<text x="1520.8" y="1985.1" font-family="'Liberation Sans', Arial, Helvetica, sans-serif" font-size="26" font-weight="bold" text-anchor="middle" fill="#262626" >40</text>
<text x="893.0" y="1959.7" font-family="'Liberation Sans', Arial, Helvetica, sans-serif" font-size="26" font-weight="bold" text-anchor="end" fill="#262626" >5</text>
<text x="893.0" y="1817.2" font-family="'Liberation Sans', Arial, Helvetica, sans-serif" font-size="26" font-weight="bold" text-anchor="end" fill="#262626" >10</text>
<text x="893.0" y="1674.7" font-family="'Liberation Sans', Arial, Helvetica, sans-serif" font-size="26" font-weight="bold" text-anchor="end" fill="#262626" >15</text>
<text x="893.0" y="1532.2" font-family="'Liberation Sans', Arial, Helvetica, sans-serif" font-size="26" font-weight="bold" text-anchor="end" fill="#262626" >20</text>
<text x="893.0" y="1389.7" font-family="'Liberation Sans', Arial, Helvetica, sans-serif" font-size="26" font-weight="bold" text-anchor="end" fill="#262626" >25</text>
<rect x="1048.5" y="1390.6" width="331.79999999999995" height="61.5" fill="#fff" stroke="#595959" stroke-width="1.2"/>
<path d="M1052.5,1407.0h39.2" stroke="#0000ff" stroke-width="3.3"/>
<path d="M1052.5,1436.6999999999998h39.2" stroke="#ff0000" stroke-width="3.3"/>
<text x="1095.8" y="1414.8" font-family="'Liberation Sans', Arial, Helvetica, sans-serif" font-size="24" font-weight="bold" text-anchor="start" fill="#000" textLength="257.2" lengthAdjust="spacingAndGlyphs">w/o bounce resonance</text>
<text x="1095.8" y="1444.8999999999999" font-family="'Liberation Sans', Arial, Helvetica, sans-serif" font-size="24" font-weight="bold" text-anchor="start" fill="#000" textLength="241.8" lengthAdjust="spacingAndGlyphs">w/ bounce resonance</text>
<text x="1027.1" y="1367.1" font-family="'Liberation Sans', Arial, Helvetica, sans-serif" font-size="25.5" font-weight="bold" text-anchor="start" fill="#000" textLength="161.5" lengthAdjust="spacingAndGlyphs">phasing-ck,</text>
<text x="1208.8" y="1367.1" fill="#000" font-family="'Liberation Serif', 'DejaVu Serif', serif" font-style="italic" font-size="27">ρ</text>
<text x="1223.8" y="1367.1" font-family="'Liberation Sans', Arial, Helvetica, sans-serif" font-size="25.5" font-weight="bold" text-anchor="start" fill="#000" textLength="153.6" lengthAdjust="spacingAndGlyphs">=0.3,Pr=0.3</text>
<text x="1214.55" y="2021.1" font-family="'Liberation Sans', Arial, Helvetica, sans-serif" font-size="28" font-weight="bold" text-anchor="middle" fill="#262626" >t(s)</text>
<text transform="translate(838.7,1744) rotate(-90)" font-family="'Liberation Serif', 'DejaVu Serif', serif" font-style="italic" font-size="27" fill="#262626">ω</text>
<text transform="translate(852,1724.5) rotate(-90)" font-family="'Liberation Serif', 'DejaVu Serif', serif" font-style="italic" font-size="22" fill="#262626">ϕ</text>
<text transform="translate(838.7,1708) rotate(-90)" font-family="'Liberation Sans', Arial, Helvetica, sans-serif" font-weight="bold" font-size="28.5" fill="#262626" textLength="103" lengthAdjust="spacingAndGlyphs">(krad/s)</text>
<text x="-1" y="78.2" font-family="'Liberation Serif', 'Times New Roman', serif" font-size="48" fill="#000">(<tspan font-weight="bold">a</tspan>)</text>
<text x="797.5" y="78.4" font-family="'Liberation Serif', 'Times New Roman', serif" font-size="48" fill="#000">(<tspan font-weight="bold">b</tspan>)</text>
<text x="-1" y="742.7" font-family="'Liberation Serif', 'Times New Roman', serif" font-size="48" fill="#000">(<tspan font-weight="bold">c</tspan>)</text>
<text x="797.5" y="743.4" font-family="'Liberation Serif', 'Times New Roman', serif" font-size="48" fill="#000">(<tspan font-weight="bold">d</tspan>)</text>
<text x="-1" y="1447.2" font-family="'Liberation Serif', 'Times New Roman', serif" font-size="48" fill="#000">(<tspan font-weight="bold">e</tspan>)</text>
<text x="799" y="1447.5" font-family="'Liberation Serif', 'Times New Roman', serif" font-size="48" fill="#000">(<tspan font-weight="bold">f</tspan>)</text>
<text x="237.4" y="37.2" font-family="'Liberation Sans', Arial, Helvetica, sans-serif" font-size="26.5" font-weight="bold" text-anchor="start" fill="#000" textLength="251" lengthAdjust="spacingAndGlyphs">phasing-ep, Pr=0.3</text>
<text x="237.4" y="701.7" font-family="'Liberation Sans', Arial, Helvetica, sans-serif" font-size="26.5" font-weight="bold" text-anchor="start" fill="#000" textLength="251" lengthAdjust="spacingAndGlyphs">phasing-ep, Pr=0.3</text>
<text x="1038" y="43.6" font-family="'DejaVu Sans', 'Liberation Sans', sans-serif" font-size="27" font-weight="bold" text-anchor="start" fill="#000" textLength="277" lengthAdjust="spacingAndGlyphs">phasing-ck, Pr=0.3</text>
<text x="1038" y="703.3" font-family="'DejaVu Sans', 'Liberation Sans', sans-serif" font-size="27" font-weight="bold" text-anchor="start" fill="#000" textLength="277" lengthAdjust="spacingAndGlyphs">phasing-ck, Pr=0.3</text>
<text x="379.3" y="657" font-family="'Liberation Serif', 'DejaVu Serif', serif" font-style="italic" font-size="27" text-anchor="middle" fill="#262626">ρ</text>
<text x="1177.3" y="657" font-family="'Liberation Serif', 'DejaVu Serif', serif" font-style="italic" font-size="27" text-anchor="middle" fill="#262626">ρ</text>
<text x="379.3" y="1321.5" font-family="'Liberation Serif', 'DejaVu Serif', serif" font-style="italic" font-size="27" text-anchor="middle" fill="#262626">ρ</text>
<text x="1177.3" y="1322" font-family="'Liberation Serif', 'DejaVu Serif', serif" font-style="italic" font-size="27" text-anchor="middle" fill="#262626">ρ</text>
<text transform="translate(29.3,386.5) rotate(-90)" font-family="'Liberation Serif', 'DejaVu Serif', serif" font-style="italic" font-size="26" fill="#262626">ω</text>
<text transform="translate(43,367.5) rotate(-90)" font-family="'Liberation Serif', 'DejaVu Serif', serif" font-style="italic" font-size="21" fill="#262626">ϕ</text>
<text transform="translate(29.3,352.3) rotate(-90)" font-family="'Liberation Sans', Arial, Helvetica, sans-serif" font-weight="normal" font-size="27" fill="#262626" textLength="92.3" lengthAdjust="spacingAndGlyphs">(krad/s)</text>
<text transform="translate(29.3,1051) rotate(-90)" font-family="'Liberation Serif', 'DejaVu Serif', serif" font-style="italic" font-size="26" fill="#262626">ω</text>
<text transform="translate(43,1032) rotate(-90)" font-family="'Liberation Serif', 'DejaVu Serif', serif" font-style="italic" font-size="21" fill="#262626">ϕ</text>
<text transform="translate(29.3,1016.8) rotate(-90)" font-family="'Liberation Sans', Arial, Helvetica, sans-serif" font-weight="normal" font-size="27" fill="#262626" textLength="92.3" lengthAdjust="spacingAndGlyphs">(krad/s)</text>
<text transform="translate(827.3,390) rotate(-90)" font-family="'Liberation Serif', 'DejaVu Serif', serif" font-style="italic" font-size="26" fill="#262626">ω</text>
<text transform="translate(842,371.2) rotate(-90)" font-family="'Liberation Serif', 'DejaVu Serif', serif" font-style="italic" font-size="21" fill="#262626">ϕ</text>
<text transform="translate(827.3,356) rotate(-90)" font-family="'DejaVu Sans', 'Liberation Sans', sans-serif" font-weight="normal" font-size="27" fill="#262626" textLength="106.5" lengthAdjust="spacingAndGlyphs">(krad/s)</text>
<text transform="translate(827.3,1055) rotate(-90)" font-family="'Liberation Serif', 'DejaVu Serif', serif" font-style="italic" font-size="26" fill="#262626">ω</text>
<text transform="translate(842,1036.2) rotate(-90)" font-family="'Liberation Serif', 'DejaVu Serif', serif" font-style="italic" font-size="21" fill="#262626">ϕ</text>
<text transform="translate(827.3,1021) rotate(-90)" font-family="'DejaVu Sans', 'Liberation Sans', sans-serif" font-weight="normal" font-size="27" fill="#262626" textLength="106.5" lengthAdjust="spacingAndGlyphs">(krad/s)</text>
<path d="M213.2,583.5v-5M213.2,48.5v5M321.9,583.5v-5M321.9,48.5v5M430.7,583.5v-5M430.7,48.5v5M539.5,583.5v-5M539.5,48.5v5M648.2,583.5v-5M648.2,48.5v5M110.0,496.5h5M648.2,496.5h-5M110.0,406.5h5M648.2,406.5h-5M110.0,316.5h5M648.2,316.5h-5M110.0,226.5h5M648.2,226.5h-5M110.0,136.5h5M648.2,136.5h-5" stroke="#555" stroke-width="1.2" fill="none"/>
<rect x="110.0" y="48.5" width="538.2" height="535.0" fill="none" stroke="#6b6b6b" stroke-width="1.3"/>
<text x="213.2" y="618.6" font-family="'Liberation Sans', Arial, Helvetica, sans-serif" font-size="24" font-weight="normal" text-anchor="middle" fill="#262626" >0.2</text>
<text x="321.9" y="618.6" font-family="'Liberation Sans', Arial, Helvetica, sans-serif" font-size="24" font-weight="normal" text-anchor="middle" fill="#262626" >0.4</text>
<text x="430.7" y="618.6" font-family="'Liberation Sans', Arial, Helvetica, sans-serif" font-size="24" font-weight="normal" text-anchor="middle" fill="#262626" >0.6</text>
<text x="539.5" y="618.6" font-family="'Liberation Sans', Arial, Helvetica, sans-serif" font-size="24" font-weight="normal" text-anchor="middle" fill="#262626" >0.8</text>
<text x="648.2" y="618.6" font-family="'Liberation Sans', Arial, Helvetica, sans-serif" font-size="24" font-weight="normal" text-anchor="middle" fill="#262626" >1</text>
<text x="95.0" y="505.1" font-family="'Liberation Sans', Arial, Helvetica, sans-serif" font-size="24" font-weight="normal" text-anchor="end" fill="#262626" >-20</text>
<text x="95.0" y="415.1" font-family="'Liberation Sans', Arial, Helvetica, sans-serif" font-size="24" font-weight="normal" text-anchor="end" fill="#262626" >-10</text>
<text x="95.0" y="325.1" font-family="'Liberation Sans', Arial, Helvetica, sans-serif" font-size="24" font-weight="normal" text-anchor="end" fill="#262626" >0</text>
<text x="95.0" y="235.1" font-family="'Liberation Sans', Arial, Helvetica, sans-serif" font-size="24" font-weight="normal" text-anchor="end" fill="#262626" >10</text>
<text x="95.0" y="145.1" font-family="'Liberation Sans', Arial, Helvetica, sans-serif" font-size="24" font-weight="normal" text-anchor="end" fill="#262626" >20</text>
<rect x="670.5" y="53.5" width="27.0" height="530.0" fill="url(#cbg)" stroke="#262626" stroke-width="1.2"/>
<text x="706.5" y="592.1" font-family="'Liberation Sans', Arial, Helvetica, sans-serif" font-size="24" font-weight="normal" text-anchor="start" fill="#262626" >-0.2</text>
<text x="706.5" y="525.9" font-family="'Liberation Sans', Arial, Helvetica, sans-serif" font-size="24" font-weight="normal" text-anchor="start" fill="#262626" >-0.15</text>
<text x="706.5" y="459.6" font-family="'Liberation Sans', Arial, Helvetica, sans-serif" font-size="24" font-weight="normal" text-anchor="start" fill="#262626" >-0.1</text>
<text x="706.5" y="393.4" font-family="'Liberation Sans', Arial, Helvetica, sans-serif" font-size="24" font-weight="normal" text-anchor="start" fill="#262626" >-0.05</text>
<text x="706.5" y="327.1" font-family="'Liberation Sans', Arial, Helvetica, sans-serif" font-size="24" font-weight="normal" text-anchor="start" fill="#262626" >0</text>
<text x="706.5" y="260.9" font-family="'Liberation Sans', Arial, Helvetica, sans-serif" font-size="24" font-weight="normal" text-anchor="start" fill="#262626" >0.05</text>
<text x="706.5" y="194.6" font-family="'Liberation Sans', Arial, Helvetica, sans-serif" font-size="24" font-weight="normal" text-anchor="start" fill="#262626" >0.1</text>
<text x="706.5" y="128.3" font-family="'Liberation Sans', Arial, Helvetica, sans-serif" font-size="24" font-weight="normal" text-anchor="start" fill="#262626" >0.15</text>
<text x="706.5" y="62.1" font-family="'Liberation Sans', Arial, Helvetica, sans-serif" font-size="24" font-weight="normal" text-anchor="start" fill="#262626" >0.2</text>
<path d="M697.5,583.5h-5M697.5,517.2h-5M697.5,451.0h-5M697.5,384.8h-5M697.5,318.5h-5M697.5,252.2h-5M697.5,186.0h-5M697.5,119.8h-5M697.5,53.5h-5" stroke="#262626" stroke-width="1.2"/>
<path d="M1011.0,583.8v-5M1011.0,53.7v5M1120.1,583.8v-5M1120.1,53.7v5M1229.2,583.8v-5M1229.2,53.7v5M1338.4,583.8v-5M1338.4,53.7v5M1447.5,583.8v-5M1447.5,53.7v5M907.5,497.7h5M1447.5,497.7h-5M907.5,408.5h5M1447.5,408.5h-5M907.5,319.3h5M1447.5,319.3h-5M907.5,230.1h5M1447.5,230.1h-5M907.5,140.9h5M1447.5,140.9h-5" stroke="#555" stroke-width="1.2" fill="none"/>
<rect x="907.5" y="53.7" width="540.0" height="530.0999999999999" fill="none" stroke="#6b6b6b" stroke-width="1.3"/>
<text x="1011.0" y="618.0" font-family="'DejaVu Sans', 'Liberation Sans', sans-serif" font-size="24" font-weight="normal" text-anchor="middle" fill="#262626" >0.2</text>
<text x="1120.1" y="618.0" font-family="'DejaVu Sans', 'Liberation Sans', sans-serif" font-size="24" font-weight="normal" text-anchor="middle" fill="#262626" >0.4</text>
<text x="1229.2" y="618.0" font-family="'DejaVu Sans', 'Liberation Sans', sans-serif" font-size="24" font-weight="normal" text-anchor="middle" fill="#262626" >0.6</text>
<text x="1338.4" y="618.0" font-family="'DejaVu Sans', 'Liberation Sans', sans-serif" font-size="24" font-weight="normal" text-anchor="middle" fill="#262626" >0.8</text>
<text x="1447.5" y="618.0" font-family="'DejaVu Sans', 'Liberation Sans', sans-serif" font-size="24" font-weight="normal" text-anchor="middle" fill="#262626" >1</text>
<text x="897.2" y="506.3" font-family="'DejaVu Sans', 'Liberation Sans', sans-serif" font-size="24" font-weight="normal" text-anchor="end" fill="#262626" >&#8722;20</text>
<text x="897.2" y="417.1" font-family="'DejaVu Sans', 'Liberation Sans', sans-serif" font-size="24" font-weight="normal" text-anchor="end" fill="#262626" >&#8722;10</text>
<text x="897.2" y="327.9" font-family="'DejaVu Sans', 'Liberation Sans', sans-serif" font-size="24" font-weight="normal" text-anchor="end" fill="#262626" >0</text>
<text x="897.2" y="238.7" font-family="'DejaVu Sans', 'Liberation Sans', sans-serif" font-size="24" font-weight="normal" text-anchor="end" fill="#262626" >10</text>
<text x="897.2" y="149.5" font-family="'DejaVu Sans', 'Liberation Sans', sans-serif" font-size="24" font-weight="normal" text-anchor="end" fill="#262626" >20</text>
<rect x="1470.1" y="58.6" width="26.90000000000009" height="524.8" fill="url(#cbg)" stroke="#262626" stroke-width="1.2"/>
<text x="1508.0" y="592.0" font-family="'DejaVu Sans', 'Liberation Sans', sans-serif" font-size="24" font-weight="normal" text-anchor="start" fill="#262626" >&#8722;0.2</text>
<text x="1508.0" y="526.4" font-family="'DejaVu Sans', 'Liberation Sans', sans-serif" font-size="24" font-weight="normal" text-anchor="start" fill="#262626" >&#8722;0.15</text>
<text x="1508.0" y="460.8" font-family="'DejaVu Sans', 'Liberation Sans', sans-serif" font-size="24" font-weight="normal" text-anchor="start" fill="#262626" >&#8722;0.1</text>
<text x="1508.0" y="395.2" font-family="'DejaVu Sans', 'Liberation Sans', sans-serif" font-size="24" font-weight="normal" text-anchor="start" fill="#262626" >&#8722;0.05</text>
<text x="1508.0" y="329.6" font-family="'DejaVu Sans', 'Liberation Sans', sans-serif" font-size="24" font-weight="normal" text-anchor="start" fill="#262626" >0</text>
<text x="1508.0" y="264.0" font-family="'DejaVu Sans', 'Liberation Sans', sans-serif" font-size="24" font-weight="normal" text-anchor="start" fill="#262626" >0.05</text>
<text x="1508.0" y="198.4" font-family="'DejaVu Sans', 'Liberation Sans', sans-serif" font-size="24" font-weight="normal" text-anchor="start" fill="#262626" >0.1</text>
<text x="1508.0" y="132.8" font-family="'DejaVu Sans', 'Liberation Sans', sans-serif" font-size="24" font-weight="normal" text-anchor="start" fill="#262626" >0.15</text>
<text x="1508.0" y="67.2" font-family="'DejaVu Sans', 'Liberation Sans', sans-serif" font-size="24" font-weight="normal" text-anchor="start" fill="#262626" >0.2</text>
<path d="M1497.0,583.4h-5M1497.0,517.8h-5M1497.0,452.2h-5M1497.0,386.6h-5M1497.0,321.0h-5M1497.0,255.4h-5M1497.0,189.8h-5M1497.0,124.2h-5M1497.0,58.6h-5" stroke="#262626" stroke-width="1.2"/>
<path d="M213.2,1248.0v-5M213.2,713.0v5M322.1,1248.0v-5M322.1,713.0v5M430.9,1248.0v-5M430.9,713.0v5M539.8,1248.0v-5M539.8,713.0v5M648.6,1248.0v-5M648.6,713.0v5M110.0,1161.0h5M648.6,1161.0h-5M110.0,1071.0h5M648.6,1071.0h-5M110.0,981.0h5M648.6,981.0h-5M110.0,891.0h5M648.6,891.0h-5M110.0,801.0h5M648.6,801.0h-5" stroke="#555" stroke-width="1.2" fill="none"/>
<rect x="110.0" y="713.0" width="538.6" height="535.0" fill="none" stroke="#6b6b6b" stroke-width="1.3"/>
<text x="213.2" y="1283.1" font-family="'Liberation Sans', Arial, Helvetica, sans-serif" font-size="24" font-weight="normal" text-anchor="middle" fill="#262626" >0.2</text>
<text x="322.1" y="1283.1" font-family="'Liberation Sans', Arial, Helvetica, sans-serif" font-size="24" font-weight="normal" text-anchor="middle" fill="#262626" >0.4</text>
<text x="430.9" y="1283.1" font-family="'Liberation Sans', Arial, Helvetica, sans-serif" font-size="24" font-weight="normal" text-anchor="middle" fill="#262626" >0.6</text>
<text x="539.8" y="1283.1" font-family="'Liberation Sans', Arial, Helvetica, sans-serif" font-size="24" font-weight="normal" text-anchor="middle" fill="#262626" >0.8</text>
<text x="648.6" y="1283.1" font-family="'Liberation Sans', Arial, Helvetica, sans-serif" font-size="24" font-weight="normal" text-anchor="middle" fill="#262626" >1</text>
<text x="95.0" y="1169.6" font-family="'Liberation Sans', Arial, Helvetica, sans-serif" font-size="24" font-weight="normal" text-anchor="end" fill="#262626" >-20</text>
<text x="95.0" y="1079.6" font-family="'Liberation Sans', Arial, Helvetica, sans-serif" font-size="24" font-weight="normal" text-anchor="end" fill="#262626" >-10</text>
<text x="95.0" y="989.6" font-family="'Liberation Sans', Arial, Helvetica, sans-serif" font-size="24" font-weight="normal" text-anchor="end" fill="#262626" >0</text>
<text x="95.0" y="899.6" font-family="'Liberation Sans', Arial, Helvetica, sans-serif" font-size="24" font-weight="normal" text-anchor="end" fill="#262626" >10</text>
<text x="95.0" y="809.6" font-family="'Liberation Sans', Arial, Helvetica, sans-serif" font-size="24" font-weight="normal" text-anchor="end" fill="#262626" >20</text>
<rect x="670.5" y="718.0" width="27.0" height="530.0" fill="url(#cbg)" stroke="#262626" stroke-width="1.2"/>
<text x="706.5" y="1256.6" font-family="'Liberation Sans', Arial, Helvetica, sans-serif" font-size="24" font-weight="normal" text-anchor="start" fill="#262626" >-0.2</text>
<text x="706.5" y="1190.3" font-family="'Liberation Sans', Arial, Helvetica, sans-serif" font-size="24" font-weight="normal" text-anchor="start" fill="#262626" >-0.15</text>
<text x="706.5" y="1124.1" font-family="'Liberation Sans', Arial, Helvetica, sans-serif" font-size="24" font-weight="normal" text-anchor="start" fill="#262626" >-0.1</text>
<text x="706.5" y="1057.8" font-family="'Liberation Sans', Arial, Helvetica, sans-serif" font-size="24" font-weight="normal" text-anchor="start" fill="#262626" >-0.05</text>
<text x="706.5" y="991.6" font-family="'Liberation Sans', Arial, Helvetica, sans-serif" font-size="24" font-weight="normal" text-anchor="start" fill="#262626" >0</text>
<text x="706.5" y="925.4" font-family="'Liberation Sans', Arial, Helvetica, sans-serif" font-size="24" font-weight="normal" text-anchor="start" fill="#262626" >0.05</text>
<text x="706.5" y="859.1" font-family="'Liberation Sans', Arial, Helvetica, sans-serif" font-size="24" font-weight="normal" text-anchor="start" fill="#262626" >0.1</text>
<text x="706.5" y="792.9" font-family="'Liberation Sans', Arial, Helvetica, sans-serif" font-size="24" font-weight="normal" text-anchor="start" fill="#262626" >0.15</text>
<text x="706.5" y="726.6" font-family="'Liberation Sans', Arial, Helvetica, sans-serif" font-size="24" font-weight="normal" text-anchor="start" fill="#262626" >0.2</text>
<path d="M697.5,1248.0h-5M697.5,1181.8h-5M697.5,1115.5h-5M697.5,1049.2h-5M697.5,983.0h-5M697.5,916.8h-5M697.5,850.5h-5M697.5,784.2h-5M697.5,718.0h-5" stroke="#262626" stroke-width="1.2"/>
<path d="M1011.0,1248.9v-5M1011.0,713.2v5M1120.2,1248.9v-5M1120.2,713.2v5M1229.3,1248.9v-5M1229.3,713.2v5M1338.5,1248.9v-5M1338.5,713.2v5M1447.7,1248.9v-5M1447.7,713.2v5M907.5,1159.4h5M1447.7,1159.4h-5M907.5,1070.2h5M1447.7,1070.2h-5M907.5,981.0h5M1447.7,981.0h-5M907.5,891.8h5M1447.7,891.8h-5M907.5,802.6h5M1447.7,802.6h-5" stroke="#555" stroke-width="1.2" fill="none"/>
<rect x="907.5" y="713.2" width="540.2" height="535.7" fill="none" stroke="#6b6b6b" stroke-width="1.3"/>
<text x="1011.0" y="1283.1" font-family="'DejaVu Sans', 'Liberation Sans', sans-serif" font-size="24" font-weight="normal" text-anchor="middle" fill="#262626" >0.2</text>
<text x="1120.2" y="1283.1" font-family="'DejaVu Sans', 'Liberation Sans', sans-serif" font-size="24" font-weight="normal" text-anchor="middle" fill="#262626" >0.4</text>
<text x="1229.3" y="1283.1" font-family="'DejaVu Sans', 'Liberation Sans', sans-serif" font-size="24" font-weight="normal" text-anchor="middle" fill="#262626" >0.6</text>
<text x="1338.5" y="1283.1" font-family="'DejaVu Sans', 'Liberation Sans', sans-serif" font-size="24" font-weight="normal" text-anchor="middle" fill="#262626" >0.8</text>
<text x="1447.7" y="1283.1" font-family="'DejaVu Sans', 'Liberation Sans', sans-serif" font-size="24" font-weight="normal" text-anchor="middle" fill="#262626" >1</text>
<text x="897.2" y="1168.0" font-family="'DejaVu Sans', 'Liberation Sans', sans-serif" font-size="24" font-weight="normal" text-anchor="end" fill="#262626" >&#8722;20</text>
<text x="897.2" y="1078.8" font-family="'DejaVu Sans', 'Liberation Sans', sans-serif" font-size="24" font-weight="normal" text-anchor="end" fill="#262626" >&#8722;10</text>
<text x="897.2" y="989.6" font-family="'DejaVu Sans', 'Liberation Sans', sans-serif" font-size="24" font-weight="normal" text-anchor="end" fill="#262626" >0</text>
<text x="897.2" y="900.4" font-family="'DejaVu Sans', 'Liberation Sans', sans-serif" font-size="24" font-weight="normal" text-anchor="end" fill="#262626" >10</text>
<text x="897.2" y="811.2" font-family="'DejaVu Sans', 'Liberation Sans', sans-serif" font-size="24" font-weight="normal" text-anchor="end" fill="#262626" >20</text>
<rect x="1471.5" y="721.8" width="26.299999999999955" height="529.1000000000001" fill="url(#cbg)" stroke="#262626" stroke-width="1.2"/>
<text x="1508.8" y="1259.5" font-family="'DejaVu Sans', 'Liberation Sans', sans-serif" font-size="24" font-weight="normal" text-anchor="start" fill="#262626" >&#8722;0.2</text>
<text x="1508.8" y="1193.4" font-family="'DejaVu Sans', 'Liberation Sans', sans-serif" font-size="24" font-weight="normal" text-anchor="start" fill="#262626" >&#8722;0.15</text>
<text x="1508.8" y="1127.2" font-family="'DejaVu Sans', 'Liberation Sans', sans-serif" font-size="24" font-weight="normal" text-anchor="start" fill="#262626" >&#8722;0.1</text>
<text x="1508.8" y="1061.1" font-family="'DejaVu Sans', 'Liberation Sans', sans-serif" font-size="24" font-weight="normal" text-anchor="start" fill="#262626" >&#8722;0.05</text>
<text x="1508.8" y="995.0" font-family="'DejaVu Sans', 'Liberation Sans', sans-serif" font-size="24" font-weight="normal" text-anchor="start" fill="#262626" >0</text>
<text x="1508.8" y="928.8" font-family="'DejaVu Sans', 'Liberation Sans', sans-serif" font-size="24" font-weight="normal" text-anchor="start" fill="#262626" >0.05</text>
<text x="1508.8" y="862.7" font-family="'DejaVu Sans', 'Liberation Sans', sans-serif" font-size="24" font-weight="normal" text-anchor="start" fill="#262626" >0.1</text>
<text x="1508.8" y="796.5" font-family="'DejaVu Sans', 'Liberation Sans', sans-serif" font-size="24" font-weight="normal" text-anchor="start" fill="#262626" >0.15</text>
<text x="1508.8" y="730.4" font-family="'DejaVu Sans', 'Liberation Sans', sans-serif" font-size="24" font-weight="normal" text-anchor="start" fill="#262626" >0.2</text>
<path d="M1497.8,1250.9h-5M1497.8,1184.8h-5M1497.8,1118.6h-5M1497.8,1052.5h-5M1497.8,986.4h-5M1497.8,920.2h-5M1497.8,854.1h-5M1497.8,787.9h-5M1497.8,721.8h-5" stroke="#262626" stroke-width="1.2"/>
</svg></body></html>
